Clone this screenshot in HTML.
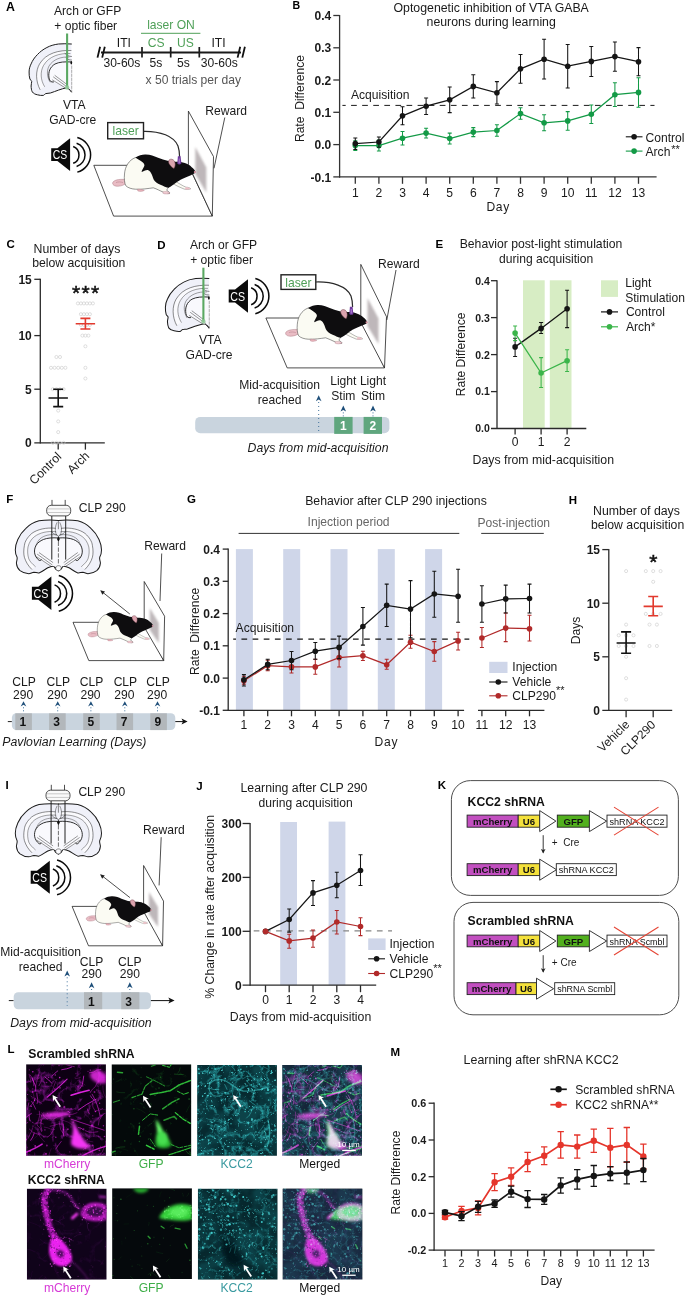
<!DOCTYPE html>
<html><head><meta charset="utf-8"><title>Figure</title>
<style>html,body{margin:0;padding:0;background:#fff}svg{display:block}text{font-family:"Liberation Sans",sans-serif}</style></head>
<body>
<svg width="685" height="1295" viewBox="0 0 685 1295">
<rect width="685" height="1295" fill="#fff"/>
<defs><filter id="b1" x="-20%" y="-20%" width="140%" height="140%"><feGaussianBlur stdDeviation="0.9"/></filter></defs>
<text x="6.0" y="10.8" font-size="12.3" font-weight="bold" fill="#000">A</text>
<text x="54.0" y="15.4" font-size="12.1" fill="#1a1a1a">Arch or GFP</text>
<text x="54.3" y="30.0" font-size="12.1" fill="#1a1a1a">+ optic fiber</text>
<g transform="translate(29.0 43.0) scale(1.0)" fill="none" stroke="#1c1c1c" stroke-width="0.5" stroke-linecap="round">
<path d="M42.4 1C38 0.6 33.5 0.7 29.5 1C25 1.6 21 2.8 17.9 4.5C14 6.5 11 8.8 8.5 11.5C5.5 14.5 3.5 17.5 2.1 20.9C0.8 23.5 0.1 26 0.1 29C0 31.5 0.3 34 0.9 36C1.4 37.2 2.6 37.6 2.7 38.4C2.8 40 2 41.4 2.1 43C2.2 45.2 2.4 47.2 3.3 48.9C4.5 50.6 6.4 51.4 8.5 51.8C10.5 52.3 12.6 52.7 14.4 52.4C15.4 52 15.8 50.9 16.7 50.6C18.2 50.2 19.8 50.4 21.4 50C24.2 49.2 26.8 48 29.5 47.1C32.2 46.2 35 45.2 37.7 44.8C39.5 45 41 46.8 42.4 48.9Z" fill="#f0f1f9" stroke="none"/>
<path d="M42.4 1C38 0.6 33.5 0.7 29.5 1C25 1.6 21 2.8 17.9 4.5C14 6.5 11 8.8 8.5 11.5C5.5 14.5 3.5 17.5 2.1 20.9C0.8 23.5 0.1 26 0.1 29C0 31.5 0.3 34 0.9 36C1.4 37.2 2.6 37.6 2.7 38.4C2.8 40 2 41.4 2.1 43C2.2 45.2 2.4 47.2 3.3 48.9C4.5 50.6 6.4 51.4 8.5 51.8C10.5 52.3 12.6 52.7 14.4 52.4C15.4 52 15.8 50.9 16.7 50.6C18.2 50.2 19.8 50.4 21.4 50C24.2 49.2 26.8 48 29.5 47.1C32.2 46.2 35 45.2 37.7 44.8C39.5 45 41 46.8 42.4 48.9" stroke-width="1"/>
<path d="M42 7.5C30 7 17 10 10.5 21C6.5 28 6.5 38 11 46.5L15.5 43.5C11.5 37 11 29 14.5 22.5C20 13 31 10 41 10.5Z" fill="#fafafd" stroke="none"/>
<path d="M42 7.5C30 7 17 10 10.5 21C6.5 28 6.5 38 11 46.5"/>
<path d="M41 10.5C31 10 20 13 14.5 22.5C11 29 11.5 37 15.5 43.5" stroke-width="0.4"/>
<path d="M40 14C32 13.5 24 16.5 20 23C17.5 28 18 34 21 39" stroke-width="0.4"/>
<path d="M42.4 19C36 18.5 30 19 26 21C21 24 19 29 20 35C20.5 38 22 39.5 24.5 39L37 44.6L42.4 46Z" fill="#f9f9fd" stroke="none"/>
<path d="M42.4 19C36 18.5 30 19 26 21C21 24 19 29 20 35C20.5 38 22 39.5 24.5 39" stroke-width="0.9"/>
<path d="M24.5 34L37.5 43.5M23.5 37L36.5 45M26 32.5L38 41.5" stroke-width="0.45"/>
<path d="M36 10.5C38 12.5 40 13.5 42.5 13.5M37 15C39 17 41 17 42.5 17M38.5 44C39.5 46.5 41 48 42.4 48.6" stroke-width="0.5"/>
<ellipse cx="42.3" cy="19.8" rx="0.9" ry="1.7" fill="#111" stroke="none"/>
<path d="M42.7 23V49" stroke="#777" stroke-dasharray="2.5 1.5" stroke-width="0.6"/>
</g>
<line x1="67.1" y1="33.5" x2="67.1" y2="87.5" stroke="#5aa862" stroke-width="2.1" />
<circle cx="67.1" cy="87.5" r="2.2" fill="#8fca96" opacity="0.8"/>
<text x="74.2" y="109.1" font-size="12.1" text-anchor="middle" fill="#1a1a1a">VTA</text>
<text x="72.7" y="123.7" font-size="12.1" text-anchor="middle" fill="#1a1a1a">GAD-cre</text>
<text x="171.0" y="29.2" font-size="12.1" text-anchor="middle" fill="#4fa058">laser ON</text>
<line x1="141.0" y1="33.3" x2="200.4" y2="33.3" stroke="#4fa058" stroke-width="1" />
<text x="123.9" y="46.7" font-size="12.1" text-anchor="middle" fill="#1a1a1a">ITI</text>
<text x="156.2" y="46.7" font-size="12.1" text-anchor="middle" fill="#4fa058">CS</text>
<text x="185.4" y="46.7" font-size="12.1" text-anchor="middle" fill="#4fa058">US</text>
<text x="218.5" y="46.7" font-size="12.1" text-anchor="middle" fill="#1a1a1a">ITI</text>
<line x1="101.0" y1="52.5" x2="241.0" y2="52.5" stroke="#1a1a1a" stroke-width="1.8" />
<line x1="142.0" y1="47.0" x2="142.0" y2="57.5" stroke="#1a1a1a" stroke-width="1.7" />
<line x1="170.7" y1="47.0" x2="170.7" y2="57.5" stroke="#1a1a1a" stroke-width="1.7" />
<line x1="199.3" y1="47.0" x2="199.3" y2="57.5" stroke="#1a1a1a" stroke-width="1.7" />
<path d="M100.1 46.8L97.5 57.6M104.8 46.8L102.2 57.6" stroke="#111" stroke-width="1.8"/>
<path d="M240.2 46.8L237.6 57.6M244.9 46.8L242.29999999999998 57.6" stroke="#111" stroke-width="1.8"/>
<text x="121.9" y="66.7" font-size="12.1" text-anchor="middle" fill="#1a1a1a">30-60s</text>
<text x="156.0" y="66.7" font-size="12.1" text-anchor="middle" fill="#1a1a1a">5s</text>
<text x="183.3" y="66.7" font-size="12.1" text-anchor="middle" fill="#1a1a1a">5s</text>
<text x="219.2" y="66.7" font-size="12.1" text-anchor="middle" fill="#1a1a1a">30-60s</text>
<text x="145.5" y="83.7" font-size="12.1" fill="#555">x 50 trials per day</text>
<text x="205.3" y="115.3" font-size="12.1" fill="#1a1a1a">Reward</text>
<polygon points="93.8,165.3 188.4,165.3 212.3,216.1 113.6,216.1" fill="#fff" stroke="#222" stroke-width="0.8"/>
<polygon points="188.4,111.1 213.5,156.6 212.3,216.1 188.4,164.8" fill="#fff" stroke="#222" stroke-width="0.8"/>
<line x1="224.8" y1="117.5" x2="214.0" y2="168.3" stroke="#222" stroke-width="0.8" />
<polygon points="195.3,147 206.3,167.5 206.3,192.5 195.3,174" fill="#b3abae" opacity="0.85" filter="url(#b1)"/>
<rect x="107.7" y="122.6" width="35.8" height="16.2" fill="#fff" stroke="#222" stroke-width="1.4" />
<text x="125.6" y="135.2" font-size="12.1" text-anchor="middle" fill="#4fa058">laser</text>
<path d="M143.5 131.3C160 131 174 136 178 146C179.3 150 179.6 154 179.6 157" fill="none" stroke="#2a2a2a" stroke-width="1.2"/>
<g transform="translate(112.0 154.0) scale(1.0)">
<path d="M13.5 25.5C9 25 3 25.5 1 28C-0.5 30.5 2.5 32.6 6.5 32.2C9.5 32 12 31 13.8 29.6Z" fill="#e9bcc4" stroke="#9a6470" stroke-width="0.4"/>
<path d="M4 28.6C6 27.6 9 27.8 11 28.6" fill="none" stroke="#b98590" stroke-width="0.6"/>
<path d="M63 27C67 29.5 71 32 74 33.2C76 33.2 78 33.8 78.8 34.8C76.5 35.8 73.5 35.6 72 35C68 33.5 64 31.5 60.5 29.5Z" fill="#fbfbf3" stroke="#333" stroke-width="0.35"/>
<path d="M73.5 33.3C75.5 33.1 78 33.8 78.8 34.8C77 35.6 74.8 35.6 73 35.2Z" fill="#eec0c8"/>
<path d="M23.4 3.6C17 6 13 12.5 12.5 20C12 25 12.5 29 13.8 31.7C16 34 20 35 23.4 35.2C30 35.6 36 34.5 41.3 33.8C45 35 48 36.8 50.9 38C52.5 39.2 55 39.8 57.5 39.6C58.2 38.6 57 37.6 55.5 37.2C54.5 36 55 34.8 56.4 33.8L58 20L36 4Z" fill="#fbfbf3" stroke="#2a2a2a" stroke-width="0.5"/>
<path d="M25.5 35.3C27.5 35 30.5 35.4 32.4 36.4C30.5 37.6 27.5 37.7 25.8 37Z" fill="#e9b3bb" stroke="#9a6470" stroke-width="0.3"/>
<path d="M51 37.9C53 37.2 56.5 37.6 58 39C56 40.3 52.5 40.2 50.9 39.3Z" fill="#f3cfd5" stroke="#9a6470" stroke-width="0.3"/>
<path d="M23.4 3.6C26.5 1.6 30 0.7 33 0.6C38 0.4 42 2.2 45.4 3.6C49 5 53 6.3 56.4 7C58.5 7.4 61 7.5 63.2 7.7C66.5 7.6 70 8 72.8 9.1C75.5 10 78 11.5 79.7 13.2C81.5 14.5 83 16.3 83.5 18C83.3 19.2 81 20.4 78.3 21.4C75.5 22.6 72.5 23.8 70.1 24.9C68 26 66 27.2 64.6 28.3C62 30.5 59 32.5 56.4 33.8C54.5 33.6 52.5 32.6 50.9 31.7C47.5 30.5 44.5 29 42.7 26.9C41 25 40.8 22.8 39.9 20.8C39 18.6 37.8 16.6 35.8 16C33.5 15.8 31.5 17.5 29.6 18C29.6 16 31.8 14 32.4 11.8C32.6 9.8 30.8 8.2 28.9 7C27 5.8 25 4.6 23.4 3.6Z" fill="#0e0d0f"/>
<path d="M57 6C58.5 4.6 61 5 62.4 7C63.6 9.4 63.4 12.6 62 14.4C60 13.6 58 11.6 57 9.4C56.4 8 56.4 6.8 57 6Z" fill="#dba3ae" stroke="#6a3e48" stroke-width="0.5"/>
<circle cx="82.9" cy="18.1" r="1.1" fill="#d995a2"/>
<path d="M65.9 2.2H68.6L69.4 9.6C68.2 10.8 66.4 10.8 65.3 9.6Z" fill="#6f3a9c"/>
<path d="M66.7 4.5H67.9L68.2 9C67.6 9.5 67 9.5 66.5 9Z" fill="#a070c8"/>
</g>
<g transform="translate(51.2 137.3) scale(1.0)">
<path d="M0 11H6.2L18.9 1V33.7L6.2 23.7H0Z" fill="#0a0a0a"/>
<path d="M22 9.2A9 9 0 0 1 22 26" fill="none" stroke="#0a0a0a" stroke-width="1.5"/>
<path d="M25.4 6A12.2 12.2 0 0 1 25.4 29.2" fill="none" stroke="#0a0a0a" stroke-width="1.5"/>
<path d="M26.1 0.2A17.9 17.9 0 0 1 26.1 34.8" fill="none" stroke="#0a0a0a" stroke-width="1.5"/>
<text x="1.6" y="21.9" font-size="12.3" fill="#fff" textLength="14.5" lengthAdjust="spacingAndGlyphs">CS</text>
</g>
<text x="292.5" y="8.9" font-size="10.6" font-weight="bold" fill="#000">B</text>
<text x="491.2" y="11.8" font-size="12.3" text-anchor="middle" fill="#1a1a1a">Optogenetic inhibition of VTA GABA</text>
<text x="491.2" y="26.2" font-size="12.3" text-anchor="middle" fill="#1a1a1a">neurons during learning</text>
<line x1="339.6" y1="15.0" x2="339.6" y2="177.6" stroke="#333" stroke-width="1.3" />
<line x1="339.0" y1="176.9" x2="656.6" y2="176.9" stroke="#333" stroke-width="1.3" />
<line x1="333.3" y1="15.5" x2="339.6" y2="15.5" stroke="#333" stroke-width="1.3" />
<text x="331.2" y="20.1" font-size="12" text-anchor="end" font-weight="bold" fill="#1a1a1a">0.4</text>
<line x1="333.3" y1="47.8" x2="339.6" y2="47.8" stroke="#333" stroke-width="1.3" />
<text x="331.2" y="52.4" font-size="12" text-anchor="end" font-weight="bold" fill="#1a1a1a">0.3</text>
<line x1="333.3" y1="80.0" x2="339.6" y2="80.0" stroke="#333" stroke-width="1.3" />
<text x="331.2" y="84.6" font-size="12" text-anchor="end" font-weight="bold" fill="#1a1a1a">0.2</text>
<line x1="333.3" y1="112.3" x2="339.6" y2="112.3" stroke="#333" stroke-width="1.3" />
<text x="331.2" y="116.9" font-size="12" text-anchor="end" font-weight="bold" fill="#1a1a1a">0.1</text>
<line x1="333.3" y1="144.6" x2="339.6" y2="144.6" stroke="#333" stroke-width="1.3" />
<text x="331.2" y="149.2" font-size="12" text-anchor="end" font-weight="bold" fill="#1a1a1a">0.0</text>
<line x1="333.3" y1="176.9" x2="339.6" y2="176.9" stroke="#333" stroke-width="1.3" />
<text x="331.2" y="181.5" font-size="12" text-anchor="end" font-weight="bold" fill="#1a1a1a">-0.1</text>
<line x1="355.3" y1="176.9" x2="355.3" y2="183.8" stroke="#333" stroke-width="1.3" />
<text x="355.3" y="196.6" font-size="12.1" text-anchor="middle" fill="#1a1a1a">1</text>
<line x1="378.9" y1="176.9" x2="378.9" y2="183.8" stroke="#333" stroke-width="1.3" />
<text x="378.9" y="196.6" font-size="12.1" text-anchor="middle" fill="#1a1a1a">2</text>
<line x1="402.5" y1="176.9" x2="402.5" y2="183.8" stroke="#333" stroke-width="1.3" />
<text x="402.5" y="196.6" font-size="12.1" text-anchor="middle" fill="#1a1a1a">3</text>
<line x1="426.1" y1="176.9" x2="426.1" y2="183.8" stroke="#333" stroke-width="1.3" />
<text x="426.1" y="196.6" font-size="12.1" text-anchor="middle" fill="#1a1a1a">4</text>
<line x1="449.7" y1="176.9" x2="449.7" y2="183.8" stroke="#333" stroke-width="1.3" />
<text x="449.7" y="196.6" font-size="12.1" text-anchor="middle" fill="#1a1a1a">5</text>
<line x1="473.3" y1="176.9" x2="473.3" y2="183.8" stroke="#333" stroke-width="1.3" />
<text x="473.3" y="196.6" font-size="12.1" text-anchor="middle" fill="#1a1a1a">6</text>
<line x1="496.9" y1="176.9" x2="496.9" y2="183.8" stroke="#333" stroke-width="1.3" />
<text x="496.9" y="196.6" font-size="12.1" text-anchor="middle" fill="#1a1a1a">7</text>
<line x1="520.5" y1="176.9" x2="520.5" y2="183.8" stroke="#333" stroke-width="1.3" />
<text x="520.5" y="196.6" font-size="12.1" text-anchor="middle" fill="#1a1a1a">8</text>
<line x1="544.1" y1="176.9" x2="544.1" y2="183.8" stroke="#333" stroke-width="1.3" />
<text x="544.1" y="196.6" font-size="12.1" text-anchor="middle" fill="#1a1a1a">9</text>
<line x1="567.7" y1="176.9" x2="567.7" y2="183.8" stroke="#333" stroke-width="1.3" />
<text x="567.7" y="196.6" font-size="12.1" text-anchor="middle" fill="#1a1a1a">10</text>
<line x1="591.3" y1="176.9" x2="591.3" y2="183.8" stroke="#333" stroke-width="1.3" />
<text x="591.3" y="196.6" font-size="12.1" text-anchor="middle" fill="#1a1a1a">11</text>
<line x1="614.9" y1="176.9" x2="614.9" y2="183.8" stroke="#333" stroke-width="1.3" />
<text x="614.9" y="196.6" font-size="12.1" text-anchor="middle" fill="#1a1a1a">12</text>
<line x1="638.5" y1="176.9" x2="638.5" y2="183.8" stroke="#333" stroke-width="1.3" />
<text x="638.5" y="196.6" font-size="12.1" text-anchor="middle" fill="#1a1a1a">13</text>
<text x="498.2" y="210.9" font-size="12.1" text-anchor="middle" fill="#1a1a1a" letter-spacing="0.6">Day</text>
<text x="304.0" y="98.5" font-size="12.1" text-anchor="middle" fill="#1a1a1a" transform="rotate(-90 304.0 98.5)" xml:space="preserve">Rate  Difference</text>
<line x1="342.4" y1="105.4" x2="654.5" y2="105.4" stroke="#1a1a1a" stroke-width="1.0" stroke-dasharray="5.7 5.385" stroke-dashoffset="2.4"/>
<text x="351.0" y="99.3" font-size="12.1" fill="#1a1a1a">Acquisition</text>
<path d="M355.3 150.4V140.8M353.3 150.4h4.0M353.3 140.8h4.0M378.9 151.0V140.1M376.9 151.0h4.0M376.9 140.1h4.0M402.5 144.9V131.5M400.5 144.9h4.0M400.5 131.5h4.0M426.1 137.9V128.3M424.1 137.9h4.0M424.1 128.3h4.0M449.7 144.0V133.1M447.7 144.0h4.0M447.7 133.1h4.0M473.3 136.6V127.6M471.3 136.6h4.0M471.3 127.6h4.0M496.9 136.3V124.8M494.9 136.3h4.0M494.9 124.8h4.0M520.5 119.3V107.8M518.5 119.3h4.0M518.5 107.8h4.0M544.1 130.8V114.8M542.1 130.8h4.0M542.1 114.8h4.0M567.7 130.2V111.6M565.7 130.2h4.0M565.7 111.6h4.0M591.3 123.5V104.9M589.3 123.5h4.0M589.3 104.9h4.0M614.9 106.5V82.8M612.9 106.5h4.0M612.9 82.8h4.0M638.5 107.2V77.7M636.5 107.2h4.0M636.5 77.7h4.0" stroke="#139a46" stroke-width="1.05" fill="none"/>
<polyline points="355.3,145.6 378.9,145.6 402.5,138.2 426.1,133.1 449.7,138.5 473.3,132.1 496.9,130.5 520.5,113.6 544.1,122.8 567.7,120.9 591.3,114.2 614.9,94.7 638.5,92.4" fill="none" stroke="#139a46" stroke-width="1.25"/>
<circle cx="355.3" cy="145.6" r="2.8" fill="#139a46"/>
<circle cx="378.9" cy="145.6" r="2.8" fill="#139a46"/>
<circle cx="402.5" cy="138.2" r="2.8" fill="#139a46"/>
<circle cx="426.1" cy="133.1" r="2.8" fill="#139a46"/>
<circle cx="449.7" cy="138.5" r="2.8" fill="#139a46"/>
<circle cx="473.3" cy="132.1" r="2.8" fill="#139a46"/>
<circle cx="496.9" cy="130.5" r="2.8" fill="#139a46"/>
<circle cx="520.5" cy="113.6" r="2.8" fill="#139a46"/>
<circle cx="544.1" cy="122.8" r="2.8" fill="#139a46"/>
<circle cx="567.7" cy="120.9" r="2.8" fill="#139a46"/>
<circle cx="591.3" cy="114.2" r="2.8" fill="#139a46"/>
<circle cx="614.9" cy="94.7" r="2.8" fill="#139a46"/>
<circle cx="638.5" cy="92.4" r="2.8" fill="#139a46"/>
<path d="M355.3 149.4V137.9M353.3 149.4h4.0M353.3 137.9h4.0M378.9 147.2V136.9M376.9 147.2h4.0M376.9 136.9h4.0M402.5 124.8V106.8M400.5 124.8h4.0M400.5 106.8h4.0M426.1 114.5V97.9M424.1 114.5h4.0M424.1 97.9h4.0M449.7 112.6V87.0M447.7 112.6h4.0M447.7 87.0h4.0M473.3 97.9V74.8M471.3 97.9h4.0M471.3 74.8h4.0M496.9 104.0V81.6M494.9 104.0h4.0M494.9 81.6h4.0M520.5 83.2V54.4M518.5 83.2h4.0M518.5 54.4h4.0M544.1 79.0V39.3M542.1 79.0h4.0M542.1 39.3h4.0M567.7 88.0V44.4M565.7 88.0h4.0M565.7 44.4h4.0M591.3 76.4V46.4M589.3 76.4h4.0M589.3 46.4h4.0M614.9 71.3V41.9M612.9 71.3h4.0M612.9 41.9h4.0M638.5 75.8V47.6M636.5 75.8h4.0M636.5 47.6h4.0" stroke="#151515" stroke-width="1.05" fill="none"/>
<polyline points="355.3,143.6 378.9,142.0 402.5,115.8 426.1,106.2 449.7,99.8 473.3,86.4 496.9,92.8 520.5,68.8 544.1,59.2 567.7,66.2 591.3,61.4 614.9,56.6 638.5,61.7" fill="none" stroke="#151515" stroke-width="1.25"/>
<circle cx="355.3" cy="143.6" r="2.8" fill="#151515"/>
<circle cx="378.9" cy="142.0" r="2.8" fill="#151515"/>
<circle cx="402.5" cy="115.8" r="2.8" fill="#151515"/>
<circle cx="426.1" cy="106.2" r="2.8" fill="#151515"/>
<circle cx="449.7" cy="99.8" r="2.8" fill="#151515"/>
<circle cx="473.3" cy="86.4" r="2.8" fill="#151515"/>
<circle cx="496.9" cy="92.8" r="2.8" fill="#151515"/>
<circle cx="520.5" cy="68.8" r="2.8" fill="#151515"/>
<circle cx="544.1" cy="59.2" r="2.8" fill="#151515"/>
<circle cx="567.7" cy="66.2" r="2.8" fill="#151515"/>
<circle cx="591.3" cy="61.4" r="2.8" fill="#151515"/>
<circle cx="614.9" cy="56.6" r="2.8" fill="#151515"/>
<circle cx="638.5" cy="61.7" r="2.8" fill="#151515"/>
<line x1="625.8" y1="136.8" x2="642.5" y2="136.8" stroke="#151515" stroke-width="1.1" />
<circle cx="634.1" cy="136.8" r="2.8" fill="#151515"/>
<text x="645.5" y="141.8" font-size="12.1" fill="#1a1a1a">Control</text>
<line x1="625.8" y1="151.1" x2="642.5" y2="151.1" stroke="#139a46" stroke-width="1.1" />
<circle cx="634.1" cy="151.1" r="2.8" fill="#139a46"/>
<text x="645.5" y="156.2" font-size="12.1" fill="#1a1a1a">Arch<tspan dy="-3.2" dx="0.8" font-size="11">**</tspan></text>
<text x="6.6" y="248.4" font-size="11.5" font-weight="bold" fill="#000">C</text>
<text x="77.0" y="252.6" font-size="12.3" text-anchor="middle" fill="#1a1a1a">Number of days</text>
<text x="78.8" y="266.9" font-size="12.25" text-anchor="middle" fill="#1a1a1a">below acquisition</text>
<line x1="40.3" y1="278.8" x2="40.3" y2="443.4" stroke="#2a2a2a" stroke-width="1.3" />
<line x1="34.3" y1="442.8" x2="104.8" y2="442.8" stroke="#2a2a2a" stroke-width="1.3" />
<line x1="34.3" y1="279.3" x2="40.3" y2="279.3" stroke="#2a2a2a" stroke-width="1.3" />
<text x="31.8" y="283.6" font-size="12" text-anchor="end" font-weight="bold" fill="#1a1a1a">15</text>
<line x1="34.3" y1="335.6" x2="40.3" y2="335.6" stroke="#2a2a2a" stroke-width="1.3" />
<text x="31.8" y="339.9" font-size="12" text-anchor="end" font-weight="bold" fill="#1a1a1a">10</text>
<line x1="34.3" y1="389.2" x2="40.3" y2="389.2" stroke="#2a2a2a" stroke-width="1.3" />
<text x="31.8" y="393.5" font-size="12" text-anchor="end" font-weight="bold" fill="#1a1a1a">5</text>
<text x="31.8" y="447.1" font-size="12" text-anchor="end" font-weight="bold" fill="#1a1a1a">0</text>
<line x1="58.2" y1="442.8" x2="58.2" y2="449.6" stroke="#2a2a2a" stroke-width="1.3" />
<line x1="85.4" y1="442.8" x2="85.4" y2="449.6" stroke="#2a2a2a" stroke-width="1.3" />
<circle cx="56.4" cy="357.0" r="1.55" fill="none" stroke="#c9c9c9" stroke-width="0.6"/>
<circle cx="60.0" cy="357.0" r="1.55" fill="none" stroke="#c9c9c9" stroke-width="0.6"/>
<circle cx="51.0" cy="367.8" r="1.55" fill="none" stroke="#c9c9c9" stroke-width="0.6"/>
<circle cx="54.6" cy="367.8" r="1.55" fill="none" stroke="#c9c9c9" stroke-width="0.6"/>
<circle cx="58.2" cy="367.8" r="1.55" fill="none" stroke="#c9c9c9" stroke-width="0.6"/>
<circle cx="61.8" cy="367.8" r="1.55" fill="none" stroke="#c9c9c9" stroke-width="0.6"/>
<circle cx="65.4" cy="367.8" r="1.55" fill="none" stroke="#c9c9c9" stroke-width="0.6"/>
<circle cx="52.8" cy="389.2" r="1.55" fill="none" stroke="#c9c9c9" stroke-width="0.6"/>
<circle cx="56.4" cy="389.2" r="1.55" fill="none" stroke="#c9c9c9" stroke-width="0.6"/>
<circle cx="60.0" cy="389.2" r="1.55" fill="none" stroke="#c9c9c9" stroke-width="0.6"/>
<circle cx="63.6" cy="389.2" r="1.55" fill="none" stroke="#c9c9c9" stroke-width="0.6"/>
<circle cx="58.2" cy="410.6" r="1.55" fill="none" stroke="#c9c9c9" stroke-width="0.6"/>
<circle cx="58.2" cy="421.4" r="1.55" fill="none" stroke="#c9c9c9" stroke-width="0.6"/>
<circle cx="58.2" cy="432.1" r="1.55" fill="none" stroke="#c9c9c9" stroke-width="0.6"/>
<circle cx="52.8" cy="442.8" r="1.55" fill="none" stroke="#c9c9c9" stroke-width="0.6"/>
<circle cx="56.4" cy="442.8" r="1.55" fill="none" stroke="#c9c9c9" stroke-width="0.6"/>
<circle cx="60.0" cy="442.8" r="1.55" fill="none" stroke="#c9c9c9" stroke-width="0.6"/>
<circle cx="63.6" cy="442.8" r="1.55" fill="none" stroke="#c9c9c9" stroke-width="0.6"/>
<circle cx="77.9" cy="303.4" r="1.55" fill="none" stroke="#c9c9c9" stroke-width="0.6"/>
<circle cx="80.9" cy="303.4" r="1.55" fill="none" stroke="#c9c9c9" stroke-width="0.6"/>
<circle cx="83.9" cy="303.4" r="1.55" fill="none" stroke="#c9c9c9" stroke-width="0.6"/>
<circle cx="86.9" cy="303.4" r="1.55" fill="none" stroke="#c9c9c9" stroke-width="0.6"/>
<circle cx="89.9" cy="303.4" r="1.55" fill="none" stroke="#c9c9c9" stroke-width="0.6"/>
<circle cx="92.9" cy="303.4" r="1.55" fill="none" stroke="#c9c9c9" stroke-width="0.6"/>
<circle cx="80.9" cy="314.2" r="1.55" fill="none" stroke="#c9c9c9" stroke-width="0.6"/>
<circle cx="83.9" cy="314.2" r="1.55" fill="none" stroke="#c9c9c9" stroke-width="0.6"/>
<circle cx="86.9" cy="314.2" r="1.55" fill="none" stroke="#c9c9c9" stroke-width="0.6"/>
<circle cx="89.9" cy="314.2" r="1.55" fill="none" stroke="#c9c9c9" stroke-width="0.6"/>
<circle cx="80.9" cy="324.9" r="1.55" fill="none" stroke="#c9c9c9" stroke-width="0.6"/>
<circle cx="83.9" cy="324.9" r="1.55" fill="none" stroke="#c9c9c9" stroke-width="0.6"/>
<circle cx="86.9" cy="324.9" r="1.55" fill="none" stroke="#c9c9c9" stroke-width="0.6"/>
<circle cx="89.9" cy="324.9" r="1.55" fill="none" stroke="#c9c9c9" stroke-width="0.6"/>
<circle cx="82.4" cy="335.6" r="1.55" fill="none" stroke="#c9c9c9" stroke-width="0.6"/>
<circle cx="85.4" cy="335.6" r="1.55" fill="none" stroke="#c9c9c9" stroke-width="0.6"/>
<circle cx="88.4" cy="335.6" r="1.55" fill="none" stroke="#c9c9c9" stroke-width="0.6"/>
<circle cx="85.4" cy="346.3" r="1.55" fill="none" stroke="#c9c9c9" stroke-width="0.6"/>
<circle cx="85.4" cy="367.8" r="1.55" fill="none" stroke="#c9c9c9" stroke-width="0.6"/>
<circle cx="85.4" cy="378.5" r="1.55" fill="none" stroke="#c9c9c9" stroke-width="0.6"/>
<path d="M48.5 398.0h19.4M58.2 406.6V389.3M53.2 406.6h10.0M53.2 389.3h10.0" stroke="#111" stroke-width="1.6" fill="none"/>
<path d="M75.7 323.8h19.4M85.4 329.0V318.4M80.4 329.0h10.0M80.4 318.4h10.0" stroke="#e23a2e" stroke-width="1.6" fill="none"/>
<text x="86.2" y="300.2" font-size="21" text-anchor="middle" fill="#111" letter-spacing="1.3" stroke="#111" stroke-width="0.5">***</text>
<text x="62.3" y="457.3" font-size="12.3" text-anchor="end" fill="#1a1a1a" transform="rotate(-45 62.3 457.3)">Control</text>
<text x="90.2" y="456.6" font-size="12.3" text-anchor="end" fill="#1a1a1a" transform="rotate(-45 90.2 456.6)">Arch</text>
<text x="157.2" y="248.5" font-size="11.5" font-weight="bold" fill="#000">D</text>
<text x="189.9" y="248.8" font-size="12.1" fill="#1a1a1a">Arch or GFP</text>
<text x="190.2" y="264.2" font-size="12.1" fill="#1a1a1a">+ optic fiber</text>
<g transform="translate(165.3 277.5) scale(1.03)" fill="none" stroke="#1c1c1c" stroke-width="0.5" stroke-linecap="round">
<path d="M42.4 1C38 0.6 33.5 0.7 29.5 1C25 1.6 21 2.8 17.9 4.5C14 6.5 11 8.8 8.5 11.5C5.5 14.5 3.5 17.5 2.1 20.9C0.8 23.5 0.1 26 0.1 29C0 31.5 0.3 34 0.9 36C1.4 37.2 2.6 37.6 2.7 38.4C2.8 40 2 41.4 2.1 43C2.2 45.2 2.4 47.2 3.3 48.9C4.5 50.6 6.4 51.4 8.5 51.8C10.5 52.3 12.6 52.7 14.4 52.4C15.4 52 15.8 50.9 16.7 50.6C18.2 50.2 19.8 50.4 21.4 50C24.2 49.2 26.8 48 29.5 47.1C32.2 46.2 35 45.2 37.7 44.8C39.5 45 41 46.8 42.4 48.9Z" fill="#f0f1f9" stroke="none"/>
<path d="M42.4 1C38 0.6 33.5 0.7 29.5 1C25 1.6 21 2.8 17.9 4.5C14 6.5 11 8.8 8.5 11.5C5.5 14.5 3.5 17.5 2.1 20.9C0.8 23.5 0.1 26 0.1 29C0 31.5 0.3 34 0.9 36C1.4 37.2 2.6 37.6 2.7 38.4C2.8 40 2 41.4 2.1 43C2.2 45.2 2.4 47.2 3.3 48.9C4.5 50.6 6.4 51.4 8.5 51.8C10.5 52.3 12.6 52.7 14.4 52.4C15.4 52 15.8 50.9 16.7 50.6C18.2 50.2 19.8 50.4 21.4 50C24.2 49.2 26.8 48 29.5 47.1C32.2 46.2 35 45.2 37.7 44.8C39.5 45 41 46.8 42.4 48.9" stroke-width="1"/>
<path d="M42 7.5C30 7 17 10 10.5 21C6.5 28 6.5 38 11 46.5L15.5 43.5C11.5 37 11 29 14.5 22.5C20 13 31 10 41 10.5Z" fill="#fafafd" stroke="none"/>
<path d="M42 7.5C30 7 17 10 10.5 21C6.5 28 6.5 38 11 46.5"/>
<path d="M41 10.5C31 10 20 13 14.5 22.5C11 29 11.5 37 15.5 43.5" stroke-width="0.4"/>
<path d="M40 14C32 13.5 24 16.5 20 23C17.5 28 18 34 21 39" stroke-width="0.4"/>
<path d="M42.4 19C36 18.5 30 19 26 21C21 24 19 29 20 35C20.5 38 22 39.5 24.5 39L37 44.6L42.4 46Z" fill="#f9f9fd" stroke="none"/>
<path d="M42.4 19C36 18.5 30 19 26 21C21 24 19 29 20 35C20.5 38 22 39.5 24.5 39" stroke-width="0.9"/>
<path d="M24.5 34L37.5 43.5M23.5 37L36.5 45M26 32.5L38 41.5" stroke-width="0.45"/>
<path d="M36 10.5C38 12.5 40 13.5 42.5 13.5M37 15C39 17 41 17 42.5 17M38.5 44C39.5 46.5 41 48 42.4 48.6" stroke-width="0.5"/>
<ellipse cx="42.3" cy="19.8" rx="0.9" ry="1.7" fill="#111" stroke="none"/>
<path d="M42.7 23V49" stroke="#777" stroke-dasharray="2.5 1.5" stroke-width="0.6"/>
</g>
<line x1="203.4" y1="267.7" x2="203.4" y2="321.7" stroke="#5aa862" stroke-width="2.1" />
<circle cx="203.4" cy="321.5" r="2.2" fill="#8fca96" opacity="0.8"/>
<text x="210.2" y="343.8" font-size="12.1" text-anchor="middle" fill="#1a1a1a">VTA</text>
<text x="209.1" y="358.9" font-size="12.1" text-anchor="middle" fill="#1a1a1a">GAD-cre</text>
<g transform="translate(228.7 278.3) scale(1.02)">
<path d="M0 11H6.2L18.9 1V33.7L6.2 23.7H0Z" fill="#0a0a0a"/>
<path d="M22 9.2A9 9 0 0 1 22 26" fill="none" stroke="#0a0a0a" stroke-width="1.5"/>
<path d="M25.4 6A12.2 12.2 0 0 1 25.4 29.2" fill="none" stroke="#0a0a0a" stroke-width="1.5"/>
<path d="M26.1 0.2A17.9 17.9 0 0 1 26.1 34.8" fill="none" stroke="#0a0a0a" stroke-width="1.5"/>
<text x="1.6" y="21.9" font-size="12.3" fill="#fff" textLength="14.5" lengthAdjust="spacingAndGlyphs">CS</text>
</g>
<text x="378.0" y="267.7" font-size="12.1" fill="#1a1a1a">Reward</text>
<polygon points="265.9,318.0 361.0,318.0 384.5,367.9 287.2,367.9" fill="#fff" stroke="#222" stroke-width="0.8"/>
<polygon points="360.8,264.4 386.5,316.8 384.5,367.9 360.8,322.5" fill="#fff" stroke="#222" stroke-width="0.8"/>
<line x1="396.0" y1="270.0" x2="386.8" y2="320.0" stroke="#222" stroke-width="0.8" />
<polygon points="367.5,298 378.5,318.5 378.5,344 367.5,326" fill="#b3abae" opacity="0.85" filter="url(#b1)"/>
<rect x="281.0" y="274.8" width="34.8" height="14.6" fill="#fff" stroke="#222" stroke-width="1.4" />
<text x="298.4" y="286.6" font-size="12.1" text-anchor="middle" fill="#4fa058">laser</text>
<path d="M315.8 282C332 281.5 347 286 351 296C352.3 300 352.6 304 352.6 307" fill="none" stroke="#2a2a2a" stroke-width="1.2"/>
<g transform="translate(285.0 304.5) scale(0.985)">
<path d="M13.5 25.5C9 25 3 25.5 1 28C-0.5 30.5 2.5 32.6 6.5 32.2C9.5 32 12 31 13.8 29.6Z" fill="#e9bcc4" stroke="#9a6470" stroke-width="0.4"/>
<path d="M4 28.6C6 27.6 9 27.8 11 28.6" fill="none" stroke="#b98590" stroke-width="0.6"/>
<path d="M63 27C67 29.5 71 32 74 33.2C76 33.2 78 33.8 78.8 34.8C76.5 35.8 73.5 35.6 72 35C68 33.5 64 31.5 60.5 29.5Z" fill="#fbfbf3" stroke="#333" stroke-width="0.35"/>
<path d="M73.5 33.3C75.5 33.1 78 33.8 78.8 34.8C77 35.6 74.8 35.6 73 35.2Z" fill="#eec0c8"/>
<path d="M23.4 3.6C17 6 13 12.5 12.5 20C12 25 12.5 29 13.8 31.7C16 34 20 35 23.4 35.2C30 35.6 36 34.5 41.3 33.8C45 35 48 36.8 50.9 38C52.5 39.2 55 39.8 57.5 39.6C58.2 38.6 57 37.6 55.5 37.2C54.5 36 55 34.8 56.4 33.8L58 20L36 4Z" fill="#fbfbf3" stroke="#2a2a2a" stroke-width="0.5"/>
<path d="M25.5 35.3C27.5 35 30.5 35.4 32.4 36.4C30.5 37.6 27.5 37.7 25.8 37Z" fill="#e9b3bb" stroke="#9a6470" stroke-width="0.3"/>
<path d="M51 37.9C53 37.2 56.5 37.6 58 39C56 40.3 52.5 40.2 50.9 39.3Z" fill="#f3cfd5" stroke="#9a6470" stroke-width="0.3"/>
<path d="M23.4 3.6C26.5 1.6 30 0.7 33 0.6C38 0.4 42 2.2 45.4 3.6C49 5 53 6.3 56.4 7C58.5 7.4 61 7.5 63.2 7.7C66.5 7.6 70 8 72.8 9.1C75.5 10 78 11.5 79.7 13.2C81.5 14.5 83 16.3 83.5 18C83.3 19.2 81 20.4 78.3 21.4C75.5 22.6 72.5 23.8 70.1 24.9C68 26 66 27.2 64.6 28.3C62 30.5 59 32.5 56.4 33.8C54.5 33.6 52.5 32.6 50.9 31.7C47.5 30.5 44.5 29 42.7 26.9C41 25 40.8 22.8 39.9 20.8C39 18.6 37.8 16.6 35.8 16C33.5 15.8 31.5 17.5 29.6 18C29.6 16 31.8 14 32.4 11.8C32.6 9.8 30.8 8.2 28.9 7C27 5.8 25 4.6 23.4 3.6Z" fill="#0e0d0f"/>
<path d="M57 6C58.5 4.6 61 5 62.4 7C63.6 9.4 63.4 12.6 62 14.4C60 13.6 58 11.6 57 9.4C56.4 8 56.4 6.8 57 6Z" fill="#dba3ae" stroke="#6a3e48" stroke-width="0.5"/>
<circle cx="82.9" cy="18.1" r="1.1" fill="#d995a2"/>
<path d="M65.9 2.2H68.6L69.4 9.6C68.2 10.8 66.4 10.8 65.3 9.6Z" fill="#6f3a9c"/>
<path d="M66.7 4.5H67.9L68.2 9C67.6 9.5 67 9.5 66.5 9Z" fill="#a070c8"/>
</g>
<rect x="195.2" y="416.9" width="194.2" height="16.4" fill="#c9d4de" rx="5" />
<rect x="334.2" y="416.9" width="18.4" height="17.0" fill="#5fa67e" />
<text x="343.4" y="430.2" font-size="12" text-anchor="middle" font-weight="bold" fill="#fff">1</text>
<rect x="363.6" y="416.9" width="18.4" height="17.0" fill="#5fa67e" />
<text x="372.8" y="430.2" font-size="12" text-anchor="middle" font-weight="bold" fill="#fff">2</text>
<text x="279.6" y="389.3" font-size="12.1" text-anchor="middle" fill="#1a1a1a">Mid-acquisition</text>
<text x="279.6" y="404.4" font-size="12.1" text-anchor="middle" fill="#1a1a1a">reached</text>
<text x="343.3" y="385.3" font-size="12.1" text-anchor="middle" fill="#1a1a1a">Light</text>
<text x="343.3" y="400.4" font-size="12.1" text-anchor="middle" fill="#1a1a1a">Stim</text>
<line x1="343.3" y1="412.4" x2="343.3" y2="416.9" stroke="#41729c" stroke-width="1.0" stroke-dasharray="1 2"/>
<path d="M343.3 405.6L346.1 411.6L343.3 409.9L340.5 411.6Z" fill="#1d4e79"/>
<text x="373.0" y="385.3" font-size="12.1" text-anchor="middle" fill="#1a1a1a">Light</text>
<text x="373.0" y="400.4" font-size="12.1" text-anchor="middle" fill="#1a1a1a">Stim</text>
<line x1="373.0" y1="412.4" x2="373.0" y2="416.9" stroke="#41729c" stroke-width="1.0" stroke-dasharray="1 2"/>
<path d="M373.0 405.6L375.8 411.6L373.0 409.9L370.2 411.6Z" fill="#1d4e79"/>
<line x1="318.7" y1="402.0" x2="318.7" y2="431.0" stroke="#41729c" stroke-width="1.0" stroke-dasharray="1 3"/>
<path d="M318.7 395.2L321.5 401.2L318.7 399.5L315.9 401.2Z" fill="#1d4e79"/>
<text x="318.0" y="451.6" font-size="12.25" text-anchor="middle" font-style="italic" fill="#1a1a1a">Days from mid-acquisition</text>
<text x="435.4" y="247.7" font-size="11.5" font-weight="bold" fill="#000">E</text>
<text x="541.0" y="247.8" font-size="12.2" text-anchor="middle" fill="#1a1a1a">Behavior post-light stimulation</text>
<text x="546.1" y="262.6" font-size="12.1" text-anchor="middle" fill="#1a1a1a">during acquisition</text>
<rect x="523.0" y="280.3" width="21.7" height="148.2" fill="#d7edc4" />
<rect x="549.8" y="280.3" width="21.7" height="148.2" fill="#d7edc4" />
<line x1="497.0" y1="280.2" x2="497.0" y2="429.0" stroke="#2a2a2a" stroke-width="1.3" />
<line x1="491.0" y1="428.5" x2="586.3" y2="428.5" stroke="#2a2a2a" stroke-width="1.3" />
<line x1="491.0" y1="280.7" x2="497.0" y2="280.7" stroke="#2a2a2a" stroke-width="1.3" />
<text x="489.8" y="284.6" font-size="10.5" text-anchor="end" font-weight="bold" fill="#1a1a1a">0.4</text>
<line x1="491.0" y1="317.6" x2="497.0" y2="317.6" stroke="#2a2a2a" stroke-width="1.3" />
<text x="489.8" y="321.5" font-size="10.5" text-anchor="end" font-weight="bold" fill="#1a1a1a">0.3</text>
<line x1="491.0" y1="354.6" x2="497.0" y2="354.6" stroke="#2a2a2a" stroke-width="1.3" />
<text x="489.8" y="358.5" font-size="10.5" text-anchor="end" font-weight="bold" fill="#1a1a1a">0.2</text>
<line x1="491.0" y1="391.6" x2="497.0" y2="391.6" stroke="#2a2a2a" stroke-width="1.3" />
<text x="489.8" y="395.4" font-size="10.5" text-anchor="end" font-weight="bold" fill="#1a1a1a">0.1</text>
<text x="489.8" y="432.4" font-size="10.5" text-anchor="end" font-weight="bold" fill="#1a1a1a">0.0</text>
<line x1="515.1" y1="428.5" x2="515.1" y2="434.5" stroke="#2a2a2a" stroke-width="1.3" />
<text x="515.1" y="446.4" font-size="12.1" text-anchor="middle" fill="#1a1a1a">0</text>
<line x1="541.1" y1="428.5" x2="541.1" y2="434.5" stroke="#2a2a2a" stroke-width="1.3" />
<text x="541.1" y="446.4" font-size="12.1" text-anchor="middle" fill="#1a1a1a">1</text>
<line x1="567.1" y1="428.5" x2="567.1" y2="434.5" stroke="#2a2a2a" stroke-width="1.3" />
<text x="567.1" y="446.4" font-size="12.1" text-anchor="middle" fill="#1a1a1a">2</text>
<text x="465.2" y="354.4" font-size="12.1" text-anchor="middle" fill="#1a1a1a" transform="rotate(-90 465.2 354.4)">Rate Difference</text>
<text x="543.3" y="463.8" font-size="12.3" text-anchor="middle" fill="#1a1a1a">Days from mid-acquisition</text>
<path d="M515.1 356.4V338.3M513.1 356.4h4.0M513.1 338.3h4.0M541.1 333.5V322.5M539.1 333.5h4.0M539.1 322.5h4.0M567.1 327.6V290.2M565.1 327.6h4.0M565.1 290.2h4.0" stroke="#151515" stroke-width="1.05" fill="none"/>
<polyline points="515.1,346.9 541.1,328.4 567.1,308.7" fill="none" stroke="#151515" stroke-width="1.3"/>
<circle cx="515.1" cy="346.9" r="2.8" fill="#151515"/>
<circle cx="541.1" cy="328.4" r="2.8" fill="#151515"/>
<circle cx="567.1" cy="308.7" r="2.8" fill="#151515"/>
<path d="M515.1 340.6V326.0M513.1 340.6h4.0M513.1 326.0h4.0M541.1 387.5V357.6M539.1 387.5h4.0M539.1 357.6h4.0M567.1 371.4V349.7M565.1 371.4h4.0M565.1 349.7h4.0" stroke="#3bb54a" stroke-width="1.05" fill="none"/>
<polyline points="515.1,333.1 541.1,373.0 567.1,360.7" fill="none" stroke="#3bb54a" stroke-width="1.3"/>
<circle cx="515.1" cy="333.1" r="2.8" fill="#3bb54a"/>
<circle cx="541.1" cy="373.0" r="2.8" fill="#3bb54a"/>
<circle cx="567.1" cy="360.7" r="2.8" fill="#3bb54a"/>
<rect x="601.0" y="280.3" width="17.0" height="16.6" fill="#d7edc4" />
<text x="625.2" y="287.3" font-size="12.1" fill="#1a1a1a">Light</text>
<text x="625.2" y="301.5" font-size="12.1" fill="#1a1a1a">Stimulation</text>
<line x1="601.0" y1="311.9" x2="618.0" y2="311.9" stroke="#151515" stroke-width="1.2" />
<circle cx="609.5" cy="311.9" r="2.8" fill="#151515"/>
<text x="625.9" y="316.1" font-size="12.1" fill="#1a1a1a">Control</text>
<line x1="601.0" y1="326.8" x2="618.0" y2="326.8" stroke="#3bb54a" stroke-width="1.2" />
<circle cx="609.5" cy="326.8" r="2.8" fill="#3bb54a"/>
<text x="625.9" y="331.2" font-size="12.1" fill="#1a1a1a">Arch*</text>
<text x="6.2" y="503.4" font-size="11.5" font-weight="bold" fill="#000">F</text>
<text x="78.8" y="511.7" font-size="12.1" fill="#1a1a1a">CLP 290</text>
<g transform="translate(15.3 519.6) scale(1.0 1.02)" fill="none" stroke="#1c1c1c" stroke-width="0.5" stroke-linecap="round">
<path d="M43.1 0.8C36 0.3 29.5 0.4 23.7 1.2C18.5 2.6 14 5.2 10.6 8.5C7 11.6 4.3 15.4 2.5 19.5C1 22.8 0 26.2 0 29.7C0 32.4 0.7 35 1.8 37C2.3 39 1 41 1.1 42.8C1.4 45.8 2.7 48.4 4.7 50.1C7.2 52 10.3 53 13.5 53C15.4 52.9 16.8 51.7 18.6 51.6C20.3 51.6 22 52.6 23.7 52.3C26.9 51.2 29.6 48.8 32.5 47.2C34.3 46.3 36.5 45.5 38.3 45.7C39.3 46.5 39.8 47.8 40.5 48.7C41.2 49.5 42.1 50 43.1 50.1V0.8Z" fill="#f0f1f9" stroke="none"/><path d="M43.1 0.8C36 0.3 29.5 0.4 23.7 1.2C18.5 2.6 14 5.2 10.6 8.5C7 11.6 4.3 15.4 2.5 19.5C1 22.8 0 26.2 0 29.7C0 32.4 0.7 35 1.8 37C2.3 39 1 41 1.1 42.8C1.4 45.8 2.7 48.4 4.7 50.1C7.2 52 10.3 53 13.5 53C15.4 52.9 16.8 51.7 18.6 51.6C20.3 51.6 22 52.6 23.7 52.3C26.9 51.2 29.6 48.8 32.5 47.2C34.3 46.3 36.5 45.5 38.3 45.7C39.3 46.5 39.8 47.8 40.5 48.7C41.2 49.5 42.1 50 43.1 50.1V0.8Z" transform="translate(86.2 0) scale(-1 1)" fill="#f0f1f9" stroke="none"/>
<g>
<path d="M43.1 0.8C36 0.3 29.5 0.4 23.7 1.2C18.5 2.6 14 5.2 10.6 8.5C7 11.6 4.3 15.4 2.5 19.5C1 22.8 0 26.2 0 29.7C0 32.4 0.7 35 1.8 37C2.3 39 1 41 1.1 42.8C1.4 45.8 2.7 48.4 4.7 50.1C7.2 52 10.3 53 13.5 53C15.4 52.9 16.8 51.7 18.6 51.6C20.3 51.6 22 52.6 23.7 52.3C26.9 51.2 29.6 48.8 32.5 47.2C34.3 46.3 36.5 45.5 38.3 45.7C39.3 46.5 39.8 47.8 40.5 48.7C41.2 49.5 42.1 50 43.1 50.1" stroke-width="1"/>
<path d="M40 8.5C31 7.5 22 9.5 16.4 13.6C12 17.5 9.5 21.5 9.1 25.3C8.2 30 8.3 34 9.1 37C10.5 41.5 13 45.5 16.4 48.7L20 46C17 43.5 14.5 41 13.5 38.5C12.3 35 12 30.5 12.7 26.8C13.8 22.5 16 19 19.3 16.6C24.5 12.8 32 11 40.5 11.8Z" fill="#fafafd" stroke="none"/>
<path d="M40 8.5C31 7.5 22 9.5 16.4 13.6C12 17.5 9.5 21.5 9.1 25.3C8.2 30 8.3 34 9.1 37C10.5 41.5 13 45.5 16.4 48.7"/>
<path d="M40.5 11.8C32 11 24.5 12.8 19.3 16.6C16 19 13.8 22.5 12.7 26.8C12 30.5 12.3 35 13.5 38.5C14.5 41 17 43.5 20 46" stroke-width="0.4"/>
<path d="M41 15C35 14 28.5 15.5 24.5 19C21.5 22 20 26 20.2 30" stroke-width="0.4"/>
<path d="M43.2 18C37 17.6 32 18 28.1 19.5C24.8 20.8 22.2 22.8 20.8 25.3C19.4 27.6 19 30.2 19.3 32.6C19.7 35.4 21.2 38 23.7 39.9L37 45.4L43.2 46Z" fill="#f9f9fd" stroke="none"/>
<path d="M42.7 18C37 17.6 32 18 28.1 19.5C24.8 20.8 22.2 22.8 20.8 25.3C19.4 27.6 19 30.2 19.3 32.6C19.7 35.4 21.2 38 23.7 39.9C24.6 40.4 25.6 40.2 26 39.4" stroke-width="0.9"/>
<path d="M22.2 34.1L36.8 44.3M21.6 36.6L35.5 45.6M24 32.5L37.5 42" stroke-width="0.45"/>
<path d="M41.6 3C40 6 39.4 10 40.6 13.6C41.2 15 42 16 43 16.4" stroke-width="0.45"/>
<path d="M36 11.5C37.5 13.5 39.5 14.8 41.6 15.2" stroke-width="0.45"/>
</g>
<g transform="translate(86.2 0) scale(-1 1)">
<path d="M43.1 0.8C36 0.3 29.5 0.4 23.7 1.2C18.5 2.6 14 5.2 10.6 8.5C7 11.6 4.3 15.4 2.5 19.5C1 22.8 0 26.2 0 29.7C0 32.4 0.7 35 1.8 37C2.3 39 1 41 1.1 42.8C1.4 45.8 2.7 48.4 4.7 50.1C7.2 52 10.3 53 13.5 53C15.4 52.9 16.8 51.7 18.6 51.6C20.3 51.6 22 52.6 23.7 52.3C26.9 51.2 29.6 48.8 32.5 47.2C34.3 46.3 36.5 45.5 38.3 45.7C39.3 46.5 39.8 47.8 40.5 48.7C41.2 49.5 42.1 50 43.1 50.1" stroke-width="1"/>
<path d="M40 8.5C31 7.5 22 9.5 16.4 13.6C12 17.5 9.5 21.5 9.1 25.3C8.2 30 8.3 34 9.1 37C10.5 41.5 13 45.5 16.4 48.7L20 46C17 43.5 14.5 41 13.5 38.5C12.3 35 12 30.5 12.7 26.8C13.8 22.5 16 19 19.3 16.6C24.5 12.8 32 11 40.5 11.8Z" fill="#fafafd" stroke="none"/>
<path d="M40 8.5C31 7.5 22 9.5 16.4 13.6C12 17.5 9.5 21.5 9.1 25.3C8.2 30 8.3 34 9.1 37C10.5 41.5 13 45.5 16.4 48.7"/>
<path d="M40.5 11.8C32 11 24.5 12.8 19.3 16.6C16 19 13.8 22.5 12.7 26.8C12 30.5 12.3 35 13.5 38.5C14.5 41 17 43.5 20 46" stroke-width="0.4"/>
<path d="M41 15C35 14 28.5 15.5 24.5 19C21.5 22 20 26 20.2 30" stroke-width="0.4"/>
<path d="M43.2 18C37 17.6 32 18 28.1 19.5C24.8 20.8 22.2 22.8 20.8 25.3C19.4 27.6 19 30.2 19.3 32.6C19.7 35.4 21.2 38 23.7 39.9L37 45.4L43.2 46Z" fill="#f9f9fd" stroke="none"/>
<path d="M42.7 18C37 17.6 32 18 28.1 19.5C24.8 20.8 22.2 22.8 20.8 25.3C19.4 27.6 19 30.2 19.3 32.6C19.7 35.4 21.2 38 23.7 39.9C24.6 40.4 25.6 40.2 26 39.4" stroke-width="0.9"/>
<path d="M22.2 34.1L36.8 44.3M21.6 36.6L35.5 45.6M24 32.5L37.5 42" stroke-width="0.45"/>
<path d="M41.6 3C40 6 39.4 10 40.6 13.6C41.2 15 42 16 43 16.4" stroke-width="0.45"/>
<path d="M36 11.5C37.5 13.5 39.5 14.8 41.6 15.2" stroke-width="0.45"/>
</g>
<path d="M43.1 1V9" stroke-width="0.5"/>
<path d="M43.1 22V44" stroke="#333" stroke-dasharray="3.5 2.2" stroke-width="0.7"/>
<path d="M43.1 16.4L44.5 19.1L43.1 22L41.7 19.1Z" fill="#111" stroke="none"/>
<path d="M40.3 47C40.6 44.5 45.6 44.5 45.9 47C46.1 49 44.6 50.2 43.1 50.2C41.6 50.2 40.1 49 40.3 47Z" fill="#fbfbfd" stroke-width="0.5"/>
</g>
<g fill="none" stroke="#222" stroke-width="0.8">
<path d="M52.0 499.9v5.4M65.2 499.9v5.4"/>
<path d="M51.8 515.9V559.6M65.7 515.9V559.6" stroke-width="1"/>
<rect x="46.7" y="505.3" width="24" height="10.6" rx="4.5" fill="#fafafa"/>
<path d="M47.2 508.9h23M47.2 512.5h23" stroke="#999" stroke-width="0.5"/>
</g>
<g transform="translate(31.9 575.4) scale(1.03)">
<path d="M0 11H6.2L18.9 1V33.7L6.2 23.7H0Z" fill="#0a0a0a"/>
<path d="M22 9.2A9 9 0 0 1 22 26" fill="none" stroke="#0a0a0a" stroke-width="1.5"/>
<path d="M25.4 6A12.2 12.2 0 0 1 25.4 29.2" fill="none" stroke="#0a0a0a" stroke-width="1.5"/>
<path d="M26.1 0.2A17.9 17.9 0 0 1 26.1 34.8" fill="none" stroke="#0a0a0a" stroke-width="1.5"/>
<text x="1.6" y="21.9" font-size="12.3" fill="#fff" textLength="14.5" lengthAdjust="spacingAndGlyphs">CS</text>
</g>
<path d="M129.8 614L101.5 591.3" stroke="#222" stroke-width="0.8" fill="none"/>
<path d="M100.2 590.3L105 591.6L102.4 594.8Z" fill="#222"/>
<text x="144.2" y="549.7" font-size="12.1" fill="#1a1a1a">Reward</text>
<polygon points="73.0,622.3 144.2,622.3 163.7,660.6 88.8,660.6" fill="#fff" stroke="#222" stroke-width="0.8"/>
<polygon points="144.2,581.5 164.6,616.2 163.7,660.6 144.2,627.0" fill="#fff" stroke="#222" stroke-width="0.8"/>
<line x1="161.7" y1="553.5" x2="160.0" y2="601.0" stroke="#222" stroke-width="0.8" />
<polygon points="149.8,608 158.8,623 158.8,643 149.8,630" fill="#b3abae" opacity="0.85" filter="url(#b1)"/>
<g transform="translate(87.6 611.6) scale(0.785)">
<path d="M13.5 25.5C9 25 3 25.5 1 28C-0.5 30.5 2.5 32.6 6.5 32.2C9.5 32 12 31 13.8 29.6Z" fill="#e9bcc4" stroke="#9a6470" stroke-width="0.4"/>
<path d="M4 28.6C6 27.6 9 27.8 11 28.6" fill="none" stroke="#b98590" stroke-width="0.6"/>
<path d="M63 27C67 29.5 71 32 74 33.2C76 33.2 78 33.8 78.8 34.8C76.5 35.8 73.5 35.6 72 35C68 33.5 64 31.5 60.5 29.5Z" fill="#fbfbf3" stroke="#333" stroke-width="0.35"/>
<path d="M73.5 33.3C75.5 33.1 78 33.8 78.8 34.8C77 35.6 74.8 35.6 73 35.2Z" fill="#eec0c8"/>
<path d="M23.4 3.6C17 6 13 12.5 12.5 20C12 25 12.5 29 13.8 31.7C16 34 20 35 23.4 35.2C30 35.6 36 34.5 41.3 33.8C45 35 48 36.8 50.9 38C52.5 39.2 55 39.8 57.5 39.6C58.2 38.6 57 37.6 55.5 37.2C54.5 36 55 34.8 56.4 33.8L58 20L36 4Z" fill="#fbfbf3" stroke="#2a2a2a" stroke-width="0.5"/>
<path d="M25.5 35.3C27.5 35 30.5 35.4 32.4 36.4C30.5 37.6 27.5 37.7 25.8 37Z" fill="#e9b3bb" stroke="#9a6470" stroke-width="0.3"/>
<path d="M51 37.9C53 37.2 56.5 37.6 58 39C56 40.3 52.5 40.2 50.9 39.3Z" fill="#f3cfd5" stroke="#9a6470" stroke-width="0.3"/>
<path d="M23.4 3.6C26.5 1.6 30 0.7 33 0.6C38 0.4 42 2.2 45.4 3.6C49 5 53 6.3 56.4 7C58.5 7.4 61 7.5 63.2 7.7C66.5 7.6 70 8 72.8 9.1C75.5 10 78 11.5 79.7 13.2C81.5 14.5 83 16.3 83.5 18C83.3 19.2 81 20.4 78.3 21.4C75.5 22.6 72.5 23.8 70.1 24.9C68 26 66 27.2 64.6 28.3C62 30.5 59 32.5 56.4 33.8C54.5 33.6 52.5 32.6 50.9 31.7C47.5 30.5 44.5 29 42.7 26.9C41 25 40.8 22.8 39.9 20.8C39 18.6 37.8 16.6 35.8 16C33.5 15.8 31.5 17.5 29.6 18C29.6 16 31.8 14 32.4 11.8C32.6 9.8 30.8 8.2 28.9 7C27 5.8 25 4.6 23.4 3.6Z" fill="#0e0d0f"/>
<path d="M57 6C58.5 4.6 61 5 62.4 7C63.6 9.4 63.4 12.6 62 14.4C60 13.6 58 11.6 57 9.4C56.4 8 56.4 6.8 57 6Z" fill="#dba3ae" stroke="#6a3e48" stroke-width="0.5"/>
<circle cx="82.9" cy="18.1" r="1.1" fill="#d995a2"/>
</g>
<line x1="7.8" y1="721.6" x2="11.9" y2="721.6" stroke="#222" stroke-width="1" />
<rect x="11.9" y="713.3" width="163.4" height="16.8" fill="#c9d4de" rx="4.5" />
<rect x="15.3" y="713.3" width="16.6" height="16.8" fill="#b2b7bb" />
<text x="22.9" y="726.2" font-size="12" text-anchor="middle" font-weight="bold" fill="#111">1</text>
<text x="24.1" y="685.6" font-size="12.1" text-anchor="middle" fill="#1a1a1a">CLP</text>
<text x="23.1" y="698.8" font-size="12.1" text-anchor="middle" fill="#1a1a1a">290</text>
<line x1="23.5" y1="707.3" x2="23.5" y2="713.3" stroke="#41729c" stroke-width="1.0" stroke-dasharray="1 2"/>
<path d="M23.5 701.3L26.3 706.5L23.5 704.8L20.7 706.5Z" fill="#1d4e79"/>
<rect x="49.1" y="713.3" width="16.6" height="16.8" fill="#b2b7bb" />
<text x="56.7" y="726.2" font-size="12" text-anchor="middle" font-weight="bold" fill="#111">3</text>
<text x="58.3" y="685.6" font-size="12.1" text-anchor="middle" fill="#1a1a1a">CLP</text>
<text x="57.3" y="698.8" font-size="12.1" text-anchor="middle" fill="#1a1a1a">290</text>
<line x1="57.7" y1="707.3" x2="57.7" y2="713.3" stroke="#41729c" stroke-width="1.0" stroke-dasharray="1 2"/>
<path d="M57.7 701.3L60.5 706.5L57.7 704.8L54.9 706.5Z" fill="#1d4e79"/>
<rect x="83.2" y="713.3" width="16.6" height="16.8" fill="#b2b7bb" />
<text x="90.8" y="726.2" font-size="12" text-anchor="middle" font-weight="bold" fill="#111">5</text>
<text x="91.5" y="685.6" font-size="12.1" text-anchor="middle" fill="#1a1a1a">CLP</text>
<text x="90.5" y="698.8" font-size="12.1" text-anchor="middle" fill="#1a1a1a">290</text>
<line x1="90.9" y1="707.3" x2="90.9" y2="713.3" stroke="#41729c" stroke-width="1.0" stroke-dasharray="1 2"/>
<path d="M90.9 701.3L93.7 706.5L90.9 704.8L88.1 706.5Z" fill="#1d4e79"/>
<rect x="116.5" y="713.3" width="16.6" height="16.8" fill="#b2b7bb" />
<text x="124.1" y="726.2" font-size="12" text-anchor="middle" font-weight="bold" fill="#111">7</text>
<text x="125.4" y="685.6" font-size="12.1" text-anchor="middle" fill="#1a1a1a">CLP</text>
<text x="124.4" y="698.8" font-size="12.1" text-anchor="middle" fill="#1a1a1a">290</text>
<line x1="124.8" y1="707.3" x2="124.8" y2="713.3" stroke="#41729c" stroke-width="1.0" stroke-dasharray="1 2"/>
<path d="M124.8 701.3L127.6 706.5L124.8 704.8L122.0 706.5Z" fill="#1d4e79"/>
<rect x="150.3" y="713.3" width="16.6" height="16.8" fill="#b2b7bb" />
<text x="157.9" y="726.2" font-size="12" text-anchor="middle" font-weight="bold" fill="#111">9</text>
<text x="158.1" y="685.6" font-size="12.1" text-anchor="middle" fill="#1a1a1a">CLP</text>
<text x="157.1" y="698.8" font-size="12.1" text-anchor="middle" fill="#1a1a1a">290</text>
<line x1="157.5" y1="707.3" x2="157.5" y2="713.3" stroke="#41729c" stroke-width="1.0" stroke-dasharray="1 2"/>
<path d="M157.5 701.3L160.3 706.5L157.5 704.8L154.7 706.5Z" fill="#1d4e79"/>
<line x1="175.3" y1="721.6" x2="184.0" y2="721.6" stroke="#111" stroke-width="1" />
<path d="M187.6 721.6L181.5 718.6L183 721.6L181.5 724.6Z" fill="#111"/>
<text x="2.2" y="746.4" font-size="12.3" font-style="italic" fill="#1a1a1a">Pavlovian Learning (Days)</text>
<text x="187.0" y="502.9" font-size="11.5" font-weight="bold" fill="#000">G</text>
<text x="396.0" y="505.4" font-size="12.25" text-anchor="middle" fill="#1a1a1a">Behavior after CLP 290 injections</text>
<text x="348.6" y="525.5" font-size="12.1" text-anchor="middle" fill="#666">Injection period</text>
<line x1="238.6" y1="533.4" x2="459.3" y2="533.4" stroke="#333" stroke-width="1" />
<text x="513.8" y="527.4" font-size="12.1" text-anchor="middle" fill="#666">Post-injection</text>
<line x1="481.2" y1="533.4" x2="543.8" y2="533.4" stroke="#333" stroke-width="1" />
<rect x="235.9" y="549.1" width="17.0" height="161.2" fill="#cfd6e9" />
<rect x="283.2" y="549.1" width="17.0" height="161.2" fill="#cfd6e9" />
<rect x="330.5" y="549.1" width="17.0" height="161.2" fill="#cfd6e9" />
<rect x="377.8" y="549.1" width="17.0" height="161.2" fill="#cfd6e9" />
<rect x="425.1" y="549.1" width="17.0" height="161.2" fill="#cfd6e9" />
<line x1="228.2" y1="548.6" x2="228.2" y2="710.8" stroke="#2a2a2a" stroke-width="1.3" />
<line x1="227.7" y1="710.3" x2="464.1" y2="710.3" stroke="#2a2a2a" stroke-width="1.3" />
<line x1="478.0" y1="710.3" x2="544.4" y2="710.3" stroke="#2a2a2a" stroke-width="1.3" />
<line x1="222.7" y1="549.1" x2="228.2" y2="549.1" stroke="#2a2a2a" stroke-width="1.3" />
<text x="219.9" y="553.5" font-size="12" text-anchor="end" font-weight="bold" fill="#1a1a1a">0.4</text>
<line x1="222.7" y1="581.3" x2="228.2" y2="581.3" stroke="#2a2a2a" stroke-width="1.3" />
<text x="219.9" y="585.7" font-size="12" text-anchor="end" font-weight="bold" fill="#1a1a1a">0.3</text>
<line x1="222.7" y1="613.6" x2="228.2" y2="613.6" stroke="#2a2a2a" stroke-width="1.3" />
<text x="219.9" y="618.0" font-size="12" text-anchor="end" font-weight="bold" fill="#1a1a1a">0.2</text>
<line x1="222.7" y1="645.8" x2="228.2" y2="645.8" stroke="#2a2a2a" stroke-width="1.3" />
<text x="219.9" y="650.2" font-size="12" text-anchor="end" font-weight="bold" fill="#1a1a1a">0.1</text>
<line x1="222.7" y1="678.1" x2="228.2" y2="678.1" stroke="#2a2a2a" stroke-width="1.3" />
<text x="219.9" y="682.5" font-size="12" text-anchor="end" font-weight="bold" fill="#1a1a1a">0.0</text>
<line x1="222.7" y1="710.3" x2="228.2" y2="710.3" stroke="#2a2a2a" stroke-width="1.3" />
<text x="219.9" y="714.7" font-size="12" text-anchor="end" font-weight="bold" fill="#1a1a1a">-0.1</text>
<line x1="243.9" y1="710.3" x2="243.9" y2="716.3" stroke="#2a2a2a" stroke-width="1.3" />
<text x="243.9" y="729.4" font-size="12.1" text-anchor="middle" fill="#1a1a1a">1</text>
<line x1="267.7" y1="710.3" x2="267.7" y2="716.3" stroke="#2a2a2a" stroke-width="1.3" />
<text x="267.7" y="729.4" font-size="12.1" text-anchor="middle" fill="#1a1a1a">2</text>
<line x1="291.5" y1="710.3" x2="291.5" y2="716.3" stroke="#2a2a2a" stroke-width="1.3" />
<text x="291.5" y="729.4" font-size="12.1" text-anchor="middle" fill="#1a1a1a">3</text>
<line x1="315.3" y1="710.3" x2="315.3" y2="716.3" stroke="#2a2a2a" stroke-width="1.3" />
<text x="315.3" y="729.4" font-size="12.1" text-anchor="middle" fill="#1a1a1a">4</text>
<line x1="339.1" y1="710.3" x2="339.1" y2="716.3" stroke="#2a2a2a" stroke-width="1.3" />
<text x="339.1" y="729.4" font-size="12.1" text-anchor="middle" fill="#1a1a1a">5</text>
<line x1="362.9" y1="710.3" x2="362.9" y2="716.3" stroke="#2a2a2a" stroke-width="1.3" />
<text x="362.9" y="729.4" font-size="12.1" text-anchor="middle" fill="#1a1a1a">6</text>
<line x1="386.7" y1="710.3" x2="386.7" y2="716.3" stroke="#2a2a2a" stroke-width="1.3" />
<text x="386.7" y="729.4" font-size="12.1" text-anchor="middle" fill="#1a1a1a">7</text>
<line x1="410.5" y1="710.3" x2="410.5" y2="716.3" stroke="#2a2a2a" stroke-width="1.3" />
<text x="410.5" y="729.4" font-size="12.1" text-anchor="middle" fill="#1a1a1a">8</text>
<line x1="434.3" y1="710.3" x2="434.3" y2="716.3" stroke="#2a2a2a" stroke-width="1.3" />
<text x="434.3" y="729.4" font-size="12.1" text-anchor="middle" fill="#1a1a1a">9</text>
<line x1="458.1" y1="710.3" x2="458.1" y2="716.3" stroke="#2a2a2a" stroke-width="1.3" />
<text x="458.1" y="729.4" font-size="12.1" text-anchor="middle" fill="#1a1a1a">10</text>
<line x1="481.9" y1="710.3" x2="481.9" y2="716.3" stroke="#2a2a2a" stroke-width="1.3" />
<text x="481.9" y="729.4" font-size="12.1" text-anchor="middle" fill="#1a1a1a">11</text>
<line x1="505.7" y1="710.3" x2="505.7" y2="716.3" stroke="#2a2a2a" stroke-width="1.3" />
<text x="505.7" y="729.4" font-size="12.1" text-anchor="middle" fill="#1a1a1a">12</text>
<line x1="529.5" y1="710.3" x2="529.5" y2="716.3" stroke="#2a2a2a" stroke-width="1.3" />
<text x="529.5" y="729.4" font-size="12.1" text-anchor="middle" fill="#1a1a1a">13</text>
<text x="386.5" y="746.0" font-size="12.1" text-anchor="middle" fill="#1a1a1a" letter-spacing="0.8">Day</text>
<text x="198.8" y="631.3" font-size="12.1" text-anchor="middle" fill="#1a1a1a" transform="rotate(-90 198.8 631.3)" xml:space="preserve">Rate  Difference</text>
<line x1="233.2" y1="639.1" x2="469.3" y2="639.1" stroke="#151515" stroke-width="1.05" stroke-dasharray="5.7 5.45" stroke-dashoffset="2.9"/>
<text x="235.6" y="632.3" font-size="12.1" fill="#1a1a1a">Acquisition</text>
<path d="M243.9 684.3V676.3M241.9 684.3h4.0M241.9 676.3h4.0M267.7 670.8V660.2M265.7 670.8h4.0M265.7 660.2h4.0M291.5 673.0V661.2M289.5 673.0h4.0M289.5 661.2h4.0M315.3 674.3V659.2M313.3 674.3h4.0M313.3 659.2h4.0M339.1 666.9V648.3M337.1 666.9h4.0M337.1 648.3h4.0M362.9 660.5V651.2M360.9 660.5h4.0M360.9 651.2h4.0M386.7 669.2V659.2M384.7 669.2h4.0M384.7 659.2h4.0M410.5 648.3V635.2M408.5 648.3h4.0M408.5 635.2h4.0M434.3 661.2V641.6M432.3 661.2h4.0M432.3 641.6h4.0M458.1 649.9V632.3M456.1 649.9h4.0M456.1 632.3h4.0" stroke="#b12a2a" stroke-width="1.05" fill="none"/>
<polyline points="243.9,680.8 267.7,665.7 291.5,666.9 315.3,666.9 339.1,657.6 362.9,655.7 386.7,664.7 410.5,642.2 434.3,651.5 458.1,640.9" fill="none" stroke="#b12a2a" stroke-width="1.25"/>
<circle cx="243.9" cy="680.8" r="2.8" fill="#b12a2a"/>
<circle cx="267.7" cy="665.7" r="2.8" fill="#b12a2a"/>
<circle cx="291.5" cy="666.9" r="2.8" fill="#b12a2a"/>
<circle cx="315.3" cy="666.9" r="2.8" fill="#b12a2a"/>
<circle cx="339.1" cy="657.6" r="2.8" fill="#b12a2a"/>
<circle cx="362.9" cy="655.7" r="2.8" fill="#b12a2a"/>
<circle cx="386.7" cy="664.7" r="2.8" fill="#b12a2a"/>
<circle cx="410.5" cy="642.2" r="2.8" fill="#b12a2a"/>
<circle cx="434.3" cy="651.5" r="2.8" fill="#b12a2a"/>
<circle cx="458.1" cy="640.9" r="2.8" fill="#b12a2a"/>
<path d="M243.9 685.9V674.6M241.9 685.9h4.0M241.9 674.6h4.0M267.7 669.8V659.2M265.7 669.8h4.0M265.7 659.2h4.0M291.5 669.8V651.5M289.5 669.8h4.0M289.5 651.5h4.0M315.3 659.2V642.5M313.3 659.2h4.0M313.3 642.5h4.0M339.1 658.6V636.1M337.1 658.6h4.0M337.1 636.1h4.0M362.9 645.1V607.5M360.9 645.1h4.0M360.9 607.5h4.0M386.7 626.5V584.1M384.7 626.5h4.0M384.7 584.1h4.0M410.5 637.7V580.6M408.5 637.7h4.0M408.5 580.6h4.0M434.3 617.2V571.2M432.3 617.2h4.0M432.3 571.2h4.0M458.1 622.3V569.3M456.1 622.3h4.0M456.1 569.3h4.0" stroke="#151515" stroke-width="1.05" fill="none"/>
<polyline points="243.9,679.8 267.7,664.4 291.5,660.5 315.3,651.2 339.1,647.4 362.9,626.5 386.7,605.3 410.5,609.1 434.3,594.0 458.1,596.3" fill="none" stroke="#151515" stroke-width="1.25"/>
<circle cx="243.9" cy="679.8" r="2.8" fill="#151515"/>
<circle cx="267.7" cy="664.4" r="2.8" fill="#151515"/>
<circle cx="291.5" cy="660.5" r="2.8" fill="#151515"/>
<circle cx="315.3" cy="651.2" r="2.8" fill="#151515"/>
<circle cx="339.1" cy="647.4" r="2.8" fill="#151515"/>
<circle cx="362.9" cy="626.5" r="2.8" fill="#151515"/>
<circle cx="386.7" cy="605.3" r="2.8" fill="#151515"/>
<circle cx="410.5" cy="609.1" r="2.8" fill="#151515"/>
<circle cx="434.3" cy="594.0" r="2.8" fill="#151515"/>
<circle cx="458.1" cy="596.3" r="2.8" fill="#151515"/>
<path d="M481.9 647.4V627.4M479.9 647.4h4.0M479.9 627.4h4.0M505.7 641.6V613.0M503.7 641.6h4.0M503.7 613.0h4.0M529.5 640.9V615.2M527.5 640.9h4.0M527.5 615.2h4.0" stroke="#b12a2a" stroke-width="1.05" fill="none"/>
<polyline points="481.9,638.0 505.7,628.1 529.5,628.7" fill="none" stroke="#b12a2a" stroke-width="1.25"/>
<circle cx="481.9" cy="638.0" r="2.8" fill="#b12a2a"/>
<circle cx="505.7" cy="628.1" r="2.8" fill="#b12a2a"/>
<circle cx="529.5" cy="628.7" r="2.8" fill="#b12a2a"/>
<path d="M481.9 622.3V585.7M479.9 622.3h4.0M479.9 585.7h4.0M505.7 613.0V585.1M503.7 613.0h4.0M503.7 585.1h4.0M529.5 613.0V584.1M527.5 613.0h4.0M527.5 584.1h4.0" stroke="#151515" stroke-width="1.05" fill="none"/>
<polyline points="481.9,604.0 505.7,598.9 529.5,598.5" fill="none" stroke="#151515" stroke-width="1.25"/>
<circle cx="481.9" cy="604.0" r="2.8" fill="#151515"/>
<circle cx="505.7" cy="598.9" r="2.8" fill="#151515"/>
<circle cx="529.5" cy="598.5" r="2.8" fill="#151515"/>
<rect x="489.2" y="661.8" width="18.3" height="11.2" fill="#cfd6e9" />
<text x="512.3" y="670.6" font-size="12.1" fill="#1a1a1a">Injection</text>
<line x1="489.2" y1="682.0" x2="507.5" y2="682.0" stroke="#151515" stroke-width="1.1" />
<circle cx="498.3" cy="682" r="2.8" fill="#151515"/>
<text x="512.3" y="685.6" font-size="12.1" fill="#1a1a1a">Vehicle</text>
<line x1="489.2" y1="695.8" x2="507.5" y2="695.8" stroke="#b12a2a" stroke-width="1.1" />
<circle cx="498.3" cy="695.8" r="2.8" fill="#b12a2a"/>
<text x="512.3" y="699.8" font-size="12.1" fill="#1a1a1a">CLP290<tspan dy="-6.3" font-size="11">**</tspan></text>
<text x="568.8" y="503.9" font-size="11.5" font-weight="bold" fill="#000">H</text>
<text x="636.5" y="514.7" font-size="12.3" text-anchor="middle" fill="#1a1a1a">Number of days</text>
<text x="637.6" y="529.0" font-size="12.25" text-anchor="middle" fill="#1a1a1a">below acquisition</text>
<line x1="608.8" y1="549.0" x2="608.8" y2="710.9" stroke="#2a2a2a" stroke-width="1.3" />
<line x1="602.3" y1="710.3" x2="672.2" y2="710.3" stroke="#2a2a2a" stroke-width="1.3" />
<line x1="602.3" y1="549.6" x2="608.8" y2="549.6" stroke="#2a2a2a" stroke-width="1.3" />
<text x="600.0" y="553.9" font-size="12" text-anchor="end" font-weight="bold" fill="#1a1a1a">15</text>
<line x1="602.3" y1="603.2" x2="608.8" y2="603.2" stroke="#2a2a2a" stroke-width="1.3" />
<text x="600.0" y="607.5" font-size="12" text-anchor="end" font-weight="bold" fill="#1a1a1a">10</text>
<line x1="602.3" y1="656.8" x2="608.8" y2="656.8" stroke="#2a2a2a" stroke-width="1.3" />
<text x="600.0" y="661.0" font-size="12" text-anchor="end" font-weight="bold" fill="#1a1a1a">5</text>
<text x="600.0" y="714.6" font-size="12" text-anchor="end" font-weight="bold" fill="#1a1a1a">0</text>
<line x1="626.1" y1="710.3" x2="626.1" y2="717.3" stroke="#2a2a2a" stroke-width="1.3" />
<line x1="653.2" y1="710.3" x2="653.2" y2="717.3" stroke="#2a2a2a" stroke-width="1.3" />
<circle cx="626.1" cy="571.1" r="1.55" fill="none" stroke="#c9c9c9" stroke-width="0.6"/>
<circle cx="626.1" cy="624.6" r="1.55" fill="none" stroke="#c9c9c9" stroke-width="0.6"/>
<circle cx="618.7" cy="635.3" r="1.55" fill="none" stroke="#c9c9c9" stroke-width="0.6"/>
<circle cx="626.1" cy="635.3" r="1.55" fill="none" stroke="#c9c9c9" stroke-width="0.6"/>
<circle cx="633.5" cy="635.3" r="1.55" fill="none" stroke="#c9c9c9" stroke-width="0.6"/>
<circle cx="618.7" cy="646.0" r="1.55" fill="none" stroke="#c9c9c9" stroke-width="0.6"/>
<circle cx="626.1" cy="646.0" r="1.55" fill="none" stroke="#c9c9c9" stroke-width="0.6"/>
<circle cx="633.5" cy="646.0" r="1.55" fill="none" stroke="#c9c9c9" stroke-width="0.6"/>
<circle cx="626.1" cy="656.8" r="1.55" fill="none" stroke="#c9c9c9" stroke-width="0.6"/>
<circle cx="626.1" cy="678.2" r="1.55" fill="none" stroke="#c9c9c9" stroke-width="0.6"/>
<circle cx="626.1" cy="699.6" r="1.55" fill="none" stroke="#c9c9c9" stroke-width="0.6"/>
<circle cx="645.8" cy="571.1" r="1.55" fill="none" stroke="#c9c9c9" stroke-width="0.6"/>
<circle cx="653.2" cy="571.1" r="1.55" fill="none" stroke="#c9c9c9" stroke-width="0.6"/>
<circle cx="660.6" cy="571.1" r="1.55" fill="none" stroke="#c9c9c9" stroke-width="0.6"/>
<circle cx="653.2" cy="581.8" r="1.55" fill="none" stroke="#c9c9c9" stroke-width="0.6"/>
<circle cx="645.8" cy="613.9" r="1.55" fill="none" stroke="#c9c9c9" stroke-width="0.6"/>
<circle cx="653.2" cy="613.9" r="1.55" fill="none" stroke="#c9c9c9" stroke-width="0.6"/>
<circle cx="660.6" cy="613.9" r="1.55" fill="none" stroke="#c9c9c9" stroke-width="0.6"/>
<circle cx="649.5" cy="624.6" r="1.55" fill="none" stroke="#c9c9c9" stroke-width="0.6"/>
<circle cx="656.9" cy="624.6" r="1.55" fill="none" stroke="#c9c9c9" stroke-width="0.6"/>
<circle cx="649.5" cy="646.0" r="1.55" fill="none" stroke="#c9c9c9" stroke-width="0.6"/>
<circle cx="656.9" cy="646.0" r="1.55" fill="none" stroke="#c9c9c9" stroke-width="0.6"/>
<path d="M616.6 643.0h19.0M626.1 653.2V631.9M621.1 653.2h10.0M621.1 631.9h10.0" stroke="#111" stroke-width="1.6" fill="none"/>
<path d="M643.6 606.4h19.2M653.2 615.8V596.5M648.2 615.8h10.0M648.2 596.5h10.0" stroke="#e23a2e" stroke-width="1.6" fill="none"/>
<text x="653.4" y="569.0" font-size="21" text-anchor="middle" fill="#111" stroke="#111" stroke-width="0.5">*</text>
<text x="579.9" y="630.4" font-size="12.1" text-anchor="middle" fill="#1a1a1a" transform="rotate(-90 579.9 630.4)">Days</text>
<text x="630.2" y="725.2" font-size="12.1" text-anchor="end" fill="#1a1a1a" transform="rotate(-45 630.2 725.2)">Vehicle</text>
<text x="656.2" y="725.4" font-size="12.1" text-anchor="end" fill="#1a1a1a" transform="rotate(-45 656.2 725.4)">CLP290</text>
<text x="5.6" y="789.2" font-size="11.5" font-weight="bold" fill="#000">I</text>
<text x="78.4" y="795.5" font-size="12.1" fill="#1a1a1a">CLP 290</text>
<g transform="translate(15.3 803.2) scale(1.0 1.012)" fill="none" stroke="#1c1c1c" stroke-width="0.5" stroke-linecap="round">
<path d="M43.1 0.8C36 0.3 29.5 0.4 23.7 1.2C18.5 2.6 14 5.2 10.6 8.5C7 11.6 4.3 15.4 2.5 19.5C1 22.8 0 26.2 0 29.7C0 32.4 0.7 35 1.8 37C2.3 39 1 41 1.1 42.8C1.4 45.8 2.7 48.4 4.7 50.1C7.2 52 10.3 53 13.5 53C15.4 52.9 16.8 51.7 18.6 51.6C20.3 51.6 22 52.6 23.7 52.3C26.9 51.2 29.6 48.8 32.5 47.2C34.3 46.3 36.5 45.5 38.3 45.7C39.3 46.5 39.8 47.8 40.5 48.7C41.2 49.5 42.1 50 43.1 50.1V0.8Z" fill="#f0f1f9" stroke="none"/><path d="M43.1 0.8C36 0.3 29.5 0.4 23.7 1.2C18.5 2.6 14 5.2 10.6 8.5C7 11.6 4.3 15.4 2.5 19.5C1 22.8 0 26.2 0 29.7C0 32.4 0.7 35 1.8 37C2.3 39 1 41 1.1 42.8C1.4 45.8 2.7 48.4 4.7 50.1C7.2 52 10.3 53 13.5 53C15.4 52.9 16.8 51.7 18.6 51.6C20.3 51.6 22 52.6 23.7 52.3C26.9 51.2 29.6 48.8 32.5 47.2C34.3 46.3 36.5 45.5 38.3 45.7C39.3 46.5 39.8 47.8 40.5 48.7C41.2 49.5 42.1 50 43.1 50.1V0.8Z" transform="translate(86.2 0) scale(-1 1)" fill="#f0f1f9" stroke="none"/>
<g>
<path d="M43.1 0.8C36 0.3 29.5 0.4 23.7 1.2C18.5 2.6 14 5.2 10.6 8.5C7 11.6 4.3 15.4 2.5 19.5C1 22.8 0 26.2 0 29.7C0 32.4 0.7 35 1.8 37C2.3 39 1 41 1.1 42.8C1.4 45.8 2.7 48.4 4.7 50.1C7.2 52 10.3 53 13.5 53C15.4 52.9 16.8 51.7 18.6 51.6C20.3 51.6 22 52.6 23.7 52.3C26.9 51.2 29.6 48.8 32.5 47.2C34.3 46.3 36.5 45.5 38.3 45.7C39.3 46.5 39.8 47.8 40.5 48.7C41.2 49.5 42.1 50 43.1 50.1" stroke-width="1"/>
<path d="M40 8.5C31 7.5 22 9.5 16.4 13.6C12 17.5 9.5 21.5 9.1 25.3C8.2 30 8.3 34 9.1 37C10.5 41.5 13 45.5 16.4 48.7L20 46C17 43.5 14.5 41 13.5 38.5C12.3 35 12 30.5 12.7 26.8C13.8 22.5 16 19 19.3 16.6C24.5 12.8 32 11 40.5 11.8Z" fill="#fafafd" stroke="none"/>
<path d="M40 8.5C31 7.5 22 9.5 16.4 13.6C12 17.5 9.5 21.5 9.1 25.3C8.2 30 8.3 34 9.1 37C10.5 41.5 13 45.5 16.4 48.7"/>
<path d="M40.5 11.8C32 11 24.5 12.8 19.3 16.6C16 19 13.8 22.5 12.7 26.8C12 30.5 12.3 35 13.5 38.5C14.5 41 17 43.5 20 46" stroke-width="0.4"/>
<path d="M41 15C35 14 28.5 15.5 24.5 19C21.5 22 20 26 20.2 30" stroke-width="0.4"/>
<path d="M43.2 18C37 17.6 32 18 28.1 19.5C24.8 20.8 22.2 22.8 20.8 25.3C19.4 27.6 19 30.2 19.3 32.6C19.7 35.4 21.2 38 23.7 39.9L37 45.4L43.2 46Z" fill="#f9f9fd" stroke="none"/>
<path d="M42.7 18C37 17.6 32 18 28.1 19.5C24.8 20.8 22.2 22.8 20.8 25.3C19.4 27.6 19 30.2 19.3 32.6C19.7 35.4 21.2 38 23.7 39.9C24.6 40.4 25.6 40.2 26 39.4" stroke-width="0.9"/>
<path d="M22.2 34.1L36.8 44.3M21.6 36.6L35.5 45.6M24 32.5L37.5 42" stroke-width="0.45"/>
<path d="M41.6 3C40 6 39.4 10 40.6 13.6C41.2 15 42 16 43 16.4" stroke-width="0.45"/>
<path d="M36 11.5C37.5 13.5 39.5 14.8 41.6 15.2" stroke-width="0.45"/>
</g>
<g transform="translate(86.2 0) scale(-1 1)">
<path d="M43.1 0.8C36 0.3 29.5 0.4 23.7 1.2C18.5 2.6 14 5.2 10.6 8.5C7 11.6 4.3 15.4 2.5 19.5C1 22.8 0 26.2 0 29.7C0 32.4 0.7 35 1.8 37C2.3 39 1 41 1.1 42.8C1.4 45.8 2.7 48.4 4.7 50.1C7.2 52 10.3 53 13.5 53C15.4 52.9 16.8 51.7 18.6 51.6C20.3 51.6 22 52.6 23.7 52.3C26.9 51.2 29.6 48.8 32.5 47.2C34.3 46.3 36.5 45.5 38.3 45.7C39.3 46.5 39.8 47.8 40.5 48.7C41.2 49.5 42.1 50 43.1 50.1" stroke-width="1"/>
<path d="M40 8.5C31 7.5 22 9.5 16.4 13.6C12 17.5 9.5 21.5 9.1 25.3C8.2 30 8.3 34 9.1 37C10.5 41.5 13 45.5 16.4 48.7L20 46C17 43.5 14.5 41 13.5 38.5C12.3 35 12 30.5 12.7 26.8C13.8 22.5 16 19 19.3 16.6C24.5 12.8 32 11 40.5 11.8Z" fill="#fafafd" stroke="none"/>
<path d="M40 8.5C31 7.5 22 9.5 16.4 13.6C12 17.5 9.5 21.5 9.1 25.3C8.2 30 8.3 34 9.1 37C10.5 41.5 13 45.5 16.4 48.7"/>
<path d="M40.5 11.8C32 11 24.5 12.8 19.3 16.6C16 19 13.8 22.5 12.7 26.8C12 30.5 12.3 35 13.5 38.5C14.5 41 17 43.5 20 46" stroke-width="0.4"/>
<path d="M41 15C35 14 28.5 15.5 24.5 19C21.5 22 20 26 20.2 30" stroke-width="0.4"/>
<path d="M43.2 18C37 17.6 32 18 28.1 19.5C24.8 20.8 22.2 22.8 20.8 25.3C19.4 27.6 19 30.2 19.3 32.6C19.7 35.4 21.2 38 23.7 39.9L37 45.4L43.2 46Z" fill="#f9f9fd" stroke="none"/>
<path d="M42.7 18C37 17.6 32 18 28.1 19.5C24.8 20.8 22.2 22.8 20.8 25.3C19.4 27.6 19 30.2 19.3 32.6C19.7 35.4 21.2 38 23.7 39.9C24.6 40.4 25.6 40.2 26 39.4" stroke-width="0.9"/>
<path d="M22.2 34.1L36.8 44.3M21.6 36.6L35.5 45.6M24 32.5L37.5 42" stroke-width="0.45"/>
<path d="M41.6 3C40 6 39.4 10 40.6 13.6C41.2 15 42 16 43 16.4" stroke-width="0.45"/>
<path d="M36 11.5C37.5 13.5 39.5 14.8 41.6 15.2" stroke-width="0.45"/>
</g>
<path d="M43.1 1V9" stroke-width="0.5"/>
<path d="M43.1 22V44" stroke="#333" stroke-dasharray="3.5 2.2" stroke-width="0.7"/>
<path d="M43.1 16.4L44.5 19.1L43.1 22L41.7 19.1Z" fill="#111" stroke="none"/>
<path d="M40.3 47C40.6 44.5 45.6 44.5 45.9 47C46.1 49 44.6 50.2 43.1 50.2C41.6 50.2 40.1 49 40.3 47Z" fill="#fbfbfd" stroke-width="0.5"/>
</g>
<g fill="none" stroke="#222" stroke-width="0.8">
<path d="M51.3 784.8v5.4M64.5 784.8v5.4"/>
<path d="M51.1 800.8V843.6M65.0 800.8V843.6" stroke-width="1"/>
<rect x="46.0" y="790.2" width="24" height="10.6" rx="4.5" fill="#fafafa"/>
<path d="M46.5 793.8h23M46.5 797.4h23" stroke="#999" stroke-width="0.5"/>
</g>
<g transform="translate(30.7 859.7) scale(1.01)">
<path d="M0 11H6.2L18.9 1V33.7L6.2 23.7H0Z" fill="#0a0a0a"/>
<path d="M22 9.2A9 9 0 0 1 22 26" fill="none" stroke="#0a0a0a" stroke-width="1.5"/>
<path d="M25.4 6A12.2 12.2 0 0 1 25.4 29.2" fill="none" stroke="#0a0a0a" stroke-width="1.5"/>
<path d="M26.1 0.2A17.9 17.9 0 0 1 26.1 34.8" fill="none" stroke="#0a0a0a" stroke-width="1.5"/>
<text x="1.6" y="21.9" font-size="12.3" fill="#fff" textLength="14.5" lengthAdjust="spacingAndGlyphs">CS</text>
</g>
<path d="M129.9 897.6L101.3 875.2" stroke="#222" stroke-width="0.8" fill="none"/>
<path d="M100 874.2L104.8 875.5L102.2 878.7Z" fill="#222"/>
<text x="143.1" y="833.5" font-size="12.1" fill="#1a1a1a">Reward</text>
<polygon points="72.1,906.4 143.6,906.4 162.6,945.8 88.5,945.8" fill="#fff" stroke="#222" stroke-width="0.8"/>
<polygon points="143.6,865.5 163.5,901.1 162.6,945.8 143.6,911.5" fill="#fff" stroke="#222" stroke-width="0.8"/>
<line x1="161.2" y1="837.2" x2="159.1" y2="885.4" stroke="#222" stroke-width="0.8" />
<polygon points="149,892 158,907 158,927 149,914" fill="#b3abae" opacity="0.85" filter="url(#b1)"/>
<g transform="translate(85.8 895.8) scale(0.785)">
<path d="M13.5 25.5C9 25 3 25.5 1 28C-0.5 30.5 2.5 32.6 6.5 32.2C9.5 32 12 31 13.8 29.6Z" fill="#e9bcc4" stroke="#9a6470" stroke-width="0.4"/>
<path d="M4 28.6C6 27.6 9 27.8 11 28.6" fill="none" stroke="#b98590" stroke-width="0.6"/>
<path d="M63 27C67 29.5 71 32 74 33.2C76 33.2 78 33.8 78.8 34.8C76.5 35.8 73.5 35.6 72 35C68 33.5 64 31.5 60.5 29.5Z" fill="#fbfbf3" stroke="#333" stroke-width="0.35"/>
<path d="M73.5 33.3C75.5 33.1 78 33.8 78.8 34.8C77 35.6 74.8 35.6 73 35.2Z" fill="#eec0c8"/>
<path d="M23.4 3.6C17 6 13 12.5 12.5 20C12 25 12.5 29 13.8 31.7C16 34 20 35 23.4 35.2C30 35.6 36 34.5 41.3 33.8C45 35 48 36.8 50.9 38C52.5 39.2 55 39.8 57.5 39.6C58.2 38.6 57 37.6 55.5 37.2C54.5 36 55 34.8 56.4 33.8L58 20L36 4Z" fill="#fbfbf3" stroke="#2a2a2a" stroke-width="0.5"/>
<path d="M25.5 35.3C27.5 35 30.5 35.4 32.4 36.4C30.5 37.6 27.5 37.7 25.8 37Z" fill="#e9b3bb" stroke="#9a6470" stroke-width="0.3"/>
<path d="M51 37.9C53 37.2 56.5 37.6 58 39C56 40.3 52.5 40.2 50.9 39.3Z" fill="#f3cfd5" stroke="#9a6470" stroke-width="0.3"/>
<path d="M23.4 3.6C26.5 1.6 30 0.7 33 0.6C38 0.4 42 2.2 45.4 3.6C49 5 53 6.3 56.4 7C58.5 7.4 61 7.5 63.2 7.7C66.5 7.6 70 8 72.8 9.1C75.5 10 78 11.5 79.7 13.2C81.5 14.5 83 16.3 83.5 18C83.3 19.2 81 20.4 78.3 21.4C75.5 22.6 72.5 23.8 70.1 24.9C68 26 66 27.2 64.6 28.3C62 30.5 59 32.5 56.4 33.8C54.5 33.6 52.5 32.6 50.9 31.7C47.5 30.5 44.5 29 42.7 26.9C41 25 40.8 22.8 39.9 20.8C39 18.6 37.8 16.6 35.8 16C33.5 15.8 31.5 17.5 29.6 18C29.6 16 31.8 14 32.4 11.8C32.6 9.8 30.8 8.2 28.9 7C27 5.8 25 4.6 23.4 3.6Z" fill="#0e0d0f"/>
<path d="M57 6C58.5 4.6 61 5 62.4 7C63.6 9.4 63.4 12.6 62 14.4C60 13.6 58 11.6 57 9.4C56.4 8 56.4 6.8 57 6Z" fill="#dba3ae" stroke="#6a3e48" stroke-width="0.5"/>
<circle cx="82.9" cy="18.1" r="1.1" fill="#d995a2"/>
</g>
<text x="40.6" y="956.4" font-size="12.1" text-anchor="middle" fill="#1a1a1a">Mid-acquisition</text>
<text x="40.6" y="971.0" font-size="12.1" text-anchor="middle" fill="#1a1a1a">reached</text>
<line x1="8.8" y1="1000.6" x2="13.7" y2="1000.6" stroke="#222" stroke-width="1" />
<rect x="13.7" y="992.2" width="137.2" height="17.0" fill="#c9d4de" rx="4.5" />
<rect x="84.0" y="992.2" width="18.2" height="17.0" fill="#b2b7bb" />
<text x="91.4" y="1005.5" font-size="12" text-anchor="middle" font-weight="bold" fill="#111">1</text>
<text x="91.6" y="966.0" font-size="12.1" text-anchor="middle" fill="#1a1a1a">CLP</text>
<text x="91.6" y="977.7" font-size="12.1" text-anchor="middle" fill="#1a1a1a">290</text>
<line x1="91.6" y1="989.0" x2="91.6" y2="992.2" stroke="#41729c" stroke-width="1.0" stroke-dasharray="1 2"/>
<path d="M91.6 982.2L94.4 988.2L91.6 986.5L88.8 988.2Z" fill="#1d4e79"/>
<rect x="121.2" y="992.2" width="18.2" height="17.0" fill="#b2b7bb" />
<text x="128.6" y="1005.5" font-size="12" text-anchor="middle" font-weight="bold" fill="#111">3</text>
<text x="129.8" y="966.0" font-size="12.1" text-anchor="middle" fill="#1a1a1a">CLP</text>
<text x="129.8" y="977.7" font-size="12.1" text-anchor="middle" fill="#1a1a1a">290</text>
<line x1="129.8" y1="989.0" x2="129.8" y2="992.2" stroke="#41729c" stroke-width="1.0" stroke-dasharray="1 2"/>
<path d="M129.8 982.2L132.6 988.2L129.8 986.5L127.0 988.2Z" fill="#1d4e79"/>
<line x1="67.2" y1="977.3" x2="67.2" y2="1006.0" stroke="#41729c" stroke-width="1.0" stroke-dasharray="1 3"/>
<path d="M67.2 970.5L70.0 976.5L67.2 974.8L64.4 976.5Z" fill="#1d4e79"/>
<line x1="150.9" y1="1000.6" x2="171.0" y2="1000.6" stroke="#111" stroke-width="1" />
<path d="M174.6 1000.6L168.3 997.6L169.8 1000.6L168.3 1003.6Z" fill="#111"/>
<text x="10.2" y="1027.0" font-size="12.3" font-style="italic" fill="#1a1a1a">Days from mid-acquisition</text>
<text x="196.3" y="789.7" font-size="11.5" font-weight="bold" fill="#000">J</text>
<text x="304.0" y="791.9" font-size="12.3" text-anchor="middle" fill="#1a1a1a">Learning after CLP 290</text>
<text x="305.6" y="806.9" font-size="12.1" text-anchor="middle" fill="#1a1a1a">during acquisition</text>
<rect x="280.2" y="822.0" width="16.8" height="163.2" fill="#cfd6e9" />
<rect x="328.6" y="821.6" width="16.8" height="163.6" fill="#cfd6e9" />
<line x1="250.1" y1="822.9" x2="250.1" y2="985.8" stroke="#2a2a2a" stroke-width="1.3" />
<line x1="242.6" y1="985.2" x2="376.2" y2="985.2" stroke="#2a2a2a" stroke-width="1.3" />
<line x1="242.6" y1="823.5" x2="250.1" y2="823.5" stroke="#2a2a2a" stroke-width="1.3" />
<text x="241.6" y="827.8" font-size="12" text-anchor="end" font-weight="bold" fill="#1a1a1a">300</text>
<line x1="242.6" y1="877.4" x2="250.1" y2="877.4" stroke="#2a2a2a" stroke-width="1.3" />
<text x="241.6" y="881.7" font-size="12" text-anchor="end" font-weight="bold" fill="#1a1a1a">200</text>
<line x1="242.6" y1="931.3" x2="250.1" y2="931.3" stroke="#2a2a2a" stroke-width="1.3" />
<text x="241.6" y="935.6" font-size="12" text-anchor="end" font-weight="bold" fill="#1a1a1a">100</text>
<text x="241.6" y="989.5" font-size="12" text-anchor="end" font-weight="bold" fill="#1a1a1a">0</text>
<line x1="265.5" y1="985.2" x2="265.5" y2="992.2" stroke="#2a2a2a" stroke-width="1.3" />
<text x="265.5" y="1003.5" font-size="12.1" text-anchor="middle" fill="#1a1a1a">0</text>
<line x1="289.2" y1="985.2" x2="289.2" y2="992.2" stroke="#2a2a2a" stroke-width="1.3" />
<text x="289.2" y="1003.5" font-size="12.1" text-anchor="middle" fill="#1a1a1a">1</text>
<line x1="313.0" y1="985.2" x2="313.0" y2="992.2" stroke="#2a2a2a" stroke-width="1.3" />
<text x="313.0" y="1003.5" font-size="12.1" text-anchor="middle" fill="#1a1a1a">2</text>
<line x1="336.8" y1="985.2" x2="336.8" y2="992.2" stroke="#2a2a2a" stroke-width="1.3" />
<text x="336.8" y="1003.5" font-size="12.1" text-anchor="middle" fill="#1a1a1a">3</text>
<line x1="360.5" y1="985.2" x2="360.5" y2="992.2" stroke="#2a2a2a" stroke-width="1.3" />
<text x="360.5" y="1003.5" font-size="12.1" text-anchor="middle" fill="#1a1a1a">4</text>
<line x1="253.7" y1="930.9" x2="392.0" y2="930.9" stroke="#858585" stroke-width="1.2" stroke-dasharray="5.7 5.5"/>
<text x="214.2" y="906.8" font-size="12.25" text-anchor="middle" fill="#1a1a1a" transform="rotate(-90 214.2 906.8)">% Change in rate after acquisition</text>
<text x="300.5" y="1020.8" font-size="12.3" text-anchor="middle" fill="#1a1a1a">Days from mid-acquisition</text>
<path d="M265.5 931.4V931.4M263.5 931.4h4.0M263.5 931.4h4.0M289.2 932.1V909.0M287.2 932.1h4.0M287.2 909.0h4.0M313.0 905.5V880.6M311.0 905.5h4.0M311.0 880.6h4.0M336.8 897.8V872.2M334.8 897.8h4.0M334.8 872.2h4.0M360.5 885.5V854.7M358.5 885.5h4.0M358.5 854.7h4.0" stroke="#151515" stroke-width="1.05" fill="none"/>
<polyline points="265.5,931.4 289.2,919.5 313.0,892.9 336.8,885.2 360.5,870.5" fill="none" stroke="#151515" stroke-width="1.25"/>
<circle cx="265.5" cy="931.4" r="2.8" fill="#151515"/>
<circle cx="289.2" cy="919.5" r="2.8" fill="#151515"/>
<circle cx="313.0" cy="892.9" r="2.8" fill="#151515"/>
<circle cx="336.8" cy="885.2" r="2.8" fill="#151515"/>
<circle cx="360.5" cy="870.5" r="2.8" fill="#151515"/>
<path d="M265.5 931.4V931.4M263.5 931.4h4.0M263.5 931.4h4.0M289.2 948.2V934.2M287.2 948.2h4.0M287.2 934.2h4.0M313.0 947.2V930.0M311.0 947.2h4.0M311.0 930.0h4.0M336.8 933.9V910.4M334.8 933.9h4.0M334.8 910.4h4.0M360.5 935.6V917.8M358.5 935.6h4.0M358.5 917.8h4.0" stroke="#b12a2a" stroke-width="1.05" fill="none"/>
<polyline points="265.5,931.4 289.2,940.9 313.0,938.1 336.8,922.0 360.5,926.5" fill="none" stroke="#b12a2a" stroke-width="1.25"/>
<circle cx="265.5" cy="931.4" r="2.8" fill="#b12a2a"/>
<circle cx="289.2" cy="940.9" r="2.8" fill="#b12a2a"/>
<circle cx="313.0" cy="938.1" r="2.8" fill="#b12a2a"/>
<circle cx="336.8" cy="922.0" r="2.8" fill="#b12a2a"/>
<circle cx="360.5" cy="926.5" r="2.8" fill="#b12a2a"/>
<rect x="368.2" y="938.4" width="17.4" height="11.6" fill="#cfd6e9" />
<text x="389.5" y="947.8" font-size="12.1" fill="#1a1a1a">Injection</text>
<line x1="368.2" y1="958.8" x2="385.0" y2="958.8" stroke="#151515" stroke-width="1.1" />
<circle cx="376.6" cy="958.8" r="2.8" fill="#151515"/>
<text x="389.5" y="962.8" font-size="12.1" fill="#1a1a1a">Vehicle</text>
<line x1="368.2" y1="973.5" x2="385.0" y2="973.5" stroke="#b12a2a" stroke-width="1.1" />
<circle cx="376.6" cy="973.5" r="2.8" fill="#b12a2a"/>
<text x="389.5" y="977.8" font-size="12.1" fill="#1a1a1a">CLP290<tspan dy="-6.3" font-size="11">**</tspan></text>
<text x="437.8" y="789.0" font-size="11.5" font-weight="bold" fill="#000">K</text>
<rect x="451.4" y="780.6" width="227.0" height="114.8" fill="#fff" stroke="#3a3a3a" stroke-width="0.9" rx="19" />
<text x="467.6" y="806.0" font-size="12.2" font-weight="bold" fill="#111">KCC2 shRNA</text>
<rect x="467.1" y="815.1" width="51.1" height="12.1" fill="#c24fc0" stroke="#222" stroke-width="0.9" />
<text x="492.7" y="824.6" font-size="9.6" text-anchor="middle" font-weight="bold" fill="#111">mCherry</text>
<rect x="518.2" y="815.1" width="21.5" height="12.1" fill="#f4e13b" stroke="#222" stroke-width="0.9" />
<text x="529.0" y="824.6" font-size="9.6" text-anchor="middle" font-weight="bold" fill="#111">U6</text>
<path d="M539.7 810.6L555.9 821.1L539.7 831.6Z" fill="#fff" stroke="#222" stroke-width="0.9"/>
<rect x="557.3" y="815.1" width="32.1" height="12.1" fill="#52b01e" stroke="#222" stroke-width="0.9" />
<text x="573.3" y="824.6" font-size="9.6" text-anchor="middle" font-weight="bold" fill="#111">GFP</text>
<path d="M589.4 810.6L606.6 821.1L589.4 831.6Z" fill="#fff" stroke="#222" stroke-width="0.9"/>
<rect x="607.0" y="815.1" width="60.0" height="12.1" fill="#fff" stroke="#222" stroke-width="0.9" />
<text x="637.0" y="824.6" font-size="9.4" text-anchor="middle" fill="#111" textLength="55" lengthAdjust="spacingAndGlyphs">shRNA KCC2</text>
<path d="M614 807.1L658.5 835.1M658.5 807.1L614 835.1" stroke="#e64535" stroke-width="1.1" fill="none"/>
<line x1="543.2" y1="835.2" x2="543.2" y2="852.6" stroke="#222" stroke-width="0.9" />
<path d="M543.2 853.6L540.9 849.0L543.2 850.1L545.5 849.0Z" fill="#222"/>
<text x="551.8" y="846.4" font-size="10" fill="#1a1a1a" xml:space="preserve">+  Cre</text>
<rect x="467.1" y="863.7" width="51.1" height="11.9" fill="#c24fc0" stroke="#222" stroke-width="0.9" />
<text x="492.7" y="873.2" font-size="9.6" text-anchor="middle" font-weight="bold" fill="#111">mCherry</text>
<rect x="518.2" y="863.7" width="21.5" height="11.9" fill="#f4e13b" stroke="#222" stroke-width="0.9" />
<text x="529.0" y="873.2" font-size="9.6" text-anchor="middle" font-weight="bold" fill="#111">U6</text>
<path d="M539.7 859.2L556.5 869.7L539.7 880.2Z" fill="#fff" stroke="#222" stroke-width="0.9"/>
<rect x="556.3" y="863.7" width="60.0" height="11.9" fill="#fff" stroke="#222" stroke-width="0.9" />
<text x="586.3" y="873.2" font-size="9.4" text-anchor="middle" fill="#111" textLength="55" lengthAdjust="spacingAndGlyphs">shRNA KCC2</text>
<rect x="454.0" y="902.4" width="224.8" height="112.4" fill="#fff" stroke="#3a3a3a" stroke-width="0.9" rx="19" />
<text x="467.6" y="925.4" font-size="12.2" font-weight="bold" fill="#111">Scrambled shRNA</text>
<rect x="467.1" y="935.1" width="51.1" height="11.7" fill="#c24fc0" stroke="#222" stroke-width="0.9" />
<text x="492.7" y="944.5" font-size="9.6" text-anchor="middle" font-weight="bold" fill="#111">mCherry</text>
<rect x="518.2" y="935.1" width="21.5" height="11.7" fill="#f4e13b" stroke="#222" stroke-width="0.9" />
<text x="529.0" y="944.5" font-size="9.6" text-anchor="middle" font-weight="bold" fill="#111">U6</text>
<path d="M539.7 930.5L555.9 941.0L539.7 951.5Z" fill="#fff" stroke="#222" stroke-width="0.9"/>
<rect x="557.3" y="935.1" width="32.1" height="11.7" fill="#52b01e" stroke="#222" stroke-width="0.9" />
<text x="573.3" y="944.5" font-size="9.6" text-anchor="middle" font-weight="bold" fill="#111">GFP</text>
<path d="M589.4 930.5L606.6 941.0L589.4 951.5Z" fill="#fff" stroke="#222" stroke-width="0.9"/>
<rect x="607.0" y="935.1" width="60.0" height="11.7" fill="#fff" stroke="#222" stroke-width="0.9" />
<text x="637.0" y="944.5" font-size="9.4" text-anchor="middle" fill="#111" textLength="55" lengthAdjust="spacingAndGlyphs">shRNA Scmbl</text>
<path d="M614 927.0L658.5 955.0M658.5 927.0L614 955.0" stroke="#e64535" stroke-width="1.1" fill="none"/>
<line x1="543.2" y1="955.2" x2="543.2" y2="971.8" stroke="#222" stroke-width="0.9" />
<path d="M543.2 972.8L540.9 968.2L543.2 969.3L545.5 968.2Z" fill="#222"/>
<text x="551.8" y="965.6" font-size="10" fill="#1a1a1a" xml:space="preserve">+ Cre</text>
<rect x="467.1" y="982.7" width="48.9" height="11.9" fill="#c24fc0" stroke="#222" stroke-width="0.9" />
<text x="491.6" y="992.2" font-size="9.6" text-anchor="middle" font-weight="bold" fill="#111">mCherry</text>
<rect x="516.0" y="982.7" width="20.5" height="11.9" fill="#f4e13b" stroke="#222" stroke-width="0.9" />
<text x="526.2" y="992.2" font-size="9.6" text-anchor="middle" font-weight="bold" fill="#111">U6</text>
<path d="M536.5 978.2L553.6 988.7L536.5 999.2Z" fill="#fff" stroke="#222" stroke-width="0.9"/>
<rect x="554.7" y="982.7" width="60.0" height="11.9" fill="#fff" stroke="#222" stroke-width="0.9" />
<text x="584.7" y="992.2" font-size="9.4" text-anchor="middle" fill="#111" textLength="55" lengthAdjust="spacingAndGlyphs">shRNA Scmbl</text>
<defs>
<filter id="b05"><feGaussianBlur stdDeviation="0.45"/></filter><filter id="b08"><feGaussianBlur stdDeviation="0.8"/></filter><filter id="b12" x="-30%" y="-30%" width="160%" height="160%"><feGaussianBlur stdDeviation="1.4"/></filter><filter id="b2" x="-30%" y="-30%" width="160%" height="160%"><feGaussianBlur stdDeviation="2.5"/></filter>
<filter id="tv1" x="0" y="0" width="100%" height="100%"><feTurbulence type="turbulence" baseFrequency="0.055" numOctaves="4" seed="4" result="n"/><feColorMatrix in="n" type="matrix" values="0 0 0 0 0 0 0 0 0 0 0 0 0 0 0 -4 0 0 0 1.05" result="a"/><feComposite in="SourceGraphic" in2="a" operator="in"/></filter><filter id="tv2" x="0" y="0" width="100%" height="100%"><feTurbulence type="turbulence" baseFrequency="0.05" numOctaves="4" seed="9" result="n"/><feColorMatrix in="n" type="matrix" values="0 0 0 0 0 0 0 0 0 0 0 0 0 0 0 -6 0 0 0 0.9" result="a"/><feComposite in="SourceGraphic" in2="a" operator="in"/></filter><filter id="tv3" x="0" y="0" width="100%" height="100%"><feTurbulence type="turbulence" baseFrequency="0.07" numOctaves="4" seed="7" result="n"/><feColorMatrix in="n" type="matrix" values="0 0 0 0 0 0 0 0 0 0 0 0 0 0 0 -4 0 0 0 1.05" result="a"/><feComposite in="SourceGraphic" in2="a" operator="in"/></filter><filter id="tv4" x="0" y="0" width="100%" height="100%"><feTurbulence type="turbulence" baseFrequency="0.085" numOctaves="4" seed="15" result="n"/><feColorMatrix in="n" type="matrix" values="0 0 0 0 0 0 0 0 0 0 0 0 0 0 0 -4 0 0 0 1.0" result="a"/><feComposite in="SourceGraphic" in2="a" operator="in"/></filter><filter id="tv5" x="0" y="0" width="100%" height="100%"><feTurbulence type="turbulence" baseFrequency="0.3" numOctaves="2" seed="3" result="n"/><feColorMatrix in="n" type="matrix" values="0 0 0 0 0 0 0 0 0 0 0 0 0 0 0 7 0 0 0 -3.3" result="a"/><feComposite in="SourceGraphic" in2="a" operator="in"/></filter><filter id="tvc" x="0" y="0" width="100%" height="100%"><feTurbulence type="fractalNoise" baseFrequency="0.05" numOctaves="3" seed="21" result="n"/><feColorMatrix in="n" type="matrix" values="0 0 0 0 0 0 0 0 0 0 0 0 0 0 0 3.2 0 0 0 -1.15" result="a"/><feComposite in="SourceGraphic" in2="a" operator="in"/></filter>
<clipPath id="ic"><rect width="79.8" height="91.6"/></clipPath>
<g id="m1"><rect width="80" height="92" fill="#0d0013"/><rect width="80" height="92" fill="#c020d0" filter="url(#tv1)" opacity="0.6"/><g filter="url(#b05)"><g fill="none" stroke="#f628f6" stroke-linecap="round" stroke-linejoin="round"><path d="M36.1 51.3L31.5 52.5L27.4 55.0" stroke-width="0.7" opacity="0.55"/><path d="M63.3 8.6L67.3 8.0L70.8 5.8L74.8 5.2" stroke-width="0.9" opacity="0.56"/><path d="M49.1 14.4L51.9 14.0L54.4 13.0" stroke-width="0.5" opacity="0.46"/><path d="M35.2 77.2L32.3 81.0L29.6 84.9" stroke-width="0.6" opacity="0.75"/><path d="M79.5 77.0L79.9 80.5L81.6 83.6" stroke-width="0.8" opacity="0.42"/><path d="M67.6 35.4L65.6 33.8L64.4 31.6" stroke-width="0.7" opacity="0.74"/><path d="M31.7 6.7L28.8 9.0L26.2 11.7" stroke-width="0.9" opacity="0.62"/><path d="M9.4 22.6L10.3 18.6L11.4 14.7L12.3 10.7" stroke-width="0.6" opacity="0.60"/><path d="M10.5 59.0L13.9 58.7L17.2 59.8" stroke-width="0.9" opacity="0.37"/><path d="M70.6 19.3L69.1 22.6L66.4 24.9L64.4 27.9" stroke-width="0.6" opacity="0.62"/><path d="M26.3 27.1L27.7 22.2L29.5 17.5" stroke-width="0.7" opacity="0.45"/><path d="M76.5 44.3L73.6 45.9L70.3 46.3" stroke-width="0.9" opacity="0.34"/><path d="M15.1 67.7L12.0 71.0L8.5 73.9L5.3 77.0" stroke-width="0.5" opacity="0.22"/><path d="M76.8 21.8L77.0 26.0L77.9 30.0L79.9 33.6" stroke-width="0.8" opacity="0.24"/><path d="M18.2 51.2L14.6 50.2L10.8 50.2" stroke-width="0.5" opacity="0.35"/><path d="M35.6 5.5L40.6 4.6L45.4 3.0" stroke-width="0.9" opacity="0.74"/><path d="M52.4 63.3L55.0 64.0L57.1 65.6" stroke-width="0.8" opacity="0.73"/><path d="M1.7 58.3L-1.8 60.0L-4.5 62.9" stroke-width="0.7" opacity="0.61"/><path d="M71.8 67.5L67.5 68.1L63.1 68.0L59.0 66.4" stroke-width="0.9" opacity="0.43"/><path d="M63.1 79.1L60.4 82.3L57.4 85.3" stroke-width="0.5" opacity="0.55"/><path d="M79.3 80.6L77.6 84.1L76.2 87.7L73.7 90.7" stroke-width="0.5" opacity="0.61"/><path d="M2.4 55.1L5.3 57.4L8.1 60.0L9.6 63.4" stroke-width="0.6" opacity="0.21"/><path d="M24.0 62.1L28.3 61.0L32.4 59.7L36.8 59.9" stroke-width="0.6" opacity="0.57"/><path d="M15.8 39.5L12.3 37.1L8.9 34.4L5.1 32.4" stroke-width="0.6" opacity="0.47"/><path d="M66.8 77.7L63.1 77.0L59.4 76.4" stroke-width="0.6" opacity="0.32"/><path d="M33.0 57.3L33.7 61.4L34.6 65.5L36.9 69.0" stroke-width="0.5" opacity="0.68"/><path d="M3.3 64.9L6.2 67.7L9.9 69.4L13.6 70.9" stroke-width="0.5" opacity="0.66"/><path d="M18.9 12.9L22.5 15.7L25.6 19.0" stroke-width="0.9" opacity="0.73"/><path d="M54.6 18.3L56.9 19.4L58.9 20.9" stroke-width="0.6" opacity="0.35"/><path d="M27.6 63.9L26.3 67.6L24.1 70.9L20.9 73.1" stroke-width="0.5" opacity="0.71"/><path d="M57.6 11.9L57.0 16.3L56.2 20.6L53.9 24.3" stroke-width="0.9" opacity="0.72"/><path d="M37.0 59.7L37.4 63.8L37.0 67.9L37.7 71.9" stroke-width="0.9" opacity="0.74"/><path d="M78.0 49.2L75.3 52.6L73.0 56.4L72.3 60.8" stroke-width="0.7" opacity="0.50"/><path d="M61.3 44.7L62.0 47.4L63.4 49.8" stroke-width="0.7" opacity="0.63"/><path d="M11.2 13.6L7.9 16.1L3.8 17.2L-0.2 18.2" stroke-width="0.9" opacity="0.25"/><path d="M17.7 48.2L17.4 51.8L16.0 55.1L14.5 58.4" stroke-width="0.6" opacity="0.41"/><path d="M67.5 82.5L66.5 87.0L65.3 91.4L65.3 95.9" stroke-width="0.7" opacity="0.48"/><path d="M48.3 2.5L44.1 1.6L40.0 0.4" stroke-width="0.7" opacity="0.58"/><path d="M5.3 49.3L1.6 51.9L-1.9 54.5L-4.4 58.2" stroke-width="0.7" opacity="0.65"/><path d="M71.9 43.7L75.1 45.1L78.6 45.3L81.9 46.5" stroke-width="0.5" opacity="0.31"/><path d="M18.1 62.9L21.6 63.6L24.8 65.0L28.3 65.3" stroke-width="0.7" opacity="0.34"/><path d="M15.8 48.6L18.1 52.3L21.4 55.1" stroke-width="0.6" opacity="0.55"/><path d="M50.9 48.5L47.0 50.0L42.8 50.6L38.6 50.0" stroke-width="0.9" opacity="0.37"/><path d="M25.1 84.5L23.6 88.6L23.1 92.9L21.8 97.0" stroke-width="0.6" opacity="0.25"/><path d="M66.4 38.6L66.8 42.9L69.0 46.6" stroke-width="0.6" opacity="0.58"/><path d="M72.7 88.7L76.4 90.2L79.7 92.2L83.5 93.3" stroke-width="0.5" opacity="0.26"/><path d="M3.0 50.5L3.1 53.7L4.0 56.7" stroke-width="0.9" opacity="0.74"/><path d="M74.0 8.7L72.7 13.1L72.1 17.7" stroke-width="0.7" opacity="0.48"/><path d="M34.3 55.0L38.2 56.6L42.2 58.0L45.7 60.3" stroke-width="0.7" opacity="0.31"/><path d="M13.2 47.0L13.6 51.0L12.7 55.0L11.3 58.8" stroke-width="0.7" opacity="0.53"/></g><g fill="none" stroke="#f628f6" stroke-linecap="round" stroke-linejoin="round"><path d="M8.1 68.9L6.7 72.7L4.6 76.1" stroke-width="1.0" opacity="0.63"/><path d="M6.5 63.6L5.4 67.3L3.6 70.7L2.0 74.2" stroke-width="1.0" opacity="0.33"/><path d="M5.5 37.1L7.7 40.9L9.6 44.9" stroke-width="0.7" opacity="0.68"/><path d="M10.7 28.9L11.1 32.4L11.8 35.9L11.0 39.3" stroke-width="0.9" opacity="0.58"/><path d="M12.2 68.8L13.7 72.1L16.0 74.9L18.4 77.6" stroke-width="0.6" opacity="0.38"/><path d="M6.0 14.1L7.8 18.1L9.6 22.2L9.6 26.6" stroke-width="0.9" opacity="0.70"/><path d="M10.2 58.2L11.5 61.5L14.1 64.1L15.5 67.4" stroke-width="0.7" opacity="0.49"/><path d="M2.7 38.7L2.0 41.9L1.5 45.1" stroke-width="0.9" opacity="0.54"/><path d="M5.8 25.7L7.6 30.7L8.4 35.8" stroke-width="0.7" opacity="0.31"/><path d="M3.9 10.7L6.3 13.9L7.5 17.7L7.7 21.7" stroke-width="0.6" opacity="0.70"/><path d="M15.1 12.6L15.0 17.3L12.9 21.5" stroke-width="0.7" opacity="0.51"/><path d="M15.0 52.8L15.0 57.4L14.7 62.0L15.9 66.5" stroke-width="0.9" opacity="0.48"/><path d="M3.3 11.2L4.3 14.6L4.8 18.0" stroke-width="0.8" opacity="0.40"/><path d="M9.3 34.0L7.3 38.7L3.6 42.3" stroke-width="1.0" opacity="0.40"/></g><g fill="#f628f6"><circle cx="9.1" cy="81.8" r="0.9" opacity="0.59"/><circle cx="28.7" cy="24.9" r="0.8" opacity="0.56"/><circle cx="47.2" cy="58.0" r="0.9" opacity="0.35"/><circle cx="19.9" cy="89.7" r="0.9" opacity="0.73"/><circle cx="3.2" cy="5.6" r="0.6" opacity="0.48"/><circle cx="49.7" cy="9.4" r="0.7" opacity="0.29"/><circle cx="6.9" cy="61.9" r="0.7" opacity="0.60"/><circle cx="29.8" cy="43.8" r="0.5" opacity="0.44"/><circle cx="59.4" cy="76.8" r="0.4" opacity="0.32"/><circle cx="64.6" cy="57.1" r="0.9" opacity="0.37"/><circle cx="33.9" cy="23.6" r="0.9" opacity="0.45"/><circle cx="52.2" cy="90.6" r="0.6" opacity="0.55"/><circle cx="59.5" cy="84.3" r="0.7" opacity="0.45"/><circle cx="7.7" cy="80.2" r="0.4" opacity="0.30"/><circle cx="45.0" cy="44.4" r="0.8" opacity="0.41"/><circle cx="61.9" cy="7.0" r="0.5" opacity="0.61"/><circle cx="6.5" cy="27.8" r="0.8" opacity="0.63"/><circle cx="22.6" cy="13.1" r="0.6" opacity="0.65"/><circle cx="29.2" cy="10.8" r="0.8" opacity="0.56"/><circle cx="73.3" cy="86.1" r="0.9" opacity="0.49"/><circle cx="64.1" cy="27.9" r="0.6" opacity="0.47"/><circle cx="74.6" cy="82.0" r="0.5" opacity="0.45"/><circle cx="29.2" cy="33.3" r="0.6" opacity="0.46"/><circle cx="15.6" cy="51.6" r="0.9" opacity="0.55"/><circle cx="66.7" cy="51.6" r="0.5" opacity="0.67"/><circle cx="70.3" cy="25.8" r="0.4" opacity="0.53"/><circle cx="43.4" cy="52.0" r="1.0" opacity="0.61"/><circle cx="64.2" cy="5.9" r="0.7" opacity="0.68"/><circle cx="6.7" cy="7.5" r="0.8" opacity="0.74"/><circle cx="6.8" cy="58.1" r="0.5" opacity="0.66"/><circle cx="51.8" cy="22.5" r="0.5" opacity="0.67"/><circle cx="41.6" cy="70.0" r="0.6" opacity="0.44"/><circle cx="77.3" cy="61.6" r="0.7" opacity="0.55"/><circle cx="57.5" cy="64.9" r="0.9" opacity="0.48"/><circle cx="65.9" cy="61.1" r="0.9" opacity="0.69"/><circle cx="66.5" cy="81.4" r="1.0" opacity="0.60"/><circle cx="41.8" cy="65.0" r="0.9" opacity="0.48"/><circle cx="33.6" cy="13.4" r="0.8" opacity="0.80"/><circle cx="30.0" cy="15.4" r="0.5" opacity="0.48"/><circle cx="23.3" cy="88.8" r="0.4" opacity="0.42"/><circle cx="9.2" cy="59.4" r="0.9" opacity="0.35"/><circle cx="5.0" cy="42.0" r="0.8" opacity="0.75"/><circle cx="2.9" cy="10.0" r="0.5" opacity="0.37"/><circle cx="18.8" cy="65.7" r="0.8" opacity="0.37"/><circle cx="14.8" cy="25.7" r="0.5" opacity="0.67"/><circle cx="24.9" cy="50.2" r="0.9" opacity="0.51"/><circle cx="20.8" cy="81.3" r="0.9" opacity="0.44"/><circle cx="43.7" cy="87.7" r="0.7" opacity="0.37"/><circle cx="4.0" cy="86.8" r="0.9" opacity="0.46"/><circle cx="42.1" cy="47.2" r="0.6" opacity="0.79"/><circle cx="52.5" cy="21.8" r="0.4" opacity="0.51"/><circle cx="29.7" cy="73.0" r="0.8" opacity="0.58"/><circle cx="12.6" cy="14.4" r="0.6" opacity="0.39"/><circle cx="69.4" cy="47.3" r="0.8" opacity="0.80"/><circle cx="21.3" cy="49.0" r="0.5" opacity="0.67"/><circle cx="0.1" cy="75.2" r="0.9" opacity="0.70"/><circle cx="6.6" cy="24.7" r="0.8" opacity="0.30"/><circle cx="38.3" cy="42.9" r="1.0" opacity="0.57"/><circle cx="68.4" cy="27.8" r="0.9" opacity="0.48"/><circle cx="73.2" cy="8.3" r="0.9" opacity="0.36"/><circle cx="43.4" cy="48.2" r="0.5" opacity="0.71"/><circle cx="24.9" cy="28.5" r="0.4" opacity="0.42"/><circle cx="37.3" cy="65.5" r="0.6" opacity="0.63"/><circle cx="8.4" cy="36.1" r="0.7" opacity="0.78"/><circle cx="66.2" cy="59.9" r="0.4" opacity="0.46"/><circle cx="56.7" cy="21.8" r="0.7" opacity="0.50"/><circle cx="0.8" cy="90.8" r="0.9" opacity="0.36"/><circle cx="49.2" cy="26.6" r="0.6" opacity="0.55"/><circle cx="23.8" cy="30.9" r="0.6" opacity="0.62"/><circle cx="20.5" cy="18.3" r="0.8" opacity="0.43"/><circle cx="75.4" cy="51.6" r="0.8" opacity="0.43"/><circle cx="66.0" cy="8.5" r="0.5" opacity="0.30"/><circle cx="54.1" cy="64.9" r="0.5" opacity="0.47"/><circle cx="66.8" cy="54.3" r="0.5" opacity="0.37"/><circle cx="12.5" cy="11.4" r="0.6" opacity="0.29"/><circle cx="73.5" cy="39.1" r="0.7" opacity="0.61"/><circle cx="61.2" cy="75.2" r="0.6" opacity="0.43"/><circle cx="32.9" cy="1.4" r="0.6" opacity="0.63"/><circle cx="78.4" cy="72.3" r="0.8" opacity="0.58"/><circle cx="1.5" cy="30.3" r="0.6" opacity="0.61"/></g><g fill="none" stroke="#f628f6" stroke-linecap="round"><path d="M63 26Q54 28 45 31" stroke-width="1.6" opacity="0.9"/><path d="M41 15Q32 24 21 33" stroke-width="1.1" opacity="0.8"/><path d="M52 46Q60 40 70 35" stroke-width="1" opacity="0.7"/><path d="M45 55Q60 60 78 66" stroke-width="0.9" opacity="0.6"/><path d="M0 88Q10 84 16 80" stroke-width="1.6" opacity="0.8"/><path d="M56 92Q66 86 80 82" stroke-width="1.4" opacity="0.8"/><path d="M66 30Q72 40 74 52" stroke-width="0.9" opacity="0.6"/></g></g><g filter="url(#b12)"><path d="M45 54C47 57 50.5 63 54 70C57.5 76 62 80 65 83C59 85.5 51 85 45.5 81C44 77.5 46.5 72 47 66C47 61 45.5 58 45 54Z" fill="#ff38ff" opacity="0.95"/><path d="M15.5 51C22 47.5 34 47.5 45.5 48C42 52 36 53 28 53.6C22 54 17.5 53 15.5 51Z" fill="#ee2cee" opacity="0.9"/><path d="M64 10C66 6 71 5 75 7C78 8.5 80 10 80 12V19C76 20 71 19 68 16.5C65.5 15 63.5 12.5 64 10Z" fill="#e828e8" opacity="0.85"/></g></g>
<g id="g1"><rect width="80" height="92" fill="#04090a"/><rect width="80" height="92" fill="#1c7a2a" filter="url(#tv2)" opacity="0.35"/><g filter="url(#b05)"><g fill="none" stroke="#3ae644" stroke-linecap="round" stroke-linejoin="round"><path d="M49.7 67.9L47.9 64.1L44.7 61.4" stroke-width="0.6" opacity="0.29"/><path d="M51.8 82.5L54.4 83.3L57.0 84.3" stroke-width="0.4" opacity="0.14"/><path d="M22.3 83.9L24.6 87.7L26.6 91.6" stroke-width="0.5" opacity="0.10"/><path d="M69.5 19.2L67.6 23.4L64.1 26.4" stroke-width="0.7" opacity="0.24"/><path d="M16.3 86.2L11.9 84.8L7.3 83.9" stroke-width="0.5" opacity="0.13"/><path d="M5.2 27.6L9.2 28.4L13.2 28.4" stroke-width="0.8" opacity="0.20"/><path d="M25.2 44.1L29.8 46.0L33.8 48.8" stroke-width="0.8" opacity="0.10"/><path d="M62.9 33.5L65.0 33.5L67.0 34.3" stroke-width="0.5" opacity="0.25"/><path d="M74.2 86.3L76.5 89.0L79.6 90.8" stroke-width="0.8" opacity="0.26"/><path d="M68.6 3.4L68.0 6.3L66.3 8.8" stroke-width="0.6" opacity="0.28"/><path d="M43.5 28.6L45.6 27.9L47.8 27.5" stroke-width="0.9" opacity="0.13"/><path d="M3.9 90.4L4.2 93.1L3.7 95.7" stroke-width="0.6" opacity="0.18"/><path d="M4.4 83.9L8.8 82.8L13.3 82.6" stroke-width="0.9" opacity="0.23"/><path d="M62.9 9.8L67.4 10.1L71.9 10.3" stroke-width="0.9" opacity="0.27"/><path d="M77.9 41.5L76.3 44.6L74.9 47.7" stroke-width="0.5" opacity="0.18"/><path d="M78.9 87.9L78.8 90.9L79.3 93.9" stroke-width="0.8" opacity="0.27"/></g><g fill="#3ae644"><circle cx="28.8" cy="72.0" r="0.7" opacity="0.34"/><circle cx="53.0" cy="69.6" r="0.5" opacity="0.35"/><circle cx="22.4" cy="44.5" r="0.7" opacity="0.34"/><circle cx="23.4" cy="86.6" r="0.6" opacity="0.30"/><circle cx="0.9" cy="50.1" r="0.4" opacity="0.34"/><circle cx="36.9" cy="74.8" r="0.6" opacity="0.38"/><circle cx="27.8" cy="59.0" r="0.7" opacity="0.39"/><circle cx="27.9" cy="77.2" r="0.7" opacity="0.34"/><circle cx="77.9" cy="87.6" r="0.6" opacity="0.29"/><circle cx="13.3" cy="76.6" r="0.8" opacity="0.27"/><circle cx="55.2" cy="65.9" r="0.7" opacity="0.16"/><circle cx="62.3" cy="53.2" r="0.6" opacity="0.25"/><circle cx="49.8" cy="71.0" r="0.6" opacity="0.35"/><circle cx="2.2" cy="14.7" r="0.5" opacity="0.33"/><circle cx="17.5" cy="62.8" r="0.6" opacity="0.11"/><circle cx="37.6" cy="20.7" r="0.3" opacity="0.15"/><circle cx="25.3" cy="16.6" r="0.4" opacity="0.11"/><circle cx="37.1" cy="34.8" r="0.6" opacity="0.31"/><circle cx="19.0" cy="82.7" r="0.3" opacity="0.24"/><circle cx="22.2" cy="37.6" r="0.4" opacity="0.39"/><circle cx="29.8" cy="3.3" r="0.6" opacity="0.13"/><circle cx="43.5" cy="31.1" r="0.6" opacity="0.44"/><circle cx="65.3" cy="38.4" r="0.7" opacity="0.32"/><circle cx="29.5" cy="13.0" r="0.6" opacity="0.30"/><circle cx="76.4" cy="88.7" r="0.6" opacity="0.22"/><circle cx="71.3" cy="0.1" r="0.4" opacity="0.30"/><circle cx="49.1" cy="12.9" r="0.6" opacity="0.41"/><circle cx="30.0" cy="39.5" r="0.4" opacity="0.20"/><circle cx="77.6" cy="34.8" r="0.8" opacity="0.42"/><circle cx="47.5" cy="23.8" r="0.8" opacity="0.27"/></g><path d="M35.0 12.5L41.8 15.7L46.8 18.2L53.7 22.0" fill="none" stroke="#3ae644" stroke-width="1.0" opacity="0.60" stroke-linecap="round" stroke-linejoin="round" stroke-dasharray="3 1.0 2 1.2"/><path d="M20.5 33.3L30.5 29.8L33.6 22.0L40.5 16.3" fill="none" stroke="#3ae644" stroke-width="1.2" opacity="0.70" stroke-linecap="round" stroke-linejoin="round" stroke-dasharray="4 1.6 3 1.2"/><path d="M38.7 30.1L50.0 28.2L58.8 26.4L67.5 20.7L78.8 16.3" fill="none" stroke="#3ae644" stroke-width="1.5" opacity="0.80" stroke-linecap="round" stroke-linejoin="round" stroke-dasharray="5 1.0 2 1.2"/><path d="M51.0 1.0L58.0 3.0L60.0 0.0" fill="none" stroke="#3ae644" stroke-width="1.0" opacity="0.90" stroke-linecap="round" stroke-linejoin="round" stroke-dasharray="3 1.6 3 1.2"/><path d="M40.0 2.0L44.0 0.5" fill="none" stroke="#3ae644" stroke-width="1.2" opacity="0.60" stroke-linecap="round" stroke-linejoin="round" stroke-dasharray="4 1.0 2 1.2"/><path d="M51.2 44.6L60.0 38.3L67.5 34.5" fill="none" stroke="#3ae644" stroke-width="1.5" opacity="0.70" stroke-linecap="round" stroke-linejoin="round" stroke-dasharray="5 1.6 3 1.2"/><path d="M31.1 55.9L38.7 49.6L46.2 50.8" fill="none" stroke="#3ae644" stroke-width="1.0" opacity="0.80" stroke-linecap="round" stroke-linejoin="round" stroke-dasharray="3 1.0 2 1.2"/><path d="M63.8 48.3L71.3 54.6L79.5 59.6" fill="none" stroke="#3ae644" stroke-width="1.2" opacity="0.90" stroke-linecap="round" stroke-linejoin="round" stroke-dasharray="4 1.6 3 1.2"/><path d="M52.5 55.9L62.5 52.1L65.0 54.6" fill="none" stroke="#3ae644" stroke-width="1.5" opacity="0.60" stroke-linecap="round" stroke-linejoin="round" stroke-dasharray="5 1.0 2 1.2"/><path d="M60.0 80.4L67.5 83.5L79.5 81.0" fill="none" stroke="#3ae644" stroke-width="1.0" opacity="0.70" stroke-linecap="round" stroke-linejoin="round" stroke-dasharray="3 1.6 3 1.2"/><path d="M57.5 90.5L67.5 87.3L78.8 83.5" fill="none" stroke="#3ae644" stroke-width="1.2" opacity="0.80" stroke-linecap="round" stroke-linejoin="round" stroke-dasharray="4 1.0 2 1.2"/><path d="M35.0 81.0L42.5 84.8" fill="none" stroke="#3ae644" stroke-width="1.5" opacity="0.90" stroke-linecap="round" stroke-linejoin="round" stroke-dasharray="5 1.6 3 1.2"/><path d="M38.7 74.7L43.7 82.3" fill="none" stroke="#3ae644" stroke-width="1.0" opacity="0.60" stroke-linecap="round" stroke-linejoin="round" stroke-dasharray="3 1.0 2 1.2"/><path d="M0.0 88.0L4.8 86.6" fill="none" stroke="#3ae644" stroke-width="1.2" opacity="0.70" stroke-linecap="round" stroke-linejoin="round" stroke-dasharray="4 1.6 3 1.2"/><path d="M28.0 62.0L27.0 70.0" fill="none" stroke="#3ae644" stroke-width="1.5" opacity="0.80" stroke-linecap="round" stroke-linejoin="round" stroke-dasharray="5 1.0 2 1.2"/><path d="M66.0 27.0L72.0 30.0L78.0 28.0" fill="none" stroke="#3ae644" stroke-width="1.0" opacity="0.90" stroke-linecap="round" stroke-linejoin="round" stroke-dasharray="3 1.6 3 1.2"/><path d="M2.0 38.0L8.0 36.0" fill="none" stroke="#3ae644" stroke-width="1.2" opacity="0.60" stroke-linecap="round" stroke-linejoin="round" stroke-dasharray="4 1.0 2 1.2"/><path d="M6.0 8.0L12.0 8.5" fill="none" stroke="#3ae644" stroke-width="1.5" opacity="0.70" stroke-linecap="round" stroke-linejoin="round" stroke-dasharray="5 1.6 3 1.2"/></g><g filter="url(#b12)"><path d="M44.3 55C46.5 56.5 49 61 51.5 66C55 71 59.5 77 60 81C57 84.5 49 85 45 82C43 78 44.5 72 45.5 67C45.5 62 44 58.5 44.3 55Z" fill="#2cc034" opacity="0.97"/><path d="M44.6 56C46.5 57.5 48.5 61 50.5 66C49.5 68 47.5 68.5 46 67C45.8 63 44.6 59 44.6 56Z" fill="#6cf870"/><ellipse cx="51" cy="74" rx="5.5" ry="7" fill="#4ce454" opacity="0.85"/></g></g>
<g id="k1"><rect width="80" height="92" fill="#072a30"/><rect width="80" height="92" fill="#1a7a80" filter="url(#tvc)" opacity="0.32"/><rect width="80" height="92" fill="#2fb4b8" filter="url(#tv3)" opacity="0.8"/><rect width="80" height="92" fill="#58e8e8" filter="url(#tv5)" opacity="0.7"/><g filter="url(#b05)"><g fill="#3fd0d0"><circle cx="13.2" cy="63.2" r="0.7" opacity="0.59"/><circle cx="17.2" cy="72.6" r="0.8" opacity="0.61"/><circle cx="40.3" cy="21.6" r="0.4" opacity="0.52"/><circle cx="46.7" cy="6.3" r="0.8" opacity="0.44"/><circle cx="18.6" cy="3.9" r="0.9" opacity="0.74"/><circle cx="69.8" cy="56.4" r="0.4" opacity="0.50"/><circle cx="39.7" cy="10.6" r="0.9" opacity="0.52"/><circle cx="12.4" cy="74.9" r="0.5" opacity="0.86"/><circle cx="36.2" cy="50.6" r="0.6" opacity="0.59"/><circle cx="14.9" cy="3.4" r="0.8" opacity="0.44"/><circle cx="62.3" cy="19.1" r="0.9" opacity="0.84"/><circle cx="60.2" cy="69.9" r="0.7" opacity="0.74"/><circle cx="9.8" cy="43.6" r="0.8" opacity="0.42"/><circle cx="73.7" cy="81.3" r="0.6" opacity="0.52"/><circle cx="36.0" cy="35.3" r="0.9" opacity="0.53"/><circle cx="2.1" cy="8.5" r="0.8" opacity="0.90"/><circle cx="39.6" cy="45.0" r="0.7" opacity="0.75"/><circle cx="17.7" cy="55.8" r="0.7" opacity="0.67"/><circle cx="14.4" cy="15.6" r="0.6" opacity="0.86"/><circle cx="27.7" cy="54.7" r="0.6" opacity="0.36"/><circle cx="5.2" cy="74.5" r="0.8" opacity="0.52"/><circle cx="54.5" cy="61.9" r="0.8" opacity="0.87"/><circle cx="32.5" cy="90.6" r="0.9" opacity="0.65"/><circle cx="70.5" cy="45.0" r="0.6" opacity="0.45"/><circle cx="69.9" cy="14.9" r="0.4" opacity="0.78"/><circle cx="61.8" cy="44.3" r="0.8" opacity="0.33"/><circle cx="20.6" cy="26.6" r="0.6" opacity="0.40"/><circle cx="5.5" cy="31.0" r="0.8" opacity="0.89"/><circle cx="59.5" cy="43.9" r="0.5" opacity="0.88"/><circle cx="41.9" cy="66.7" r="0.4" opacity="0.43"/><circle cx="66.9" cy="72.8" r="0.8" opacity="0.66"/><circle cx="34.0" cy="53.2" r="0.8" opacity="0.48"/><circle cx="42.6" cy="25.3" r="0.8" opacity="0.31"/><circle cx="54.7" cy="87.4" r="0.4" opacity="0.66"/><circle cx="51.4" cy="78.0" r="0.7" opacity="0.45"/><circle cx="32.4" cy="87.8" r="0.9" opacity="0.38"/><circle cx="7.6" cy="8.6" r="0.4" opacity="0.57"/><circle cx="11.2" cy="79.4" r="0.7" opacity="0.38"/><circle cx="43.0" cy="29.7" r="0.6" opacity="0.43"/><circle cx="13.3" cy="16.8" r="0.6" opacity="0.73"/><circle cx="43.9" cy="4.2" r="0.8" opacity="0.82"/><circle cx="61.8" cy="72.4" r="0.4" opacity="0.58"/><circle cx="5.1" cy="70.0" r="0.5" opacity="0.73"/><circle cx="20.2" cy="63.8" r="0.6" opacity="0.33"/><circle cx="31.0" cy="28.3" r="0.9" opacity="0.48"/><circle cx="40.1" cy="50.3" r="0.9" opacity="0.36"/><circle cx="48.0" cy="46.6" r="0.8" opacity="0.88"/><circle cx="24.8" cy="64.1" r="0.7" opacity="0.64"/><circle cx="5.1" cy="74.6" r="0.9" opacity="0.51"/><circle cx="25.4" cy="91.0" r="0.5" opacity="0.35"/><circle cx="5.9" cy="74.6" r="0.8" opacity="0.57"/><circle cx="49.6" cy="1.8" r="0.7" opacity="0.57"/><circle cx="41.3" cy="35.7" r="0.6" opacity="0.44"/><circle cx="3.9" cy="39.7" r="0.5" opacity="0.72"/><circle cx="65.2" cy="66.3" r="0.6" opacity="0.44"/><circle cx="30.8" cy="44.6" r="0.7" opacity="0.88"/><circle cx="6.8" cy="43.9" r="0.6" opacity="0.73"/><circle cx="71.1" cy="71.4" r="0.7" opacity="0.76"/><circle cx="53.3" cy="78.7" r="0.7" opacity="0.71"/><circle cx="19.6" cy="84.0" r="0.6" opacity="0.67"/><circle cx="65.8" cy="88.3" r="0.9" opacity="0.30"/><circle cx="24.9" cy="28.6" r="0.6" opacity="0.39"/><circle cx="44.1" cy="7.3" r="0.6" opacity="0.87"/><circle cx="59.2" cy="42.4" r="0.5" opacity="0.87"/><circle cx="56.2" cy="18.9" r="0.6" opacity="0.68"/><circle cx="54.4" cy="23.9" r="0.9" opacity="0.49"/><circle cx="20.3" cy="77.4" r="0.5" opacity="0.71"/><circle cx="16.0" cy="54.8" r="0.5" opacity="0.53"/><circle cx="75.1" cy="42.8" r="0.6" opacity="0.67"/><circle cx="22.4" cy="16.0" r="0.6" opacity="0.46"/><circle cx="15.0" cy="88.0" r="0.4" opacity="0.79"/><circle cx="74.6" cy="64.5" r="0.4" opacity="0.60"/><circle cx="3.1" cy="55.7" r="0.8" opacity="0.44"/><circle cx="0.6" cy="49.9" r="0.4" opacity="0.49"/><circle cx="36.2" cy="81.9" r="0.6" opacity="0.38"/><circle cx="63.2" cy="75.3" r="0.7" opacity="0.33"/><circle cx="15.0" cy="36.9" r="0.7" opacity="0.44"/><circle cx="64.0" cy="77.3" r="0.9" opacity="0.83"/><circle cx="1.4" cy="53.3" r="0.4" opacity="0.84"/><circle cx="59.6" cy="69.5" r="0.5" opacity="0.34"/><circle cx="65.1" cy="55.6" r="0.7" opacity="0.58"/><circle cx="63.8" cy="31.0" r="0.5" opacity="0.51"/><circle cx="23.8" cy="57.4" r="0.8" opacity="0.34"/><circle cx="5.4" cy="46.9" r="0.7" opacity="0.41"/><circle cx="21.5" cy="5.4" r="0.4" opacity="0.60"/><circle cx="54.3" cy="59.8" r="0.5" opacity="0.36"/><circle cx="74.3" cy="49.3" r="0.6" opacity="0.71"/><circle cx="58.1" cy="48.1" r="0.4" opacity="0.80"/><circle cx="17.1" cy="3.7" r="0.6" opacity="0.62"/><circle cx="50.1" cy="15.9" r="0.8" opacity="0.60"/><circle cx="12.9" cy="77.9" r="0.8" opacity="0.84"/><circle cx="54.2" cy="19.9" r="0.8" opacity="0.84"/><circle cx="42.6" cy="83.2" r="0.9" opacity="0.53"/><circle cx="75.2" cy="85.8" r="0.8" opacity="0.31"/><circle cx="28.1" cy="56.2" r="0.7" opacity="0.75"/><circle cx="51.6" cy="14.8" r="0.9" opacity="0.62"/><circle cx="70.4" cy="18.9" r="0.9" opacity="0.63"/><circle cx="61.9" cy="67.8" r="0.8" opacity="0.52"/><circle cx="6.6" cy="37.2" r="0.5" opacity="0.62"/><circle cx="65.0" cy="33.2" r="0.5" opacity="0.32"/><circle cx="33.8" cy="53.2" r="0.4" opacity="0.70"/><circle cx="16.8" cy="9.8" r="0.9" opacity="0.61"/><circle cx="71.4" cy="47.1" r="0.5" opacity="0.44"/><circle cx="33.9" cy="58.7" r="0.8" opacity="0.75"/><circle cx="51.9" cy="23.2" r="0.6" opacity="0.53"/><circle cx="39.1" cy="24.3" r="0.7" opacity="0.58"/><circle cx="2.8" cy="75.4" r="0.7" opacity="0.78"/><circle cx="58.8" cy="66.9" r="0.9" opacity="0.53"/><circle cx="31.4" cy="0.3" r="0.7" opacity="0.65"/><circle cx="46.0" cy="91.4" r="0.5" opacity="0.44"/><circle cx="58.6" cy="74.4" r="0.6" opacity="0.33"/><circle cx="29.6" cy="75.7" r="0.6" opacity="0.58"/><circle cx="31.1" cy="57.6" r="0.7" opacity="0.72"/><circle cx="69.0" cy="68.8" r="0.6" opacity="0.45"/><circle cx="62.4" cy="72.6" r="0.9" opacity="0.42"/><circle cx="67.6" cy="81.6" r="0.4" opacity="0.48"/><circle cx="50.6" cy="13.4" r="0.8" opacity="0.46"/><circle cx="54.5" cy="27.1" r="0.5" opacity="0.42"/><circle cx="39.7" cy="65.3" r="0.5" opacity="0.71"/><circle cx="26.7" cy="59.5" r="0.6" opacity="0.42"/></g><g fill="none" stroke="#3fd0d0" stroke-linecap="round" stroke-linejoin="round"><path d="M11.3 5.3L9.7 7.2L7.8 8.9" stroke-width="0.5" opacity="0.49"/><path d="M47.5 40.6L44.0 40.6L40.5 40.2" stroke-width="0.7" opacity="0.34"/><path d="M60.2 58.2L59.8 61.1L60.5 63.9" stroke-width="0.8" opacity="0.38"/><path d="M17.7 53.8L21.5 54.7L25.0 56.6" stroke-width="0.7" opacity="0.33"/><path d="M17.2 4.4L21.6 3.5L25.7 1.6" stroke-width="0.6" opacity="0.41"/><path d="M9.2 37.1L9.6 41.9L11.7 46.2" stroke-width="0.6" opacity="0.44"/><path d="M7.7 18.7L3.7 19.4L0.4 21.8" stroke-width="0.7" opacity="0.33"/><path d="M72.9 32.7L73.7 36.6L73.6 40.6" stroke-width="0.8" opacity="0.27"/><path d="M73.9 7.3L70.5 3.9L66.1 1.6" stroke-width="0.7" opacity="0.47"/><path d="M52.3 35.7L54.7 37.8L57.3 39.5" stroke-width="0.9" opacity="0.50"/><path d="M11.9 28.2L15.0 30.4L18.3 32.3" stroke-width="0.9" opacity="0.37"/><path d="M55.1 57.5L55.7 60.9L56.4 64.3" stroke-width="0.7" opacity="0.33"/><path d="M14.9 83.7L17.0 84.0L18.9 84.9" stroke-width="0.7" opacity="0.47"/><path d="M18.4 59.6L16.5 63.3L15.4 67.2" stroke-width="0.8" opacity="0.53"/><path d="M55.2 44.0L53.9 47.3L52.1 50.4L49.5 53.0" stroke-width="0.8" opacity="0.59"/><path d="M70.1 22.5L66.7 23.0L63.4 24.4" stroke-width="0.7" opacity="0.45"/><path d="M21.8 24.5L16.8 24.6L12.1 23.1" stroke-width="0.9" opacity="0.53"/><path d="M78.1 45.7L75.2 48.4L72.5 51.3L69.5 53.7" stroke-width="0.6" opacity="0.25"/><path d="M30.8 12.5L32.8 9.3L33.3 5.5" stroke-width="0.8" opacity="0.24"/><path d="M40.7 27.1L39.3 30.5L37.2 33.5" stroke-width="0.6" opacity="0.34"/><path d="M56.0 76.5L53.6 80.3L50.5 83.5" stroke-width="0.9" opacity="0.25"/><path d="M27.5 85.8L28.4 89.2L28.4 92.7L29.9 95.9" stroke-width="0.7" opacity="0.27"/><path d="M27.6 19.5L28.8 21.9L29.9 24.4" stroke-width="0.9" opacity="0.54"/><path d="M49.6 15.5L51.8 18.6L54.6 21.1L58.0 22.9" stroke-width="0.7" opacity="0.52"/><path d="M68.2 68.3L69.1 71.5L70.1 74.6" stroke-width="0.9" opacity="0.60"/><path d="M6.7 88.4L1.9 88.9L-2.4 90.8" stroke-width="0.8" opacity="0.59"/><path d="M70.3 83.5L71.3 87.3L73.4 90.7" stroke-width="0.8" opacity="0.25"/><path d="M64.2 66.2L66.6 65.2L69.1 64.6" stroke-width="0.5" opacity="0.58"/><path d="M77.0 40.4L78.3 44.6L79.8 48.8" stroke-width="0.9" opacity="0.27"/><path d="M23.8 70.0L26.0 66.9L27.9 63.6L29.3 60.1" stroke-width="0.6" opacity="0.34"/><path d="M42.9 10.6L45.2 10.6L47.4 10.1" stroke-width="0.7" opacity="0.32"/><path d="M66.8 60.3L64.1 64.2L61.0 67.8" stroke-width="0.9" opacity="0.41"/><path d="M60.1 58.0L56.0 60.4L51.9 62.7" stroke-width="1.0" opacity="0.24"/><path d="M57.7 24.3L56.4 28.2L56.0 32.4" stroke-width="0.9" opacity="0.46"/><path d="M50.2 10.6L48.1 12.4L45.6 13.9" stroke-width="0.8" opacity="0.42"/><path d="M77.4 71.6L80.3 73.9L82.7 76.7" stroke-width="0.6" opacity="0.48"/><path d="M34.4 1.4L36.6 3.2L37.8 5.7" stroke-width="1.0" opacity="0.45"/><path d="M68.4 45.0L66.2 45.4L64.1 46.1" stroke-width="0.7" opacity="0.37"/><path d="M4.6 62.2L3.4 64.7L1.6 66.7" stroke-width="0.6" opacity="0.51"/><path d="M13.8 54.5L11.5 54.3L9.3 53.4" stroke-width="0.7" opacity="0.54"/></g><g fill="none" stroke="#3fd0d0" stroke-linecap="round"><path d="M12 24C11 17 18 13 26 15C33 17 38 24 46 26Q58 27 72 22" stroke-width="1.3" opacity="0.55"/><path d="M12 24C13 30 19 33 25 30" stroke-width="1.1" opacity="0.5"/><path d="M72 60Q74 70 70 82" stroke-width="1.2" opacity="0.6"/></g></g></g>
<g id="m2"><rect width="80" height="92" fill="#10031a"/><rect width="80" height="92" fill="#6a1880" filter="url(#tv1)" opacity="0.18"/><g filter="url(#b05)"><g fill="none" stroke="#9028a8" stroke-linecap="round" stroke-linejoin="round"><path d="M18.1 88.1L19.7 89.8L20.4 92.1" stroke-width="0.5" opacity="0.23"/><path d="M36.6 41.5L40.1 42.3L43.6 42.2L46.8 40.7" stroke-width="0.5" opacity="0.18"/><path d="M72.0 34.7L74.8 31.9L77.8 29.4L80.6 26.5" stroke-width="0.7" opacity="0.17"/><path d="M55.2 45.6L50.9 46.3L47.2 48.5" stroke-width="0.8" opacity="0.20"/><path d="M15.5 86.7L12.9 89.3L10.7 92.2L7.6 94.3" stroke-width="0.5" opacity="0.25"/><path d="M7.8 63.2L4.6 61.6L1.1 60.8L-2.5 61.2" stroke-width="0.6" opacity="0.20"/><path d="M5.7 82.7L4.5 85.4L4.6 88.2" stroke-width="0.5" opacity="0.15"/><path d="M33.8 34.5L31.6 33.0L29.0 32.1" stroke-width="0.7" opacity="0.29"/><path d="M16.1 70.2L19.9 66.8L22.5 62.5" stroke-width="0.6" opacity="0.15"/><path d="M32.7 40.9L33.8 43.8L35.9 46.2" stroke-width="0.4" opacity="0.20"/><path d="M28.7 74.0L27.7 77.8L28.3 81.7L30.1 85.2" stroke-width="0.6" opacity="0.21"/><path d="M59.4 32.2L60.6 35.5L60.7 39.1L62.2 42.3" stroke-width="0.8" opacity="0.25"/><path d="M79.0 53.1L78.7 56.9L78.0 60.6" stroke-width="0.6" opacity="0.19"/><path d="M12.3 11.2L12.2 13.7L11.6 16.1" stroke-width="0.7" opacity="0.19"/><path d="M31.4 33.1L34.6 30.9L38.1 29.5" stroke-width="0.7" opacity="0.22"/><path d="M1.8 33.4L5.5 34.5L9.3 35.8L12.7 37.6" stroke-width="0.5" opacity="0.15"/><path d="M42.0 68.1L44.9 71.5L47.0 75.4" stroke-width="0.8" opacity="0.30"/><path d="M17.8 27.2L14.8 25.6L12.3 23.1" stroke-width="0.6" opacity="0.23"/><path d="M76.4 71.7L75.5 74.4L73.6 76.4" stroke-width="0.7" opacity="0.16"/><path d="M23.2 56.2L19.5 55.1L16.3 53.0L13.3 50.6" stroke-width="0.5" opacity="0.19"/></g></g><g filter="url(#b08)" stroke-linecap="round" stroke-linejoin="round"><path d="M21.0 0.6L17.3 8.8L18.0 18.0L19.8 27.6L23.0 38.0L26.0 46.0L28.6 51.5" fill="none" stroke="#d820e0" stroke-width="5.2" opacity="0.78"/><path d="M21.0 1.3L30.0 1.5L38.7 3.8L44.0 9.0L47.5 15.0L52.5 20.0" fill="none" stroke="#b01cc0" stroke-width="2.6" opacity="0.45"/><path d="M43.0 72.0L50.0 77.0L58.0 86.0L62.0 92.0" fill="none" stroke="#a01cb0" stroke-width="1.6" opacity="0.35"/><path d="M27 47C23.5 51 22 57 22.3 63C22.8 69 25.5 74 30 76.5C34 78.5 38.5 78 42 75.5C45 73.5 46 70 44.5 66C43 61.5 40 57.5 37 54C34 51 31 48.5 29.5 46Z" fill="#f024f4" opacity="0.97"/><path d="M54 24.5C55 20 58.5 16 63.5 14.5C69 13 75 14 80 17V31C76 32.5 71 33 66.5 32.5C61.5 32 57 30.5 55 28C54 27 53.8 25.8 54 24.5Z" fill="#d01cd6" opacity="0.85"/><ellipse cx="33.5" cy="65" rx="4.6" ry="3.8" fill="#3c0a50" opacity="0.85" transform="rotate(35 33.5 65)"/><ellipse cx="68.5" cy="23" rx="9.5" ry="5.6" fill="#300840" opacity="0.9"/><path d="M45.5 29.5L50 25.5" fill="none" stroke="#f838f8" stroke-width="2.8" opacity="0.95"/><path d="M73 8L78.5 8.6" fill="none" stroke="#d030d8" stroke-width="2.2" opacity="0.7"/></g><g filter="url(#b05)"><g fill="#ff30ff"><circle cx="23.5" cy="24.7" r="0.7" opacity="0.46"/><circle cx="19.3" cy="22.3" r="0.5" opacity="0.47"/><circle cx="26.5" cy="41.2" r="0.5" opacity="0.88"/><circle cx="24.4" cy="41.0" r="0.7" opacity="0.66"/><circle cx="27.7" cy="42.1" r="0.6" opacity="0.77"/><circle cx="26.1" cy="52.7" r="0.4" opacity="0.67"/><circle cx="20.5" cy="36.8" r="0.8" opacity="0.36"/><circle cx="20.1" cy="32.4" r="0.5" opacity="0.32"/><circle cx="24.7" cy="48.8" r="0.7" opacity="0.73"/><circle cx="23.3" cy="30.6" r="0.5" opacity="0.50"/><circle cx="16.9" cy="27.7" r="0.5" opacity="0.53"/><circle cx="16.7" cy="22.9" r="0.5" opacity="0.48"/><circle cx="17.0" cy="9.3" r="0.7" opacity="0.80"/><circle cx="21.3" cy="29.4" r="0.7" opacity="0.59"/><circle cx="13.8" cy="31.5" r="0.5" opacity="0.54"/><circle cx="20.6" cy="8.3" r="0.7" opacity="0.65"/><circle cx="25.7" cy="31.2" r="0.8" opacity="0.72"/><circle cx="25.7" cy="51.8" r="0.7" opacity="0.62"/><circle cx="18.7" cy="16.5" r="0.6" opacity="0.88"/><circle cx="22.6" cy="27.3" r="0.4" opacity="0.62"/><circle cx="22.0" cy="40.5" r="0.4" opacity="0.52"/><circle cx="29.9" cy="47.7" r="0.6" opacity="0.39"/><circle cx="21.2" cy="36.1" r="0.8" opacity="0.56"/><circle cx="21.2" cy="33.0" r="0.8" opacity="0.32"/><circle cx="24.5" cy="30.8" r="0.6" opacity="0.59"/><circle cx="22.7" cy="8.4" r="0.5" opacity="0.52"/><circle cx="26.3" cy="41.0" r="0.7" opacity="0.83"/><circle cx="15.2" cy="16.5" r="0.5" opacity="0.52"/><circle cx="21.6" cy="29.5" r="0.7" opacity="0.65"/><circle cx="14.8" cy="13.8" r="0.7" opacity="0.57"/><circle cx="24.6" cy="32.1" r="0.7" opacity="0.52"/><circle cx="21.0" cy="31.5" r="0.5" opacity="0.63"/><circle cx="22.4" cy="37.0" r="0.7" opacity="0.76"/><circle cx="16.5" cy="11.3" r="0.7" opacity="0.42"/><circle cx="15.0" cy="4.6" r="0.8" opacity="0.74"/><circle cx="22.5" cy="39.0" r="0.4" opacity="0.79"/><circle cx="16.8" cy="17.1" r="0.8" opacity="0.36"/><circle cx="21.5" cy="27.0" r="0.7" opacity="0.89"/><circle cx="27.2" cy="46.6" r="0.8" opacity="0.70"/><circle cx="17.6" cy="18.5" r="0.5" opacity="0.72"/><circle cx="16.6" cy="10.7" r="0.5" opacity="0.54"/><circle cx="22.1" cy="36.3" r="0.6" opacity="0.54"/><circle cx="18.5" cy="11.1" r="0.6" opacity="0.82"/><circle cx="27.1" cy="39.7" r="0.5" opacity="0.69"/><circle cx="20.9" cy="5.4" r="0.8" opacity="0.82"/><circle cx="26.0" cy="51.1" r="0.6" opacity="0.43"/><circle cx="25.1" cy="40.9" r="0.7" opacity="0.66"/><circle cx="18.5" cy="10.5" r="0.5" opacity="0.57"/><circle cx="27.5" cy="51.9" r="0.8" opacity="0.54"/><circle cx="22.3" cy="40.5" r="0.7" opacity="0.70"/><circle cx="21.2" cy="23.5" r="0.8" opacity="0.42"/><circle cx="25.3" cy="39.0" r="0.6" opacity="0.52"/><circle cx="21.8" cy="25.4" r="0.5" opacity="0.63"/><circle cx="19.1" cy="10.0" r="0.5" opacity="0.53"/><circle cx="19.2" cy="16.7" r="0.6" opacity="0.88"/><circle cx="27.3" cy="49.1" r="0.7" opacity="0.83"/><circle cx="21.8" cy="28.0" r="0.5" opacity="0.57"/><circle cx="22.6" cy="24.2" r="0.4" opacity="0.85"/><circle cx="21.5" cy="26.7" r="0.8" opacity="0.67"/><circle cx="23.6" cy="22.4" r="0.7" opacity="0.84"/><circle cx="21.6" cy="18.1" r="0.8" opacity="0.63"/><circle cx="23.6" cy="37.1" r="0.7" opacity="0.41"/><circle cx="21.8" cy="28.1" r="0.4" opacity="0.37"/><circle cx="20.0" cy="9.5" r="0.7" opacity="0.56"/><circle cx="21.5" cy="40.8" r="0.6" opacity="0.65"/><circle cx="18.5" cy="23.3" r="0.4" opacity="0.42"/><circle cx="20.7" cy="25.1" r="0.4" opacity="0.57"/><circle cx="18.4" cy="17.7" r="0.6" opacity="0.77"/><circle cx="20.0" cy="24.3" r="0.4" opacity="0.57"/><circle cx="19.9" cy="14.5" r="0.8" opacity="0.39"/><circle cx="23.6" cy="51.4" r="0.7" opacity="0.60"/><circle cx="20.7" cy="29.9" r="0.5" opacity="0.43"/><circle cx="30.2" cy="45.9" r="0.4" opacity="0.39"/><circle cx="20.8" cy="14.9" r="0.5" opacity="0.47"/><circle cx="21.5" cy="5.5" r="0.5" opacity="0.89"/><circle cx="25.7" cy="47.2" r="0.6" opacity="0.67"/><circle cx="25.4" cy="33.3" r="0.4" opacity="0.68"/><circle cx="19.8" cy="33.6" r="0.4" opacity="0.31"/><circle cx="22.2" cy="38.0" r="0.7" opacity="0.78"/><circle cx="21.2" cy="34.6" r="0.8" opacity="0.82"/><circle cx="28.5" cy="46.6" r="0.4" opacity="0.37"/><circle cx="18.5" cy="21.3" r="0.8" opacity="0.86"/><circle cx="29.4" cy="44.7" r="0.8" opacity="0.77"/><circle cx="28.7" cy="50.6" r="0.4" opacity="0.46"/><circle cx="28.1" cy="41.8" r="0.4" opacity="0.83"/><circle cx="21.2" cy="31.6" r="0.7" opacity="0.76"/><circle cx="18.7" cy="7.1" r="0.8" opacity="0.48"/><circle cx="22.5" cy="47.8" r="0.8" opacity="0.72"/><circle cx="21.3" cy="40.6" r="0.6" opacity="0.87"/><circle cx="25.3" cy="38.8" r="0.7" opacity="0.37"/><circle cx="23.9" cy="3.0" r="0.6" opacity="0.72"/><circle cx="21.9" cy="27.6" r="0.4" opacity="0.68"/><circle cx="21.2" cy="3.3" r="0.5" opacity="0.64"/><circle cx="15.6" cy="10.8" r="0.7" opacity="0.78"/><circle cx="19.2" cy="30.8" r="0.5" opacity="0.49"/><circle cx="27.8" cy="45.1" r="0.7" opacity="0.87"/><circle cx="24.1" cy="43.6" r="0.5" opacity="0.49"/><circle cx="20.8" cy="13.6" r="0.7" opacity="0.44"/><circle cx="18.3" cy="20.7" r="0.7" opacity="0.85"/><circle cx="15.3" cy="19.6" r="0.7" opacity="0.41"/><circle cx="20.7" cy="4.1" r="0.7" opacity="0.38"/><circle cx="19.3" cy="13.7" r="0.4" opacity="0.81"/><circle cx="23.2" cy="31.2" r="0.6" opacity="0.80"/><circle cx="21.7" cy="34.1" r="0.5" opacity="0.74"/><circle cx="13.8" cy="5.7" r="0.6" opacity="0.40"/><circle cx="19.5" cy="21.1" r="0.8" opacity="0.54"/><circle cx="24.0" cy="34.5" r="0.5" opacity="0.46"/><circle cx="15.9" cy="23.0" r="0.7" opacity="0.54"/><circle cx="19.0" cy="23.6" r="0.4" opacity="0.56"/><circle cx="21.9" cy="46.7" r="0.4" opacity="0.83"/><circle cx="21.1" cy="5.4" r="0.7" opacity="0.90"/><circle cx="20.9" cy="4.9" r="0.4" opacity="0.86"/><circle cx="22.0" cy="5.6" r="0.4" opacity="0.44"/><circle cx="14.8" cy="16.6" r="0.6" opacity="0.46"/><circle cx="17.8" cy="21.6" r="0.5" opacity="0.73"/><circle cx="18.6" cy="18.3" r="0.6" opacity="0.34"/><circle cx="20.1" cy="20.4" r="0.7" opacity="0.34"/><circle cx="17.9" cy="3.7" r="0.7" opacity="0.32"/><circle cx="21.9" cy="1.4" r="0.4" opacity="0.64"/><circle cx="18.9" cy="16.9" r="0.6" opacity="0.81"/><circle cx="16.7" cy="15.7" r="0.4" opacity="0.73"/><circle cx="15.3" cy="11.5" r="0.4" opacity="0.38"/><circle cx="24.4" cy="53.0" r="0.4" opacity="0.65"/><circle cx="19.2" cy="36.7" r="0.8" opacity="0.55"/><circle cx="23.1" cy="3.6" r="0.5" opacity="0.57"/><circle cx="21.1" cy="22.0" r="0.6" opacity="0.83"/><circle cx="15.6" cy="9.4" r="0.4" opacity="0.65"/><circle cx="27.2" cy="45.2" r="0.6" opacity="0.38"/><circle cx="19.1" cy="24.7" r="0.5" opacity="0.31"/><circle cx="25.1" cy="37.0" r="0.5" opacity="0.32"/></g><g fill="#30083c"><circle cx="22.0" cy="24.7" r="0.5" opacity="0.38"/><circle cx="21.9" cy="28.9" r="0.8" opacity="0.51"/><circle cx="21.3" cy="29.9" r="0.5" opacity="0.49"/><circle cx="23.6" cy="31.2" r="0.5" opacity="0.41"/><circle cx="21.9" cy="34.7" r="0.7" opacity="0.68"/><circle cx="23.0" cy="39.5" r="0.4" opacity="0.47"/><circle cx="20.9" cy="27.2" r="0.5" opacity="0.48"/><circle cx="24.7" cy="49.3" r="0.9" opacity="0.51"/><circle cx="19.4" cy="17.0" r="0.7" opacity="0.66"/><circle cx="14.2" cy="7.1" r="0.6" opacity="0.51"/><circle cx="16.0" cy="34.0" r="0.5" opacity="0.45"/><circle cx="16.5" cy="7.8" r="0.5" opacity="0.45"/><circle cx="25.6" cy="42.5" r="0.7" opacity="0.60"/><circle cx="18.2" cy="8.0" r="0.9" opacity="0.45"/><circle cx="19.9" cy="11.6" r="0.6" opacity="0.67"/><circle cx="24.7" cy="11.4" r="0.7" opacity="0.60"/><circle cx="19.5" cy="22.3" r="0.5" opacity="0.35"/><circle cx="19.1" cy="17.1" r="0.9" opacity="0.64"/><circle cx="21.3" cy="2.8" r="0.9" opacity="0.48"/><circle cx="17.2" cy="9.0" r="0.6" opacity="0.47"/><circle cx="28.2" cy="49.8" r="0.6" opacity="0.69"/><circle cx="24.4" cy="43.9" r="0.8" opacity="0.62"/><circle cx="28.2" cy="47.3" r="0.8" opacity="0.36"/><circle cx="26.9" cy="50.0" r="0.7" opacity="0.33"/><circle cx="26.0" cy="42.6" r="0.8" opacity="0.40"/><circle cx="28.0" cy="49.2" r="0.9" opacity="0.44"/><circle cx="24.1" cy="36.7" r="0.4" opacity="0.46"/><circle cx="18.4" cy="2.3" r="0.8" opacity="0.57"/><circle cx="28.0" cy="49.3" r="0.6" opacity="0.34"/><circle cx="29.9" cy="48.8" r="0.7" opacity="0.46"/><circle cx="27.6" cy="45.1" r="0.7" opacity="0.64"/><circle cx="21.1" cy="18.8" r="0.4" opacity="0.53"/><circle cx="15.6" cy="25.8" r="0.5" opacity="0.51"/><circle cx="17.9" cy="30.5" r="0.5" opacity="0.36"/><circle cx="16.5" cy="16.4" r="0.4" opacity="0.41"/><circle cx="24.0" cy="26.0" r="0.6" opacity="0.43"/><circle cx="22.1" cy="27.3" r="0.7" opacity="0.64"/><circle cx="22.2" cy="39.2" r="0.7" opacity="0.51"/><circle cx="21.5" cy="37.1" r="0.4" opacity="0.61"/><circle cx="18.9" cy="10.7" r="0.8" opacity="0.40"/><circle cx="19.6" cy="7.0" r="0.9" opacity="0.34"/><circle cx="28.0" cy="43.6" r="0.6" opacity="0.35"/><circle cx="22.9" cy="40.1" r="0.4" opacity="0.60"/><circle cx="16.2" cy="15.3" r="0.5" opacity="0.31"/><circle cx="18.1" cy="16.1" r="0.8" opacity="0.68"/><circle cx="19.3" cy="11.0" r="0.8" opacity="0.63"/><circle cx="25.3" cy="33.3" r="0.8" opacity="0.35"/><circle cx="25.3" cy="44.0" r="0.4" opacity="0.54"/><circle cx="20.1" cy="4.6" r="0.4" opacity="0.55"/><circle cx="21.4" cy="34.5" r="0.6" opacity="0.66"/><circle cx="19.4" cy="28.7" r="0.5" opacity="0.54"/><circle cx="22.0" cy="41.1" r="0.7" opacity="0.47"/><circle cx="24.8" cy="40.1" r="0.8" opacity="0.50"/><circle cx="17.7" cy="6.9" r="0.7" opacity="0.49"/><circle cx="29.1" cy="44.6" r="0.8" opacity="0.45"/><circle cx="25.4" cy="37.2" r="0.5" opacity="0.57"/><circle cx="26.5" cy="51.3" r="0.7" opacity="0.52"/><circle cx="21.8" cy="36.7" r="0.5" opacity="0.61"/><circle cx="23.2" cy="20.1" r="0.4" opacity="0.42"/><circle cx="23.4" cy="37.5" r="0.7" opacity="0.34"/></g><g fill="#f048f0"><circle cx="32.0" cy="1.3" r="0.6" opacity="0.43"/><circle cx="41.7" cy="7.5" r="0.5" opacity="0.24"/><circle cx="49.6" cy="18.6" r="0.7" opacity="0.43"/><circle cx="46.1" cy="13.6" r="0.7" opacity="0.52"/><circle cx="42.6" cy="8.4" r="0.7" opacity="0.31"/><circle cx="47.5" cy="15.2" r="0.5" opacity="0.70"/><circle cx="33.0" cy="4.9" r="0.5" opacity="0.33"/><circle cx="36.2" cy="3.3" r="0.4" opacity="0.50"/><circle cx="33.6" cy="1.9" r="0.5" opacity="0.57"/><circle cx="46.9" cy="15.6" r="0.4" opacity="0.37"/><circle cx="41.4" cy="6.2" r="0.4" opacity="0.39"/><circle cx="30.0" cy="2.6" r="0.4" opacity="0.67"/><circle cx="20.8" cy="3.5" r="0.6" opacity="0.62"/><circle cx="51.2" cy="19.4" r="0.4" opacity="0.30"/><circle cx="22.1" cy="3.2" r="0.4" opacity="0.25"/><circle cx="40.7" cy="5.0" r="0.5" opacity="0.55"/><circle cx="30.7" cy="3.0" r="0.7" opacity="0.43"/><circle cx="46.7" cy="17.1" r="0.5" opacity="0.25"/><circle cx="35.4" cy="2.7" r="0.4" opacity="0.63"/><circle cx="45.0" cy="8.9" r="0.6" opacity="0.41"/><circle cx="48.6" cy="15.8" r="0.4" opacity="0.38"/><circle cx="44.1" cy="12.8" r="0.7" opacity="0.41"/><circle cx="30.1" cy="4.9" r="0.6" opacity="0.47"/><circle cx="50.7" cy="18.9" r="0.6" opacity="0.32"/><circle cx="39.9" cy="5.6" r="0.6" opacity="0.23"/><circle cx="39.6" cy="5.2" r="0.4" opacity="0.52"/><circle cx="32.8" cy="2.5" r="0.4" opacity="0.56"/><circle cx="32.2" cy="2.0" r="0.4" opacity="0.49"/><circle cx="29.4" cy="-1.4" r="0.6" opacity="0.41"/><circle cx="42.3" cy="7.5" r="0.4" opacity="0.51"/><circle cx="45.2" cy="13.1" r="0.4" opacity="0.45"/><circle cx="25.6" cy="0.6" r="0.5" opacity="0.59"/><circle cx="44.3" cy="6.9" r="0.6" opacity="0.68"/><circle cx="51.3" cy="19.8" r="0.6" opacity="0.44"/><circle cx="51.4" cy="19.4" r="0.6" opacity="0.44"/><circle cx="48.9" cy="16.5" r="0.5" opacity="0.42"/><circle cx="24.3" cy="1.7" r="0.4" opacity="0.55"/><circle cx="48.2" cy="18.2" r="0.5" opacity="0.66"/><circle cx="51.1" cy="18.4" r="0.4" opacity="0.49"/><circle cx="32.2" cy="1.9" r="0.4" opacity="0.46"/><circle cx="38.0" cy="6.5" r="0.6" opacity="0.59"/><circle cx="21.7" cy="1.7" r="0.6" opacity="0.49"/><circle cx="48.6" cy="17.1" r="0.7" opacity="0.66"/><circle cx="41.5" cy="6.8" r="0.4" opacity="0.47"/><circle cx="20.8" cy="0.6" r="0.5" opacity="0.23"/><circle cx="29.4" cy="0.4" r="0.5" opacity="0.40"/><circle cx="47.8" cy="18.0" r="0.4" opacity="0.32"/><circle cx="52.0" cy="20.0" r="0.5" opacity="0.65"/><circle cx="30.8" cy="2.0" r="0.7" opacity="0.67"/><circle cx="49.2" cy="15.1" r="0.5" opacity="0.33"/></g><g fill="#ff48ff"><circle cx="33.0" cy="74.1" r="0.4" opacity="0.79"/><circle cx="25.7" cy="49.3" r="0.4" opacity="0.61"/><circle cx="25.5" cy="70.3" r="0.5" opacity="0.67"/><circle cx="27.8" cy="65.4" r="0.4" opacity="0.47"/><circle cx="26.5" cy="57.1" r="0.7" opacity="0.56"/><circle cx="27.6" cy="62.3" r="0.4" opacity="0.60"/><circle cx="36.5" cy="65.4" r="0.7" opacity="0.65"/><circle cx="34.9" cy="52.0" r="0.6" opacity="0.89"/><circle cx="36.3" cy="49.8" r="0.5" opacity="0.81"/><circle cx="23.6" cy="75.4" r="0.7" opacity="0.75"/><circle cx="39.7" cy="62.8" r="0.6" opacity="0.67"/><circle cx="38.5" cy="53.7" r="0.5" opacity="0.56"/><circle cx="35.4" cy="74.3" r="0.6" opacity="0.69"/><circle cx="42.7" cy="52.4" r="0.5" opacity="0.76"/><circle cx="40.6" cy="63.9" r="0.5" opacity="0.85"/><circle cx="34.2" cy="48.8" r="0.4" opacity="0.85"/><circle cx="29.6" cy="51.5" r="0.5" opacity="0.83"/><circle cx="25.6" cy="59.6" r="0.7" opacity="0.62"/><circle cx="32.6" cy="51.4" r="0.4" opacity="0.55"/><circle cx="28.8" cy="55.6" r="0.4" opacity="0.54"/><circle cx="36.4" cy="76.3" r="0.5" opacity="0.68"/><circle cx="27.1" cy="59.8" r="0.5" opacity="0.60"/><circle cx="26.5" cy="75.5" r="0.7" opacity="0.49"/><circle cx="23.7" cy="61.3" r="0.5" opacity="0.89"/><circle cx="27.5" cy="74.6" r="0.8" opacity="0.69"/><circle cx="42.3" cy="72.4" r="0.4" opacity="0.89"/><circle cx="43.9" cy="61.1" r="0.7" opacity="0.43"/><circle cx="43.0" cy="77.7" r="0.8" opacity="0.90"/><circle cx="38.8" cy="67.2" r="0.5" opacity="0.65"/><circle cx="32.1" cy="53.3" r="0.4" opacity="0.60"/><circle cx="44.2" cy="50.7" r="0.5" opacity="0.71"/><circle cx="40.2" cy="75.1" r="0.6" opacity="0.68"/><circle cx="42.8" cy="56.4" r="0.6" opacity="0.64"/><circle cx="32.1" cy="58.7" r="0.6" opacity="0.89"/><circle cx="43.1" cy="50.3" r="0.5" opacity="0.52"/><circle cx="43.9" cy="64.9" r="0.6" opacity="0.63"/><circle cx="26.8" cy="61.0" r="0.5" opacity="0.86"/><circle cx="39.5" cy="57.7" r="0.5" opacity="0.53"/><circle cx="43.7" cy="67.9" r="0.6" opacity="0.50"/><circle cx="44.4" cy="74.4" r="0.4" opacity="0.53"/><circle cx="42.3" cy="49.7" r="0.6" opacity="0.60"/><circle cx="39.2" cy="62.5" r="0.5" opacity="0.54"/><circle cx="31.3" cy="48.2" r="0.4" opacity="0.75"/><circle cx="33.7" cy="52.6" r="0.6" opacity="0.71"/><circle cx="28.0" cy="58.8" r="0.5" opacity="0.53"/><circle cx="29.3" cy="65.2" r="0.4" opacity="0.87"/><circle cx="30.7" cy="53.5" r="0.7" opacity="0.47"/><circle cx="37.5" cy="48.6" r="0.7" opacity="0.49"/><circle cx="26.7" cy="63.8" r="0.6" opacity="0.64"/><circle cx="30.5" cy="62.3" r="0.7" opacity="0.70"/><circle cx="27.3" cy="73.1" r="0.4" opacity="0.70"/><circle cx="27.8" cy="56.7" r="0.4" opacity="0.71"/><circle cx="25.0" cy="77.5" r="0.7" opacity="0.90"/><circle cx="33.7" cy="74.0" r="0.4" opacity="0.66"/><circle cx="39.0" cy="64.2" r="0.4" opacity="0.54"/><circle cx="39.2" cy="49.1" r="0.4" opacity="0.80"/><circle cx="29.1" cy="64.9" r="0.4" opacity="0.53"/><circle cx="44.0" cy="76.5" r="0.7" opacity="0.66"/><circle cx="29.1" cy="70.0" r="0.5" opacity="0.83"/><circle cx="32.7" cy="66.7" r="0.6" opacity="0.74"/><circle cx="31.8" cy="62.6" r="0.4" opacity="0.69"/><circle cx="44.4" cy="51.4" r="0.4" opacity="0.47"/><circle cx="27.0" cy="70.5" r="0.7" opacity="0.59"/><circle cx="29.7" cy="52.1" r="0.5" opacity="0.83"/><circle cx="43.2" cy="61.0" r="0.7" opacity="0.50"/><circle cx="43.4" cy="68.4" r="0.5" opacity="0.67"/><circle cx="38.9" cy="72.9" r="0.5" opacity="0.80"/><circle cx="43.1" cy="53.3" r="0.4" opacity="0.53"/><circle cx="39.1" cy="76.9" r="0.7" opacity="0.89"/><circle cx="33.6" cy="64.8" r="0.6" opacity="0.63"/></g><g fill="#3a0a48"><circle cx="38.1" cy="48.9" r="0.5" opacity="0.41"/><circle cx="29.3" cy="52.9" r="0.4" opacity="0.39"/><circle cx="25.0" cy="59.0" r="0.8" opacity="0.60"/><circle cx="26.9" cy="56.5" r="0.6" opacity="0.32"/><circle cx="43.0" cy="70.1" r="0.6" opacity="0.40"/><circle cx="31.8" cy="48.0" r="0.5" opacity="0.48"/><circle cx="27.4" cy="59.4" r="0.8" opacity="0.62"/><circle cx="39.7" cy="53.5" r="0.9" opacity="0.67"/><circle cx="29.6" cy="64.7" r="0.4" opacity="0.47"/><circle cx="34.4" cy="72.6" r="0.5" opacity="0.34"/><circle cx="32.7" cy="56.7" r="0.4" opacity="0.59"/><circle cx="24.5" cy="73.1" r="0.8" opacity="0.35"/><circle cx="40.3" cy="64.4" r="0.6" opacity="0.44"/><circle cx="32.4" cy="57.7" r="0.6" opacity="0.41"/><circle cx="38.1" cy="50.3" r="0.8" opacity="0.41"/><circle cx="41.1" cy="49.2" r="0.8" opacity="0.37"/><circle cx="33.4" cy="69.0" r="0.6" opacity="0.45"/><circle cx="29.9" cy="60.3" r="0.6" opacity="0.47"/><circle cx="28.2" cy="48.2" r="0.8" opacity="0.47"/><circle cx="27.7" cy="63.9" r="0.6" opacity="0.69"/><circle cx="26.6" cy="49.7" r="0.6" opacity="0.67"/><circle cx="24.0" cy="54.4" r="0.5" opacity="0.64"/><circle cx="30.2" cy="61.1" r="0.7" opacity="0.67"/><circle cx="36.9" cy="69.7" r="0.6" opacity="0.37"/><circle cx="43.1" cy="64.4" r="0.7" opacity="0.45"/><circle cx="31.9" cy="65.7" r="0.7" opacity="0.37"/><circle cx="24.1" cy="57.4" r="0.9" opacity="0.38"/><circle cx="31.7" cy="49.6" r="0.6" opacity="0.65"/><circle cx="40.8" cy="57.6" r="0.9" opacity="0.47"/><circle cx="43.2" cy="57.1" r="0.6" opacity="0.70"/></g><g fill="#ff48ff"><circle cx="73.2" cy="22.4" r="0.7" opacity="0.66"/><circle cx="77.1" cy="27.5" r="0.5" opacity="0.72"/><circle cx="79.4" cy="22.8" r="0.5" opacity="0.87"/><circle cx="68.1" cy="16.3" r="0.6" opacity="0.51"/><circle cx="62.0" cy="18.9" r="0.6" opacity="0.71"/><circle cx="58.2" cy="17.6" r="0.6" opacity="0.76"/><circle cx="56.6" cy="15.7" r="0.4" opacity="0.73"/><circle cx="56.1" cy="19.5" r="0.5" opacity="0.46"/><circle cx="72.2" cy="31.2" r="0.6" opacity="0.69"/><circle cx="79.6" cy="21.4" r="0.8" opacity="0.49"/><circle cx="59.9" cy="26.4" r="0.4" opacity="0.91"/><circle cx="65.0" cy="17.8" r="0.8" opacity="0.81"/><circle cx="70.4" cy="24.9" r="0.6" opacity="0.53"/><circle cx="64.6" cy="27.6" r="0.7" opacity="0.70"/><circle cx="70.1" cy="24.8" r="0.5" opacity="0.53"/><circle cx="58.6" cy="29.5" r="0.6" opacity="0.83"/><circle cx="77.0" cy="25.8" r="0.5" opacity="0.46"/><circle cx="68.6" cy="16.5" r="0.7" opacity="0.86"/><circle cx="58.7" cy="21.0" r="0.6" opacity="0.82"/><circle cx="66.6" cy="30.8" r="0.4" opacity="0.71"/><circle cx="57.2" cy="18.4" r="0.4" opacity="0.55"/><circle cx="64.8" cy="27.0" r="0.4" opacity="0.90"/><circle cx="59.6" cy="26.3" r="0.4" opacity="0.42"/><circle cx="66.6" cy="22.8" r="0.8" opacity="0.48"/><circle cx="77.1" cy="22.4" r="0.8" opacity="0.45"/><circle cx="67.1" cy="30.1" r="0.5" opacity="0.60"/><circle cx="60.0" cy="19.3" r="0.5" opacity="0.49"/><circle cx="72.2" cy="30.8" r="0.4" opacity="0.59"/><circle cx="66.8" cy="24.1" r="0.6" opacity="0.90"/><circle cx="75.3" cy="16.0" r="0.5" opacity="0.82"/><circle cx="74.8" cy="21.0" r="0.7" opacity="0.44"/><circle cx="63.1" cy="23.2" r="0.4" opacity="0.76"/><circle cx="55.5" cy="31.1" r="0.7" opacity="0.51"/><circle cx="76.2" cy="24.5" r="0.7" opacity="0.94"/><circle cx="60.1" cy="30.5" r="0.4" opacity="0.47"/><circle cx="60.7" cy="21.5" r="0.6" opacity="0.76"/><circle cx="61.2" cy="26.1" r="0.6" opacity="0.64"/><circle cx="79.4" cy="22.3" r="0.4" opacity="0.41"/><circle cx="66.4" cy="21.4" r="0.7" opacity="0.79"/><circle cx="60.2" cy="18.0" r="0.4" opacity="0.57"/><circle cx="62.5" cy="27.9" r="0.6" opacity="0.45"/><circle cx="77.1" cy="19.4" r="0.8" opacity="0.81"/><circle cx="69.8" cy="18.8" r="0.4" opacity="0.65"/><circle cx="76.2" cy="24.1" r="0.7" opacity="0.80"/><circle cx="72.4" cy="28.2" r="0.8" opacity="0.78"/><circle cx="69.2" cy="20.5" r="0.8" opacity="0.51"/><circle cx="62.4" cy="20.9" r="0.5" opacity="0.40"/><circle cx="74.0" cy="21.8" r="0.4" opacity="0.62"/><circle cx="74.6" cy="31.8" r="0.6" opacity="0.70"/><circle cx="57.0" cy="28.9" r="0.8" opacity="0.88"/></g><g fill="#3a0a48"><circle cx="70.5" cy="21.4" r="0.6" opacity="0.62"/><circle cx="59.8" cy="15.4" r="0.4" opacity="0.60"/><circle cx="79.3" cy="17.2" r="0.6" opacity="0.65"/><circle cx="67.2" cy="18.7" r="0.8" opacity="0.70"/><circle cx="55.7" cy="24.2" r="0.6" opacity="0.50"/><circle cx="70.0" cy="21.4" r="0.6" opacity="0.54"/><circle cx="77.9" cy="21.1" r="0.8" opacity="0.68"/><circle cx="70.9" cy="27.4" r="0.8" opacity="0.46"/><circle cx="69.3" cy="23.4" r="0.5" opacity="0.63"/><circle cx="56.6" cy="22.3" r="0.6" opacity="0.58"/><circle cx="57.4" cy="25.4" r="0.4" opacity="0.54"/><circle cx="73.3" cy="31.0" r="0.4" opacity="0.61"/><circle cx="79.4" cy="19.5" r="0.9" opacity="0.63"/><circle cx="62.4" cy="22.7" r="0.7" opacity="0.67"/><circle cx="70.0" cy="19.5" r="0.5" opacity="0.40"/><circle cx="66.3" cy="19.8" r="0.6" opacity="0.45"/><circle cx="56.6" cy="15.1" r="0.7" opacity="0.46"/><circle cx="77.4" cy="31.1" r="0.6" opacity="0.34"/><circle cx="77.1" cy="29.9" r="0.8" opacity="0.63"/><circle cx="55.1" cy="21.4" r="0.7" opacity="0.64"/></g><g fill="#d038d8"><circle cx="36.5" cy="28.5" r="0.5" opacity="0.37"/><circle cx="13.0" cy="29.4" r="0.4" opacity="0.18"/><circle cx="14.7" cy="1.9" r="0.5" opacity="0.20"/><circle cx="64.3" cy="77.0" r="0.4" opacity="0.31"/><circle cx="34.9" cy="59.8" r="0.5" opacity="0.43"/><circle cx="51.3" cy="87.8" r="0.6" opacity="0.31"/><circle cx="12.7" cy="76.4" r="0.6" opacity="0.28"/><circle cx="61.8" cy="34.8" r="0.6" opacity="0.30"/><circle cx="20.5" cy="3.7" r="0.5" opacity="0.25"/><circle cx="48.7" cy="74.5" r="0.4" opacity="0.35"/><circle cx="12.6" cy="9.9" r="0.7" opacity="0.42"/><circle cx="23.2" cy="23.5" r="0.6" opacity="0.21"/><circle cx="52.4" cy="14.8" r="0.6" opacity="0.43"/><circle cx="14.7" cy="9.2" r="0.4" opacity="0.35"/><circle cx="16.9" cy="40.8" r="0.7" opacity="0.31"/><circle cx="36.6" cy="13.8" r="0.5" opacity="0.29"/><circle cx="26.3" cy="42.0" r="0.4" opacity="0.38"/><circle cx="45.9" cy="52.1" r="0.4" opacity="0.26"/><circle cx="65.7" cy="83.3" r="0.4" opacity="0.29"/><circle cx="35.0" cy="80.6" r="0.5" opacity="0.31"/><circle cx="31.3" cy="47.8" r="0.6" opacity="0.17"/><circle cx="3.3" cy="89.5" r="0.7" opacity="0.21"/><circle cx="78.7" cy="58.0" r="0.7" opacity="0.20"/><circle cx="77.2" cy="21.7" r="0.6" opacity="0.20"/><circle cx="32.1" cy="9.1" r="0.7" opacity="0.28"/><circle cx="43.2" cy="17.5" r="0.5" opacity="0.29"/><circle cx="73.4" cy="38.3" r="0.4" opacity="0.14"/><circle cx="53.2" cy="44.1" r="0.6" opacity="0.39"/><circle cx="4.1" cy="27.5" r="0.6" opacity="0.24"/><circle cx="56.9" cy="20.2" r="0.5" opacity="0.28"/><circle cx="27.4" cy="71.9" r="0.5" opacity="0.43"/><circle cx="36.2" cy="80.8" r="0.6" opacity="0.18"/><circle cx="48.0" cy="81.3" r="0.3" opacity="0.23"/><circle cx="16.0" cy="45.5" r="0.5" opacity="0.18"/><circle cx="46.4" cy="52.2" r="0.6" opacity="0.18"/><circle cx="31.1" cy="83.8" r="0.6" opacity="0.21"/><circle cx="66.0" cy="78.3" r="0.6" opacity="0.20"/><circle cx="37.3" cy="60.4" r="0.5" opacity="0.22"/><circle cx="16.9" cy="35.3" r="0.6" opacity="0.37"/><circle cx="42.7" cy="1.0" r="0.5" opacity="0.33"/></g></g></g>
<g id="g2"><rect width="80" height="92" fill="#05090c"/><g filter="url(#b05)"><g fill="none" stroke="#3fdc44" stroke-linecap="round" stroke-linejoin="round"><path d="M36.9 34.2L36.9 35.7L36.4 37.1" stroke-width="0.4" opacity="0.19"/><path d="M49.2 3.7L48.0 6.1L47.6 8.7" stroke-width="0.5" opacity="0.10"/><path d="M40.4 84.6L38.0 85.1L35.9 86.4" stroke-width="0.5" opacity="0.21"/><path d="M57.9 38.6L59.5 37.4L61.4 36.7" stroke-width="0.5" opacity="0.26"/><path d="M70.2 5.0L70.9 6.4L71.1 8.0" stroke-width="0.4" opacity="0.20"/><path d="M9.7 53.0L9.8 54.5L9.8 56.0" stroke-width="0.4" opacity="0.10"/><path d="M39.6 84.4L42.1 86.2L44.5 88.2" stroke-width="0.5" opacity="0.20"/><path d="M76.5 5.0L75.9 6.8L74.7 8.1" stroke-width="0.8" opacity="0.10"/><path d="M56.3 87.1L57.2 88.4L57.9 89.9" stroke-width="0.6" opacity="0.23"/><path d="M6.9 31.8L4.4 32.5L1.8 32.0" stroke-width="0.6" opacity="0.08"/><path d="M63.8 30.1L66.3 30.9L68.9 30.7" stroke-width="0.7" opacity="0.10"/><path d="M62.6 2.3L60.1 1.1L57.5 0.4" stroke-width="0.7" opacity="0.17"/><path d="M18.4 88.3L21.1 90.8L23.4 93.6" stroke-width="0.5" opacity="0.25"/><path d="M20.7 4.6L17.6 7.0L14.4 9.1" stroke-width="0.4" opacity="0.09"/><path d="M16.6 35.6L14.3 35.8L11.9 35.9" stroke-width="0.5" opacity="0.10"/><path d="M44.4 63.8L47.5 64.7L50.7 65.3" stroke-width="0.8" opacity="0.11"/><path d="M57.1 70.7L55.9 71.9L54.6 73.2" stroke-width="0.5" opacity="0.21"/><path d="M6.7 71.5L8.0 70.0L9.3 68.6" stroke-width="0.6" opacity="0.11"/></g><g fill="#3fdc44"><circle cx="38.5" cy="86.7" r="0.6" opacity="0.43"/><circle cx="2.3" cy="91.0" r="0.7" opacity="0.29"/><circle cx="41.8" cy="49.2" r="0.8" opacity="0.12"/><circle cx="51.3" cy="49.7" r="0.5" opacity="0.35"/><circle cx="57.5" cy="9.5" r="0.6" opacity="0.26"/><circle cx="39.1" cy="58.3" r="0.3" opacity="0.31"/><circle cx="29.8" cy="80.5" r="0.4" opacity="0.39"/><circle cx="58.2" cy="57.2" r="0.7" opacity="0.11"/><circle cx="47.6" cy="56.2" r="0.6" opacity="0.24"/><circle cx="5.5" cy="17.3" r="0.6" opacity="0.16"/><circle cx="5.2" cy="32.5" r="0.5" opacity="0.29"/><circle cx="2.1" cy="71.0" r="0.5" opacity="0.37"/><circle cx="0.7" cy="87.4" r="0.6" opacity="0.44"/><circle cx="78.7" cy="76.3" r="0.4" opacity="0.22"/><circle cx="18.5" cy="71.4" r="0.4" opacity="0.18"/><circle cx="8.8" cy="11.0" r="0.8" opacity="0.44"/><circle cx="29.7" cy="67.9" r="0.5" opacity="0.28"/><circle cx="29.5" cy="58.1" r="0.4" opacity="0.19"/><circle cx="41.3" cy="18.1" r="0.5" opacity="0.43"/><circle cx="1.8" cy="9.5" r="0.7" opacity="0.12"/><circle cx="20.0" cy="78.0" r="0.6" opacity="0.18"/><circle cx="4.7" cy="25.2" r="0.5" opacity="0.38"/><circle cx="77.8" cy="72.0" r="0.8" opacity="0.43"/><circle cx="70.0" cy="84.3" r="0.8" opacity="0.13"/><circle cx="25.4" cy="22.6" r="0.6" opacity="0.27"/><circle cx="27.7" cy="76.7" r="0.5" opacity="0.17"/><circle cx="22.1" cy="42.3" r="0.6" opacity="0.30"/><circle cx="35.1" cy="17.1" r="0.5" opacity="0.21"/><circle cx="13.6" cy="49.8" r="0.4" opacity="0.35"/><circle cx="52.6" cy="12.6" r="0.6" opacity="0.22"/><circle cx="35.7" cy="55.6" r="0.7" opacity="0.41"/><circle cx="58.5" cy="19.3" r="0.6" opacity="0.22"/><circle cx="1.5" cy="50.6" r="0.5" opacity="0.40"/><circle cx="25.8" cy="76.4" r="0.6" opacity="0.13"/></g><path d="M49 38L52 40M63 40L68 41M36 48L38 50M73 56L75 60" stroke="#38d040" stroke-width="1.3" opacity="0.7" fill="none" stroke-linecap="round"/></g><g filter="url(#b12)"><path d="M47 29.5C50 22 58 16.5 68 15.8C73 15.5 77 16.5 80 18V31C74 33 66 33 58 31.5C53 31 49 31 47 29.5Z" fill="#34d03a"/><ellipse cx="67" cy="24" rx="9" ry="4.5" fill="#66f468" opacity="0.75"/><path d="M21 0H36.5C36 3.5 31 5.2 26 4.2C23.5 3.5 21.8 2 21 0Z" fill="#2cc034" opacity="0.95"/></g><g filter="url(#b05)"><g fill="#7cff80"><circle cx="72.1" cy="21.0" r="0.7" opacity="0.23"/><circle cx="52.3" cy="29.9" r="0.4" opacity="0.26"/><circle cx="56.6" cy="18.3" r="0.8" opacity="0.60"/><circle cx="70.2" cy="22.5" r="0.8" opacity="0.40"/><circle cx="55.8" cy="26.7" r="0.6" opacity="0.31"/><circle cx="61.0" cy="22.4" r="0.5" opacity="0.45"/><circle cx="76.3" cy="25.0" r="0.4" opacity="0.47"/><circle cx="52.6" cy="23.7" r="0.8" opacity="0.47"/><circle cx="77.4" cy="27.6" r="0.5" opacity="0.26"/><circle cx="64.6" cy="26.5" r="0.5" opacity="0.33"/><circle cx="72.9" cy="21.9" r="0.7" opacity="0.42"/><circle cx="78.0" cy="17.4" r="0.5" opacity="0.51"/><circle cx="70.7" cy="18.4" r="0.5" opacity="0.28"/><circle cx="67.2" cy="29.6" r="0.5" opacity="0.28"/><circle cx="71.2" cy="22.9" r="0.8" opacity="0.60"/><circle cx="78.2" cy="27.0" r="0.6" opacity="0.22"/><circle cx="74.6" cy="22.6" r="0.6" opacity="0.45"/><circle cx="79.0" cy="24.8" r="0.9" opacity="0.59"/><circle cx="54.4" cy="22.0" r="0.8" opacity="0.51"/><circle cx="79.1" cy="19.6" r="0.7" opacity="0.57"/><circle cx="67.1" cy="26.4" r="0.9" opacity="0.27"/><circle cx="53.6" cy="29.0" r="0.7" opacity="0.28"/><circle cx="75.3" cy="21.0" r="0.5" opacity="0.32"/><circle cx="53.0" cy="22.7" r="0.8" opacity="0.38"/><circle cx="79.0" cy="17.6" r="0.5" opacity="0.26"/><circle cx="68.1" cy="19.8" r="0.7" opacity="0.41"/><circle cx="68.3" cy="28.8" r="0.8" opacity="0.57"/><circle cx="56.3" cy="22.3" r="0.9" opacity="0.36"/><circle cx="60.0" cy="23.7" r="0.5" opacity="0.54"/><circle cx="69.8" cy="18.3" r="0.9" opacity="0.41"/><circle cx="59.1" cy="25.6" r="0.9" opacity="0.34"/><circle cx="52.4" cy="19.8" r="0.4" opacity="0.41"/><circle cx="60.7" cy="28.9" r="0.5" opacity="0.21"/><circle cx="65.0" cy="18.7" r="0.6" opacity="0.29"/><circle cx="57.0" cy="25.9" r="0.9" opacity="0.35"/><circle cx="69.9" cy="21.5" r="0.9" opacity="0.42"/><circle cx="52.8" cy="27.4" r="0.5" opacity="0.22"/><circle cx="52.5" cy="28.8" r="0.8" opacity="0.34"/><circle cx="67.6" cy="26.9" r="0.4" opacity="0.48"/><circle cx="71.8" cy="30.2" r="0.4" opacity="0.43"/><circle cx="66.2" cy="28.8" r="0.6" opacity="0.46"/><circle cx="77.1" cy="21.9" r="0.7" opacity="0.56"/><circle cx="53.0" cy="30.6" r="0.6" opacity="0.38"/><circle cx="60.1" cy="28.2" r="0.7" opacity="0.50"/><circle cx="54.9" cy="29.3" r="0.8" opacity="0.47"/><circle cx="58.2" cy="20.6" r="0.6" opacity="0.23"/><circle cx="78.7" cy="22.7" r="0.9" opacity="0.27"/><circle cx="70.1" cy="28.2" r="0.7" opacity="0.37"/><circle cx="52.5" cy="23.1" r="0.6" opacity="0.58"/><circle cx="79.3" cy="30.4" r="0.9" opacity="0.27"/><circle cx="52.8" cy="21.1" r="0.4" opacity="0.25"/><circle cx="68.2" cy="19.8" r="0.7" opacity="0.35"/><circle cx="59.7" cy="30.6" r="0.5" opacity="0.55"/><circle cx="66.8" cy="26.3" r="0.5" opacity="0.50"/><circle cx="76.9" cy="19.8" r="0.6" opacity="0.46"/><circle cx="65.3" cy="27.5" r="0.7" opacity="0.33"/><circle cx="71.1" cy="27.8" r="0.6" opacity="0.44"/><circle cx="69.8" cy="23.7" r="0.4" opacity="0.36"/><circle cx="73.8" cy="27.1" r="0.4" opacity="0.39"/><circle cx="68.5" cy="24.5" r="0.5" opacity="0.46"/></g></g></g>
<g id="k2"><rect width="80" height="92" fill="#07282e"/><rect width="80" height="92" fill="#1a7a80" filter="url(#tvc)" opacity="0.3"/><rect width="80" height="92" fill="#2aa8ac" filter="url(#tv4)" opacity="0.5"/><rect width="80" height="92" fill="#58e8e8" filter="url(#tv5)" opacity="0.5"/><path d="M24 46C30 50 42 62 46 74C42 80 32 80 27 72C23 64 21 54 24 46Z" fill="#04161c" filter="url(#b2)" opacity="0.95"/><g filter="url(#b05)"><g fill="#44d8d8"><circle cx="22.1" cy="59.7" r="1.0" opacity="0.42"/><circle cx="52.0" cy="56.5" r="0.8" opacity="0.93"/><circle cx="42.2" cy="40.8" r="1.1" opacity="0.71"/><circle cx="24.0" cy="28.3" r="0.7" opacity="0.33"/><circle cx="48.5" cy="67.4" r="0.7" opacity="0.85"/><circle cx="74.1" cy="50.9" r="0.9" opacity="0.38"/><circle cx="4.5" cy="89.8" r="0.6" opacity="0.44"/><circle cx="71.6" cy="68.7" r="0.5" opacity="0.51"/><circle cx="19.4" cy="25.0" r="0.4" opacity="0.64"/><circle cx="24.3" cy="36.1" r="0.5" opacity="0.37"/><circle cx="2.6" cy="79.9" r="0.9" opacity="0.66"/><circle cx="9.9" cy="13.6" r="0.5" opacity="0.51"/><circle cx="4.6" cy="25.2" r="0.5" opacity="0.43"/><circle cx="52.2" cy="41.9" r="0.7" opacity="0.53"/><circle cx="5.6" cy="44.1" r="0.7" opacity="0.81"/><circle cx="8.9" cy="79.9" r="0.4" opacity="0.65"/><circle cx="35.4" cy="28.9" r="1.0" opacity="0.76"/><circle cx="13.0" cy="45.3" r="0.8" opacity="0.32"/><circle cx="7.0" cy="55.1" r="0.9" opacity="0.60"/><circle cx="33.7" cy="46.4" r="0.6" opacity="0.87"/><circle cx="76.7" cy="44.1" r="0.4" opacity="0.56"/><circle cx="64.1" cy="29.8" r="0.5" opacity="0.42"/><circle cx="56.8" cy="57.0" r="0.6" opacity="0.71"/><circle cx="60.7" cy="88.5" r="1.0" opacity="0.58"/><circle cx="64.6" cy="84.8" r="1.0" opacity="0.79"/><circle cx="46.8" cy="46.8" r="1.0" opacity="0.71"/><circle cx="57.6" cy="20.9" r="0.5" opacity="0.48"/><circle cx="46.6" cy="52.5" r="0.5" opacity="0.42"/><circle cx="75.8" cy="6.5" r="1.0" opacity="0.80"/><circle cx="45.8" cy="91.2" r="0.9" opacity="0.30"/><circle cx="74.9" cy="37.9" r="1.0" opacity="0.83"/><circle cx="11.0" cy="3.6" r="0.4" opacity="0.81"/><circle cx="63.2" cy="20.9" r="0.5" opacity="0.54"/><circle cx="63.8" cy="67.9" r="1.0" opacity="0.93"/><circle cx="60.2" cy="76.5" r="0.4" opacity="0.30"/><circle cx="68.8" cy="56.7" r="0.6" opacity="0.38"/><circle cx="26.5" cy="31.1" r="0.7" opacity="0.59"/><circle cx="16.1" cy="7.5" r="0.5" opacity="0.38"/><circle cx="8.0" cy="38.0" r="0.5" opacity="0.82"/><circle cx="43.5" cy="42.1" r="0.8" opacity="0.45"/><circle cx="1.9" cy="7.2" r="0.6" opacity="0.53"/><circle cx="20.2" cy="28.1" r="1.0" opacity="0.31"/><circle cx="35.8" cy="35.1" r="0.6" opacity="0.77"/><circle cx="17.9" cy="3.9" r="0.5" opacity="0.94"/><circle cx="27.6" cy="10.7" r="1.1" opacity="0.72"/><circle cx="76.3" cy="30.4" r="1.0" opacity="0.33"/><circle cx="19.0" cy="72.8" r="0.8" opacity="0.81"/><circle cx="30.8" cy="80.3" r="0.5" opacity="0.71"/><circle cx="15.0" cy="18.3" r="1.0" opacity="0.58"/><circle cx="64.8" cy="26.0" r="0.9" opacity="0.89"/><circle cx="50.0" cy="21.5" r="0.9" opacity="0.92"/><circle cx="63.9" cy="40.7" r="0.7" opacity="0.36"/><circle cx="61.3" cy="14.5" r="0.6" opacity="0.32"/><circle cx="13.1" cy="35.2" r="0.7" opacity="0.41"/><circle cx="10.8" cy="47.9" r="1.0" opacity="0.90"/><circle cx="45.4" cy="8.4" r="1.0" opacity="0.95"/><circle cx="71.8" cy="48.6" r="0.7" opacity="0.68"/><circle cx="63.1" cy="91.1" r="0.7" opacity="0.63"/><circle cx="24.8" cy="49.5" r="0.8" opacity="0.48"/><circle cx="36.6" cy="83.9" r="0.6" opacity="0.46"/><circle cx="24.3" cy="78.6" r="0.6" opacity="0.84"/><circle cx="74.1" cy="80.2" r="1.0" opacity="0.43"/><circle cx="48.0" cy="79.8" r="1.1" opacity="0.53"/><circle cx="9.5" cy="2.8" r="0.6" opacity="0.66"/><circle cx="22.4" cy="75.5" r="0.9" opacity="0.70"/><circle cx="66.0" cy="30.1" r="0.9" opacity="0.53"/><circle cx="23.1" cy="10.5" r="1.0" opacity="0.89"/><circle cx="2.5" cy="65.6" r="0.4" opacity="0.57"/><circle cx="25.3" cy="82.7" r="0.7" opacity="0.63"/><circle cx="28.4" cy="23.3" r="0.6" opacity="0.34"/><circle cx="1.1" cy="50.4" r="0.9" opacity="0.74"/><circle cx="20.7" cy="90.5" r="0.5" opacity="0.58"/><circle cx="26.6" cy="16.4" r="1.1" opacity="0.76"/><circle cx="10.5" cy="16.2" r="1.0" opacity="0.54"/><circle cx="24.1" cy="27.2" r="0.6" opacity="0.68"/><circle cx="42.7" cy="53.5" r="0.6" opacity="0.86"/><circle cx="74.1" cy="60.2" r="0.7" opacity="0.41"/><circle cx="49.9" cy="26.5" r="0.5" opacity="0.65"/><circle cx="16.0" cy="58.6" r="0.9" opacity="0.31"/><circle cx="50.5" cy="17.5" r="0.6" opacity="0.77"/><circle cx="77.0" cy="28.8" r="0.9" opacity="0.53"/><circle cx="75.1" cy="15.9" r="0.9" opacity="0.35"/><circle cx="44.7" cy="68.1" r="0.9" opacity="0.66"/><circle cx="48.8" cy="65.4" r="0.9" opacity="0.91"/><circle cx="49.5" cy="80.3" r="0.9" opacity="0.55"/><circle cx="64.0" cy="33.5" r="1.0" opacity="0.87"/><circle cx="71.6" cy="83.4" r="0.9" opacity="0.62"/><circle cx="23.0" cy="58.5" r="0.7" opacity="0.44"/><circle cx="60.4" cy="83.3" r="0.5" opacity="0.39"/><circle cx="9.0" cy="50.6" r="1.0" opacity="0.46"/><circle cx="63.1" cy="4.3" r="0.5" opacity="0.66"/><circle cx="60.5" cy="45.2" r="0.9" opacity="0.53"/><circle cx="30.1" cy="47.7" r="0.4" opacity="0.43"/><circle cx="19.4" cy="90.7" r="0.9" opacity="0.57"/><circle cx="62.5" cy="65.5" r="1.0" opacity="0.66"/><circle cx="49.0" cy="8.9" r="0.7" opacity="0.55"/><circle cx="20.4" cy="33.4" r="1.0" opacity="0.44"/><circle cx="9.1" cy="30.7" r="0.5" opacity="0.32"/><circle cx="72.8" cy="50.2" r="0.4" opacity="0.65"/><circle cx="13.9" cy="44.3" r="1.1" opacity="0.94"/><circle cx="6.4" cy="36.7" r="1.0" opacity="0.81"/><circle cx="57.7" cy="90.5" r="0.7" opacity="0.76"/><circle cx="65.3" cy="84.7" r="1.0" opacity="0.87"/><circle cx="27.2" cy="34.6" r="0.8" opacity="0.38"/><circle cx="24.6" cy="34.0" r="0.5" opacity="0.42"/><circle cx="52.1" cy="28.4" r="0.4" opacity="0.82"/><circle cx="75.5" cy="20.5" r="0.9" opacity="0.35"/><circle cx="17.6" cy="15.1" r="0.8" opacity="0.66"/><circle cx="65.6" cy="60.4" r="0.9" opacity="0.87"/><circle cx="46.6" cy="20.6" r="0.5" opacity="0.86"/><circle cx="65.5" cy="59.1" r="1.1" opacity="0.83"/><circle cx="32.2" cy="17.0" r="0.7" opacity="0.90"/></g><g fill="#44d8d8"><circle cx="35.6" cy="0.4" r="0.5" opacity="0.65"/><circle cx="2.8" cy="12.4" r="1.1" opacity="0.64"/><circle cx="12.8" cy="57.6" r="0.5" opacity="0.67"/><circle cx="35.3" cy="42.0" r="1.2" opacity="0.55"/><circle cx="17.2" cy="59.5" r="0.6" opacity="0.83"/><circle cx="30.0" cy="15.5" r="1.3" opacity="0.83"/><circle cx="5.3" cy="59.4" r="1.2" opacity="0.66"/><circle cx="1.2" cy="47.1" r="1.0" opacity="0.81"/><circle cx="3.2" cy="28.8" r="1.1" opacity="0.80"/><circle cx="6.9" cy="19.8" r="0.9" opacity="0.65"/><circle cx="24.7" cy="8.3" r="1.2" opacity="0.69"/><circle cx="35.9" cy="54.5" r="0.6" opacity="0.44"/><circle cx="30.9" cy="27.9" r="1.1" opacity="0.64"/><circle cx="16.6" cy="44.0" r="0.8" opacity="0.67"/><circle cx="15.9" cy="40.5" r="0.6" opacity="0.65"/><circle cx="23.2" cy="41.1" r="1.2" opacity="0.60"/><circle cx="38.5" cy="42.2" r="0.8" opacity="0.71"/><circle cx="14.5" cy="39.2" r="0.5" opacity="0.89"/><circle cx="14.4" cy="0.7" r="0.6" opacity="0.59"/><circle cx="10.5" cy="50.3" r="0.8" opacity="0.90"/><circle cx="11.1" cy="20.7" r="1.3" opacity="0.87"/><circle cx="37.5" cy="6.9" r="0.6" opacity="0.78"/><circle cx="13.5" cy="6.3" r="0.6" opacity="0.58"/><circle cx="12.4" cy="39.8" r="1.3" opacity="0.49"/><circle cx="31.8" cy="35.7" r="1.2" opacity="0.95"/><circle cx="36.6" cy="7.9" r="1.1" opacity="0.83"/><circle cx="15.2" cy="1.9" r="1.1" opacity="0.75"/><circle cx="30.4" cy="45.4" r="1.1" opacity="0.42"/><circle cx="13.4" cy="36.1" r="1.1" opacity="0.63"/><circle cx="36.4" cy="8.4" r="1.0" opacity="0.86"/><circle cx="16.2" cy="17.0" r="0.7" opacity="0.60"/><circle cx="15.6" cy="24.8" r="0.7" opacity="0.73"/><circle cx="8.9" cy="15.8" r="0.9" opacity="0.90"/><circle cx="11.0" cy="10.9" r="1.1" opacity="0.72"/><circle cx="4.8" cy="58.4" r="0.7" opacity="0.75"/><circle cx="9.5" cy="49.6" r="0.8" opacity="0.75"/><circle cx="31.8" cy="42.2" r="0.7" opacity="0.57"/><circle cx="23.3" cy="31.5" r="1.1" opacity="0.44"/><circle cx="2.6" cy="0.2" r="1.1" opacity="0.50"/><circle cx="30.1" cy="27.4" r="1.3" opacity="0.75"/><circle cx="33.8" cy="6.0" r="1.2" opacity="0.61"/><circle cx="1.7" cy="51.5" r="0.7" opacity="0.76"/><circle cx="0.7" cy="26.4" r="0.9" opacity="0.65"/><circle cx="33.1" cy="17.3" r="1.2" opacity="0.49"/><circle cx="38.7" cy="17.2" r="1.0" opacity="0.91"/><circle cx="27.2" cy="51.2" r="0.6" opacity="0.93"/><circle cx="1.6" cy="40.6" r="1.2" opacity="0.82"/><circle cx="29.1" cy="36.4" r="1.3" opacity="0.52"/><circle cx="36.4" cy="48.4" r="0.7" opacity="0.65"/><circle cx="17.4" cy="8.9" r="1.2" opacity="0.87"/><circle cx="30.0" cy="2.1" r="1.1" opacity="0.91"/><circle cx="28.7" cy="55.9" r="1.1" opacity="0.81"/><circle cx="12.1" cy="46.3" r="0.8" opacity="0.55"/><circle cx="13.2" cy="18.5" r="0.5" opacity="0.48"/></g><g fill="none" stroke="#44d8d8" stroke-linecap="round" stroke-linejoin="round"><path d="M22.1 19.9L24.9 22.0L27.3 24.7" stroke-width="0.9" opacity="0.21"/><path d="M45.7 54.0L44.8 57.4L43.8 60.8" stroke-width="0.9" opacity="0.22"/><path d="M69.9 48.0L72.7 47.6L75.6 48.0" stroke-width="0.7" opacity="0.47"/><path d="M76.0 72.7L79.1 72.5L82.2 72.6" stroke-width="0.7" opacity="0.44"/><path d="M37.0 54.0L34.6 55.8L32.0 57.4" stroke-width="0.7" opacity="0.25"/><path d="M39.6 24.4L39.3 27.2L39.6 30.1" stroke-width="0.8" opacity="0.35"/><path d="M52.9 52.6L53.9 56.2L56.3 59.2" stroke-width="0.9" opacity="0.25"/><path d="M33.2 59.4L32.7 61.6L31.8 63.7" stroke-width="0.7" opacity="0.41"/><path d="M79.1 6.0L76.0 7.9L73.3 10.1" stroke-width="0.6" opacity="0.40"/><path d="M66.1 73.1L69.2 74.1L72.4 73.7" stroke-width="0.5" opacity="0.30"/><path d="M29.8 49.9L31.1 52.8L31.5 55.8" stroke-width="0.8" opacity="0.44"/><path d="M45.0 49.5L42.9 48.8L40.8 48.7" stroke-width="0.6" opacity="0.45"/><path d="M36.3 14.0L34.7 14.2L33.2 14.7" stroke-width="0.6" opacity="0.42"/><path d="M18.2 7.7L15.6 7.3L13.0 6.5" stroke-width="0.9" opacity="0.30"/><path d="M24.3 30.4L23.8 32.4L22.7 34.0" stroke-width="0.9" opacity="0.20"/><path d="M38.0 57.8L37.3 61.2L36.6 64.6" stroke-width="0.8" opacity="0.32"/><path d="M46.0 46.4L46.8 47.9L47.8 49.1" stroke-width="0.6" opacity="0.25"/><path d="M59.9 41.6L59.4 44.6L59.5 47.5" stroke-width="0.9" opacity="0.42"/><path d="M12.3 13.0L11.8 15.2L11.4 17.5" stroke-width="0.8" opacity="0.39"/><path d="M25.5 36.6L24.0 35.2L22.2 34.3" stroke-width="1.0" opacity="0.28"/></g></g></g>
</defs>
<text x="7.6" y="1053.2" font-size="11.5" font-weight="bold" fill="#000">L</text>
<text x="28.3" y="1057.8" font-size="12.2" font-weight="bold" fill="#111">Scrambled shRNA</text>
<text x="27.7" y="1183.6" font-size="12.2" font-weight="bold" fill="#111">KCC2 shRNA</text>
<clipPath id="ic2"><rect width="79.8" height="90.8"/></clipPath>
<g transform="translate(26.1 1064.2)" clip-path="url(#ic)"><use href="#m1"/></g>
<g transform="translate(111.5 1064.3)" clip-path="url(#ic)"><use href="#g1"/></g>
<g transform="translate(197.1 1065.0)" clip-path="url(#ic2)"><use href="#k1"/></g>
<g transform="translate(282.2 1065.0)" clip-path="url(#ic2)" style="isolation:isolate"><rect width="80" height="92" fill="#000"/><use href="#k1" opacity="0.72"/><use href="#m1" style="mix-blend-mode:screen" opacity="0.9"/><use href="#g1" style="mix-blend-mode:screen" opacity="0.9"/></g>
<g transform="translate(26.1 1064.2)"><g transform="translate(26.5 30.8) rotate(57)"><path d="M0 0L5.6 -3.1L4.4 -0.9L14 -0.9L14 0.9L4.4 0.9L5.6 3.1Z" fill="#fff"/></g></g>
<g transform="translate(111.5 1064.3)"><g transform="translate(31.5 31.4) rotate(57)"><path d="M0 0L5.6 -3.1L4.4 -0.9L14 -0.9L14 0.9L4.4 0.9L5.6 3.1Z" fill="#fff"/></g></g>
<g transform="translate(197.1 1065.0)"><g transform="translate(36.1 29.9) rotate(57)"><path d="M0 0L5.6 -3.1L4.4 -0.9L14 -0.9L14 0.9L4.4 0.9L5.6 3.1Z" fill="#fff"/></g></g>
<g transform="translate(282.2 1065.0)"><g transform="translate(36.3 29.9) rotate(57)"><path d="M0 0L5.6 -3.1L4.4 -0.9L14 -0.9L14 0.9L4.4 0.9L5.6 3.1Z" fill="#fff"/></g></g>
<g transform="translate(26.8 1188.6)" clip-path="url(#ic2)"><use href="#m2"/></g>
<g transform="translate(112.1 1188.2)" clip-path="url(#ic2)"><use href="#g2"/></g>
<g transform="translate(197.8 1188.6)" clip-path="url(#ic2)"><use href="#k2"/></g>
<g transform="translate(282.6 1188.6)" clip-path="url(#ic2)" style="isolation:isolate"><rect width="80" height="92" fill="#000"/><use href="#k2" opacity="0.72"/><use href="#m2" style="mix-blend-mode:screen" opacity="0.9"/><use href="#g2" style="mix-blend-mode:screen" opacity="0.9"/></g>
<g transform="translate(26.8 1188.6)"><g transform="translate(36.4 78.0) rotate(57)"><path d="M0 0L5.6 -3.1L4.4 -0.9L14 -0.9L14 0.9L4.4 0.9L5.6 3.1Z" fill="#fff"/></g></g>
<g transform="translate(112.1 1188.2)"><g transform="translate(40.8 77.4) rotate(57)"><path d="M0 0L5.6 -3.1L4.4 -0.9L14 -0.9L14 0.9L4.4 0.9L5.6 3.1Z" fill="#fff"/></g></g>
<g transform="translate(197.8 1188.6)"><g transform="translate(45.8 76.2) rotate(57)"><path d="M0 0L5.6 -3.1L4.4 -0.9L14 -0.9L14 0.9L4.4 0.9L5.6 3.1Z" fill="#fff"/></g></g>
<g transform="translate(282.6 1188.6)"><g transform="translate(46.6 78.2) rotate(57)"><path d="M0 0L5.6 -3.1L4.4 -0.9L14 -0.9L14 0.9L4.4 0.9L5.6 3.1Z" fill="#fff"/></g></g>
<text x="67.2" y="1167.5" font-size="12.1" text-anchor="middle" fill="#d63ad6">mCherry</text>
<text x="151.1" y="1167.5" font-size="12.1" text-anchor="middle" fill="#3fae49">GFP</text>
<text x="236.6" y="1167.5" font-size="12.1" text-anchor="middle" fill="#3a9aa0">KCC2</text>
<text x="319.8" y="1167.5" font-size="12.1" text-anchor="middle" fill="#111">Merged</text>
<text x="67.2" y="1291.9" font-size="12.1" text-anchor="middle" fill="#d63ad6">mCherry</text>
<text x="151.1" y="1291.9" font-size="12.1" text-anchor="middle" fill="#3fae49">GFP</text>
<text x="236.6" y="1291.9" font-size="12.1" text-anchor="middle" fill="#3a9aa0">KCC2</text>
<text x="319.8" y="1291.9" font-size="12.1" text-anchor="middle" fill="#111">Merged</text>
<text x="348.5" y="1146.8" font-size="8" text-anchor="middle" fill="#fff">10 µm</text>
<rect x="342.2" y="1149.8" width="13.5" height="1.3" fill="#fff" />
<text x="348.5" y="1271.6" font-size="8" text-anchor="middle" fill="#fff">10 µm</text>
<rect x="342.2" y="1274.6" width="13.5" height="1.3" fill="#fff" />
<text x="390.6" y="1055.8" font-size="11.5" font-weight="bold" fill="#000">M</text>
<text x="541.1" y="1063.7" font-size="12.4" text-anchor="middle" fill="#1a1a1a">Learning after shRNA KCC2</text>
<line x1="434.1" y1="1102.6" x2="434.1" y2="1250.8" stroke="#2a2a2a" stroke-width="1.3" />
<line x1="433.6" y1="1250.2" x2="654.6" y2="1250.2" stroke="#2a2a2a" stroke-width="1.3" />
<line x1="428.6" y1="1103.2" x2="434.1" y2="1103.2" stroke="#2a2a2a" stroke-width="1.3" />
<text x="426.3" y="1107.1" font-size="10.8" text-anchor="end" font-weight="bold" fill="#1a1a1a">0.6</text>
<line x1="428.6" y1="1140.0" x2="434.1" y2="1140.0" stroke="#2a2a2a" stroke-width="1.3" />
<text x="426.3" y="1143.9" font-size="10.8" text-anchor="end" font-weight="bold" fill="#1a1a1a">0.4</text>
<line x1="428.6" y1="1176.7" x2="434.1" y2="1176.7" stroke="#2a2a2a" stroke-width="1.3" />
<text x="426.3" y="1180.6" font-size="10.8" text-anchor="end" font-weight="bold" fill="#1a1a1a">0.2</text>
<line x1="428.6" y1="1213.4" x2="434.1" y2="1213.4" stroke="#2a2a2a" stroke-width="1.3" />
<text x="426.3" y="1217.3" font-size="10.8" text-anchor="end" font-weight="bold" fill="#1a1a1a">0.0</text>
<line x1="428.6" y1="1250.1" x2="434.1" y2="1250.1" stroke="#2a2a2a" stroke-width="1.3" />
<text x="426.3" y="1254.0" font-size="10.8" text-anchor="end" font-weight="bold" fill="#1a1a1a">-0.2</text>
<line x1="445.0" y1="1250.2" x2="445.0" y2="1256.6" stroke="#2a2a2a" stroke-width="1.3" />
<text x="445.0" y="1267.0" font-size="10.8" text-anchor="middle" fill="#1a1a1a">1</text>
<line x1="461.5" y1="1250.2" x2="461.5" y2="1256.6" stroke="#2a2a2a" stroke-width="1.3" />
<text x="461.5" y="1267.0" font-size="10.8" text-anchor="middle" fill="#1a1a1a">2</text>
<line x1="478.1" y1="1250.2" x2="478.1" y2="1256.6" stroke="#2a2a2a" stroke-width="1.3" />
<text x="478.1" y="1267.0" font-size="10.8" text-anchor="middle" fill="#1a1a1a">3</text>
<line x1="494.6" y1="1250.2" x2="494.6" y2="1256.6" stroke="#2a2a2a" stroke-width="1.3" />
<text x="494.6" y="1267.0" font-size="10.8" text-anchor="middle" fill="#1a1a1a">4</text>
<line x1="511.1" y1="1250.2" x2="511.1" y2="1256.6" stroke="#2a2a2a" stroke-width="1.3" />
<text x="511.1" y="1267.0" font-size="10.8" text-anchor="middle" fill="#1a1a1a">5</text>
<line x1="527.6" y1="1250.2" x2="527.6" y2="1256.6" stroke="#2a2a2a" stroke-width="1.3" />
<text x="527.6" y="1267.0" font-size="10.8" text-anchor="middle" fill="#1a1a1a">6</text>
<line x1="544.2" y1="1250.2" x2="544.2" y2="1256.6" stroke="#2a2a2a" stroke-width="1.3" />
<text x="544.2" y="1267.0" font-size="10.8" text-anchor="middle" fill="#1a1a1a">7</text>
<line x1="560.7" y1="1250.2" x2="560.7" y2="1256.6" stroke="#2a2a2a" stroke-width="1.3" />
<text x="560.7" y="1267.0" font-size="10.8" text-anchor="middle" fill="#1a1a1a">8</text>
<line x1="577.2" y1="1250.2" x2="577.2" y2="1256.6" stroke="#2a2a2a" stroke-width="1.3" />
<text x="577.2" y="1267.0" font-size="10.8" text-anchor="middle" fill="#1a1a1a">9</text>
<line x1="593.8" y1="1250.2" x2="593.8" y2="1256.6" stroke="#2a2a2a" stroke-width="1.3" />
<text x="593.8" y="1267.0" font-size="10.8" text-anchor="middle" fill="#1a1a1a">10</text>
<line x1="610.3" y1="1250.2" x2="610.3" y2="1256.6" stroke="#2a2a2a" stroke-width="1.3" />
<text x="610.3" y="1267.0" font-size="10.8" text-anchor="middle" fill="#1a1a1a">11</text>
<line x1="626.8" y1="1250.2" x2="626.8" y2="1256.6" stroke="#2a2a2a" stroke-width="1.3" />
<text x="626.8" y="1267.0" font-size="10.8" text-anchor="middle" fill="#1a1a1a">12</text>
<line x1="643.4" y1="1250.2" x2="643.4" y2="1256.6" stroke="#2a2a2a" stroke-width="1.3" />
<text x="643.4" y="1267.0" font-size="10.8" text-anchor="middle" fill="#1a1a1a">13</text>
<text x="551.2" y="1284.7" font-size="12.1" text-anchor="middle" fill="#1a1a1a">Day</text>
<text x="399.6" y="1172.5" font-size="12.1" text-anchor="middle" fill="#1a1a1a" transform="rotate(-90 399.6 1172.5)">Rate Difference</text>
<path d="M445.0 1219.1V1215.4M441.8 1219.1h6.4M441.8 1215.4h6.4M461.5 1215.6V1206.4M458.3 1215.6h6.4M458.3 1206.4h6.4M478.1 1214.9V1200.9M474.9 1214.9h6.4M474.9 1200.9h6.4M494.6 1190.6V1173.7M491.4 1190.6h6.4M491.4 1173.7h6.4M511.1 1185.5V1167.9M507.9 1185.5h6.4M507.9 1167.9h6.4M527.6 1171.7V1152.3M524.4 1171.7h6.4M524.4 1152.3h6.4M544.2 1164.6V1146.9M541.0 1164.6h6.4M541.0 1146.9h6.4M560.7 1158.1V1131.7M557.5 1158.1h6.4M557.5 1131.7h6.4M577.2 1158.1V1135.0M574.0 1158.1h6.4M574.0 1135.0h6.4M593.8 1152.3V1129.1M590.6 1152.3h6.4M590.6 1129.1h6.4M610.3 1166.9V1128.4M607.1 1166.9h6.4M607.1 1128.4h6.4M626.8 1162.4V1127.5M623.6 1162.4h6.4M623.6 1127.5h6.4M643.4 1168.8V1144.2M640.2 1168.8h6.4M640.2 1144.2h6.4" stroke="#e5352b" stroke-width="1.3" fill="none"/>
<polyline points="445.0,1217.3 461.5,1211.0 478.1,1207.9 494.6,1182.2 511.1,1176.7 527.6,1162.0 544.2,1155.7 560.7,1144.9 577.2,1146.6 593.8,1140.7 610.3,1147.7 626.8,1144.9 643.4,1156.5" fill="none" stroke="#e5352b" stroke-width="1.7"/>
<circle cx="445.0" cy="1217.3" r="3.2" fill="#e5352b"/>
<circle cx="461.5" cy="1211.0" r="3.2" fill="#e5352b"/>
<circle cx="478.1" cy="1207.9" r="3.2" fill="#e5352b"/>
<circle cx="494.6" cy="1182.2" r="3.2" fill="#e5352b"/>
<circle cx="511.1" cy="1176.7" r="3.2" fill="#e5352b"/>
<circle cx="527.6" cy="1162.0" r="3.2" fill="#e5352b"/>
<circle cx="544.2" cy="1155.7" r="3.2" fill="#e5352b"/>
<circle cx="560.7" cy="1144.9" r="3.2" fill="#e5352b"/>
<circle cx="577.2" cy="1146.6" r="3.2" fill="#e5352b"/>
<circle cx="593.8" cy="1140.7" r="3.2" fill="#e5352b"/>
<circle cx="610.3" cy="1147.7" r="3.2" fill="#e5352b"/>
<circle cx="626.8" cy="1144.9" r="3.2" fill="#e5352b"/>
<circle cx="643.4" cy="1156.5" r="3.2" fill="#e5352b"/>
<path d="M445.0 1214.1V1210.5M441.8 1214.1h6.4M441.8 1210.5h6.4M461.5 1220.7V1211.6M458.3 1220.7h6.4M458.3 1211.6h6.4M478.1 1212.3V1201.3M474.9 1212.3h6.4M474.9 1201.3h6.4M494.6 1207.3V1200.0M491.4 1207.3h6.4M491.4 1200.0h6.4M511.1 1197.2V1186.2M507.9 1197.2h6.4M507.9 1186.2h6.4M527.6 1207.5V1190.6M524.4 1207.5h6.4M524.4 1190.6h6.4M544.2 1204.4V1194.5M541.0 1204.4h6.4M541.0 1194.5h6.4M560.7 1193.2V1177.8M557.5 1193.2h6.4M557.5 1177.8h6.4M577.2 1189.2V1169.7M574.0 1189.2h6.4M574.0 1169.7h6.4M593.8 1186.4V1165.5M590.6 1186.4h6.4M590.6 1165.5h6.4M610.3 1180.5V1166.6M607.1 1180.5h6.4M607.1 1166.6h6.4M626.8 1183.8V1161.8M623.6 1183.8h6.4M623.6 1161.8h6.4M643.4 1181.6V1158.5M640.2 1181.6h6.4M640.2 1158.5h6.4" stroke="#151515" stroke-width="1.3" fill="none"/>
<polyline points="445.0,1212.3 461.5,1216.2 478.1,1206.8 494.6,1203.7 511.1,1191.7 527.6,1199.1 544.2,1199.4 560.7,1185.5 577.2,1179.4 593.8,1175.9 610.3,1173.6 626.8,1172.8 643.4,1170.1" fill="none" stroke="#151515" stroke-width="1.7"/>
<circle cx="445.0" cy="1212.3" r="3.2" fill="#151515"/>
<circle cx="461.5" cy="1216.2" r="3.2" fill="#151515"/>
<circle cx="478.1" cy="1206.8" r="3.2" fill="#151515"/>
<circle cx="494.6" cy="1203.7" r="3.2" fill="#151515"/>
<circle cx="511.1" cy="1191.7" r="3.2" fill="#151515"/>
<circle cx="527.6" cy="1199.1" r="3.2" fill="#151515"/>
<circle cx="544.2" cy="1199.4" r="3.2" fill="#151515"/>
<circle cx="560.7" cy="1185.5" r="3.2" fill="#151515"/>
<circle cx="577.2" cy="1179.4" r="3.2" fill="#151515"/>
<circle cx="593.8" cy="1175.9" r="3.2" fill="#151515"/>
<circle cx="610.3" cy="1173.6" r="3.2" fill="#151515"/>
<circle cx="626.8" cy="1172.8" r="3.2" fill="#151515"/>
<circle cx="643.4" cy="1170.1" r="3.2" fill="#151515"/>
<line x1="550.4" y1="1089.3" x2="566.8" y2="1089.3" stroke="#151515" stroke-width="1.7" />
<circle cx="558.6" cy="1089.3" r="3.2" fill="#151515"/>
<text x="575.2" y="1093.5" font-size="12.1" fill="#1a1a1a">Scrambled shRNA</text>
<line x1="550.4" y1="1104.7" x2="566.8" y2="1104.7" stroke="#e5352b" stroke-width="1.7" />
<circle cx="558.6" cy="1104.7" r="3.2" fill="#e5352b"/>
<text x="575.2" y="1108.9" font-size="12.1" fill="#1a1a1a">KCC2 shRNA**</text>
</svg>
</body></html>
